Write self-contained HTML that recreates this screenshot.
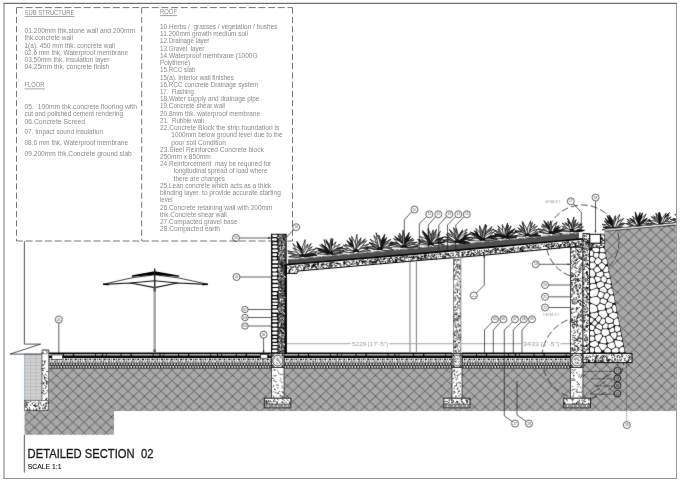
<!DOCTYPE html>
<html lang="en"><head><meta charset="utf-8"><title>Detailed Section 02</title>
<style>html,body{margin:0;padding:0;background:#fff}body{width:680px;height:483px;overflow:hidden}svg{display:block}text{font-family:"Liberation Sans",sans-serif;white-space:pre}</style>
</head><body>
<svg width="680" height="483" viewBox="0 0 680 483">
<defs>
<pattern id="hatch" width="11" height="10.4" patternUnits="userSpaceOnUse" patternTransform="translate(1.5 1)"><rect width="11" height="10.4" fill="#a9a9a9"/><path d="M0 0L11 10.4M0 10.4L11 0" stroke="#484848" stroke-width="0.8" fill="none"/></pattern>
<pattern id="brick" width="5.6" height="3.5" patternUnits="userSpaceOnUse" patternTransform="translate(24.5 354.6)"><rect width="5.6" height="3.5" fill="#d6d6d6"/><path d="M0 0.4H5.6M0.4 0V3.5" stroke="#b4b4b4" stroke-width="0.8"/><path d="M0 2H5.6M3.2 0V3.5" stroke="#c8c8c8" stroke-width="0.5"/></pattern>
<pattern id="gravel" width="2.8" height="6.3" patternUnits="userSpaceOnUse" patternTransform="translate(0.4 362.5)"><rect width="2.8" height="6.3" fill="#1a1a1a"/><ellipse cx="0.7" cy="1.7" rx="0.95" ry="1.0" fill="#fff"/><ellipse cx="2.1" cy="4.3" rx="0.95" ry="1.0" fill="#fff"/><rect x="0" y="5.8" width="2.8" height="0.5" fill="#555"/></pattern>
<filter id="soft" x="0" y="0" width="680" height="483" filterUnits="userSpaceOnUse" color-interpolation-filters="sRGB"><feConvolveMatrix order="3" kernelMatrix="0.012 0.065 0.012 0.065 0.692 0.065 0.012 0.065 0.012" edgeMode="duplicate" preserveAlpha="false"/></filter>
<filter id="gray" x="0" y="0" width="680" height="483" filterUnits="userSpaceOnUse" color-interpolation-filters="sRGB"><feOffset dx="0" dy="0"/></filter>
</defs>
<rect width="680" height="483" fill="#fff"/>
<g id="frame" fill="none"><path d="M3.4 3.4H677" stroke="#707070" stroke-width="1.1"/><path d="M4 3.4V479" stroke="#8c8c8c" stroke-width="1.2"/><path d="M676.5 3.4V479" stroke="#9a9a9a" stroke-width="1"/><path d="M3.4 478.5H677" stroke="#959595" stroke-width="1"/></g>
<g filter="url(#soft)">
<g id="earth">
<path d="M48.5 368.7H676V411H114V434.8H24.5V410H48.5Z" fill="url(#hatch)"/>
<path d="M604.6 231L676 224.8V370H583V353H625L604.6 247Z" fill="url(#hatch)"/>
<path d="M48.5 411H114" stroke="#8a8a8a" stroke-width="0.6"/>
</g>
<circle cx="582.5" cy="241.5" r="36.5" fill="none" stroke="#333" stroke-width="0.85" stroke-dasharray="7 3"/>
<circle cx="583" cy="358" r="41" fill="none" stroke="#333" stroke-width="0.85" stroke-dasharray="7 3"/>
<g id="leftedge">
<rect x="24.5" y="354" width="17.5" height="46" fill="url(#brick)" stroke="#9db4c8" stroke-width="0.8"/>
<rect x="42" y="350" width="6.5" height="60.4" fill="#fff" stroke="#333" stroke-width="0.6"/>
<path d="M43.2 401.0l-0.5 0.4M45.2 377.5l-0.5 1.1M43.0 352.7l-0.7 0.4M46.7 351.1l0.2 1.1M43.8 406.8l-0.4 0.1M42.6 382.9l-0.8 0.1M43.7 375.9l0.6 0.1M44.9 380.3l0.5 0.4M43.7 378.1l0.3 0.3M47.1 383.8l-0.3 0.5M48.0 401.7l0.7 0.3M46.5 393.0l-0.8 0.2M47.1 390.5l0.6 0.8M47.4 400.9l-0.0 1.0M42.7 365.3l-0.7 0.5M43.5 383.4l-0.6 0.9M44.6 376.9l-0.0 1.2M45.4 374.2l0.0 0.4M42.7 392.5l-1.0 0.1M44.7 361.1l-0.0 1.4M46.7 382.8l-0.6 0.3M45.3 407.2l-0.2 0.8M44.0 383.3l-0.4 0.1M46.8 399.4l-1.1 0.4M47.0 381.6l-0.2 0.8M42.8 402.3l-0.1 0.6M45.3 379.6l0.3 0.7M45.5 387.8l-0.3 0.8M42.7 364.5l0.8 0.5M47.2 398.1l-1.0 0.7M43.9 400.7l-0.3 0.4M42.6 351.9l-0.5 0.5M43.1 387.9l0.2 0.4M43.4 382.1l0.6 0.3M46.4 377.8l0.5 0.7M42.6 373.8l0.1 0.6M43.1 404.1l-0.0 0.6M45.8 399.2l0.4 0.0M43.3 393.4l1.0 0.5M46.2 383.1l1.1 0.9M46.9 381.5l0.8 0.7M44.7 385.0l0.5 0.9M42.8 368.6l-1.3 0.1M44.2 401.7l0.8 1.1M46.6 375.6l0.3 0.3M47.3 353.2l-1.1 0.7M45.6 361.1l-1.3 0.6M46.4 381.0l0.3 0.7M43.6 390.8l0.1 0.6M43.1 390.3l0.5 0.7M44.3 402.4l-0.4 0.1M43.6 370.3l-1.2 0.0M44.4 363.6l-0.6 1.1M47.6 371.3l-1.0 0.4M45.2 409.1l0.8 0.8M43.0 361.0l-0.6 0.2M46.7 386.4l-0.7 0.4M44.4 368.2l-0.9 0.4M47.7 403.3l0.9 0.4M43.1 353.3l1.2 0.3" stroke="#000" stroke-width="0.70" fill="none" stroke-linecap="round"/>
<rect x="24.5" y="400.3" width="24" height="10.1" fill="#fff" stroke="#333" stroke-width="0.6"/>
<path d="M47.0 409.5l0.5 0.1M44.2 407.6l-0.4 0.6M38.9 406.5l-0.1 0.5M34.9 404.5l-0.9 1.1M46.8 405.9l0.1 0.7M25.8 401.2l0.1 0.7M33.7 409.0l-0.1 1.0M30.4 401.2l0.3 0.5M36.7 410.0l-0.3 0.5M45.6 408.2l-0.9 1.0M42.5 408.1l0.6 1.2M47.1 402.5l-0.8 0.8M35.6 405.8l0.0 1.3M36.5 408.5l0.6 1.2M45.7 405.1l-0.3 1.3M41.6 405.4l0.6 0.5M41.1 402.5l-0.6 0.2M46.0 403.8l-1.1 0.1M36.6 405.7l-0.5 0.9M32.2 402.9l-0.0 1.3M39.3 401.7l-1.0 0.6M45.9 402.7l-0.3 0.3M40.0 403.5l1.0 0.8M27.4 405.7l-0.6 0.3M29.8 408.9l0.3 1.1M25.7 404.3l0.9 0.6M26.9 409.6l1.1 0.1M25.5 403.3l-0.5 0.3M29.2 407.2l0.2 0.4M47.8 402.4l0.7 0.1M39.2 407.7l0.7 0.3M25.7 405.0l-0.8 0.8M45.7 407.8l-1.0 0.5M35.9 403.0l-0.3 0.6M27.3 405.0l-0.5 0.2M38.5 404.5l-0.0 0.5M47.1 403.3l-0.3 0.8M25.4 406.0l0.4 0.2M25.8 402.5l1.0 0.3M36.7 409.9l-1.4 0.3M30.3 405.0l0.7 0.7M39.4 408.2l-0.4 0.5M34.7 405.7l0.4 0.0M34.4 402.0l-0.4 0.5M27.3 402.6l0.5 0.4M37.0 405.2l0.6 0.9M29.9 409.2l-1.1 0.1M35.0 405.6l-0.1 0.4M34.6 405.7l0.4 0.3M43.5 404.3l-0.1 1.3M39.0 403.6l-0.8 0.0M25.4 407.2l0.7 0.2M44.3 407.1l0.9 0.0M34.4 405.4l0.8 0.6M26.7 403.6l0.5 1.2M26.8 407.8l0.8 0.6M34.0 405.2l-0.6 0.6M27.8 402.1l1.2 0.3M39.7 409.6l-0.2 0.3M40.2 408.0l-0.6 0.7" stroke="#000" stroke-width="0.70" fill="none" stroke-linecap="round"/>
</g>
<g id="floor">
<rect x="49" y="352.5" width="222.60000000000002" height="5.8" fill="#050505"/>
<path d="M49 354.9H271.6" stroke="#e4e4e4" stroke-width="1.15" stroke-dasharray="14 0.9 9 1.2 21 0.8 6 1 3 0.7"/>
<rect x="49" y="358.3" width="222.60000000000002" height="4.2" fill="#f4f4f4"/>
<path d="M49 359.5H271.6" stroke="#222" stroke-width="1.3" stroke-dasharray="0.8 1.1 1.6 0.9 0.6 1.4 2.2 1"/>
<path d="M49 361.3H271.6" stroke="#333" stroke-width="1.1" stroke-dasharray="1.2 1.3 0.7 1.9 1.8 0.8"/>
<rect x="49" y="362.5" width="222.60000000000002" height="6.3" fill="url(#gravel)"/>
<rect x="284" y="352.5" width="168" height="5.8" fill="#050505"/>
<path d="M284 354.9H452" stroke="#e4e4e4" stroke-width="1.15" stroke-dasharray="14 0.9 9 1.2 21 0.8 6 1 3 0.7"/>
<rect x="284" y="358.3" width="168" height="4.2" fill="#f4f4f4"/>
<path d="M284 359.5H452" stroke="#222" stroke-width="1.3" stroke-dasharray="0.8 1.1 1.6 0.9 0.6 1.4 2.2 1"/>
<path d="M284 361.3H452" stroke="#333" stroke-width="1.1" stroke-dasharray="1.2 1.3 0.7 1.9 1.8 0.8"/>
<rect x="284" y="362.5" width="168" height="6.3" fill="url(#gravel)"/>
<rect x="462" y="352.5" width="108.60000000000002" height="5.8" fill="#050505"/>
<path d="M462 354.9H570.6" stroke="#e4e4e4" stroke-width="1.15" stroke-dasharray="14 0.9 9 1.2 21 0.8 6 1 3 0.7"/>
<rect x="462" y="358.3" width="108.60000000000002" height="4.2" fill="#f4f4f4"/>
<path d="M462 359.5H570.6" stroke="#222" stroke-width="1.3" stroke-dasharray="0.8 1.1 1.6 0.9 0.6 1.4 2.2 1"/>
<path d="M462 361.3H570.6" stroke="#333" stroke-width="1.1" stroke-dasharray="1.2 1.3 0.7 1.9 1.8 0.8"/>
<rect x="462" y="362.5" width="108.60000000000002" height="6.3" fill="url(#gravel)"/>
<rect x="51.9" y="354.9" width="10.6" height="4.6" fill="#fff" stroke="#111" stroke-width="0.6"/>
<rect x="260.6" y="354.6" width="7" height="3.6" fill="#fff" stroke="#111" stroke-width="0.6"/>
</g>
<g id="footings">
<rect x="271.6" y="353.6" width="12.399999999999977" height="14" fill="#fff" stroke="#111" stroke-width="0.9"/>
<path d="M272.20000000000005 354.4h2.6l-2.6 2.8zM283.4 354.4h-2.6l2.6 2.8zM272.20000000000005 366.8h2.6l-2.6 -2.8zM283.4 366.8h-2.6l2.6 -2.8z" fill="#111"/>
<ellipse cx="277.8" cy="360.6" rx="5.1" ry="5.4" fill="#f0f0f0" stroke="#222" stroke-width="0.8"/>
<path d="M278.2 360.1l-0.1 0.6M279.7 362.4l-0.3 0.5M277.9 359.5l1.0 1.0M280.8 357.8l-0.9 0.4M277.1 359.2l-0.4 0.7M278.9 361.5l1.1 0.5M280.7 363.3l-0.2 0.4M274.8 358.3l-0.7 0.1M277.0 362.9l0.5 0.8M277.4 357.9l-0.3 1.2" stroke="#555" stroke-width="0.70" fill="none" stroke-linecap="round"/>
<rect x="271.6" y="367.6" width="12.399999999999977" height="30.6" fill="#fff" stroke="#111" stroke-width="0.7"/>
<path d="M277.3 384.7l-0.8 0.2M277.9 385.4l0.8 0.5M279.2 391.2l0.7 0.2M273.5 391.7l-0.3 0.4M282.8 396.0l-0.5 0.9M274.2 369.4l-0.0 0.5M274.6 375.8l0.9 0.1M277.2 392.6l-0.1 1.0M277.8 387.5l0.1 0.7M283.0 396.9l-1.0 0.5M275.9 375.4l0.3 0.4M280.6 380.2l-0.7 0.4M282.6 392.7l0.6 0.0M282.1 382.2l-0.8 0.0M273.4 386.6l-0.5 0.4M273.5 378.3l-1.2 0.1M273.8 375.9l0.4 0.1M280.9 374.0l-0.2 0.8M274.6 389.5l1.0 0.4M273.8 380.8l0.5 0.4M282.7 391.5l0.7 1.0M274.8 380.0l-0.9 0.5M273.6 396.7l0.5 0.4M280.6 378.2l0.3 0.4M273.5 385.3l0.7 0.7M276.5 381.7l-0.9 0.1M278.6 393.3l0.5 0.3M282.0 391.9l0.4 0.4M280.3 395.3l1.1 0.8M281.8 385.9l0.1 0.5M273.0 396.0l0.8 0.8M275.3 392.1l-0.2 0.7M274.4 389.2l0.6 0.1M278.4 392.9l-0.2 0.6M282.1 374.7l0.7 0.0M277.2 370.7l0.7 0.4M278.6 372.7l0.5 1.2M282.8 387.4l-0.6 0.8M274.1 370.0l1.3 0.1M279.9 396.0l1.0 0.1" stroke="#222" stroke-width="0.70" fill="none" stroke-linecap="round"/>
<rect x="264.3" y="398.2" width="26.5" height="9.6" fill="#fff" stroke="#111" stroke-width="0.9"/>
<path d="M276.9 402.0l-0.3 0.5M265.6 400.7l0.8 0.9M282.2 401.7l-0.2 1.0M268.9 401.0l1.1 0.6M266.7 402.7l1.1 0.3M273.6 400.8l-0.4 0.2M266.8 403.1l-0.0 0.5M289.5 403.3l0.8 0.3M268.6 400.4l-0.2 0.5M282.4 399.2l1.0 0.6M275.1 400.9l-0.3 0.8M274.7 399.1l-0.9 1.0M289.2 402.0l0.3 0.7M282.2 402.0l0.6 0.2M274.2 401.3l-0.7 0.5M266.0 402.7l0.2 0.9M270.7 400.9l0.4 1.1M267.8 401.5l0.9 0.6M266.2 400.2l0.5 0.9M266.6 401.1l0.5 0.4M277.0 403.3l0.1 1.4M269.4 403.2l0.2 0.5M283.6 403.1l0.7 0.0M284.2 400.5l0.3 0.3M266.3 401.8l-1.4 0.1M277.6 399.1l0.6 1.0M285.7 401.9l0.7 0.6M277.0 401.8l0.9 1.0M287.2 399.7l0.8 1.0M272.1 403.2l-0.1 1.1" stroke="#000" stroke-width="0.70" fill="none" stroke-linecap="round"/>
<path d="M264.3 404.2H290.8" stroke="#111" stroke-width="0.8"/>
<path d="M264.8 406H290.3" stroke="#666" stroke-width="1.4" stroke-dasharray="3 0.8 5 0.6"/>
<rect x="452" y="353.6" width="10" height="14" fill="#fff" stroke="#111" stroke-width="0.9"/>
<path d="M452.6 354.4h2.6l-2.6 2.8zM461.4 354.4h-2.6l2.6 2.8zM452.6 366.8h2.6l-2.6 -2.8zM461.4 366.8h-2.6l2.6 -2.8z" fill="#111"/>
<ellipse cx="457.0" cy="360.6" rx="3.9" ry="5.4" fill="#f0f0f0" stroke="#222" stroke-width="0.8"/>
<path d="M459.4 361.6l-1.0 0.9M455.6 361.3l-1.2 0.4M457.4 358.5l0.4 1.3M454.6 359.4l-0.8 0.1M455.3 359.4l-0.7 0.2M456.6 361.3l-0.7 0.5M454.5 360.9l0.5 0.1M455.1 361.7l0.7 0.8M455.0 358.2l1.1 0.1M459.2 358.8l0.3 0.3" stroke="#555" stroke-width="0.70" fill="none" stroke-linecap="round"/>
<rect x="452" y="367.6" width="10" height="30.6" fill="#fff" stroke="#111" stroke-width="0.7"/>
<path d="M454.3 388.3l-0.4 0.8M454.7 391.2l-0.8 0.5M457.0 375.6l0.8 0.0M457.7 370.9l-0.5 0.4M454.9 370.2l-1.1 0.0M460.0 386.2l0.7 0.1M457.0 372.2l-0.8 0.1M454.2 391.9l1.2 0.5M456.6 384.5l0.4 0.8M454.5 370.0l-0.6 0.3M459.2 374.8l-1.3 0.1M459.0 390.4l-0.3 1.1M454.0 382.3l-0.5 0.3M460.4 393.9l0.2 0.7M456.6 379.8l-0.8 0.0M453.2 371.6l-0.9 1.1M457.0 382.8l-0.2 1.1M454.8 386.0l-0.2 1.0M454.4 373.8l0.6 1.2M455.8 385.7l0.3 0.4M453.5 391.8l-0.6 0.5M458.5 387.9l-1.3 0.4M456.3 396.7l-1.0 0.1M460.1 382.7l0.2 0.6M460.0 373.5l1.2 0.3M459.2 382.5l-0.4 0.2M455.1 377.1l0.1 0.6M453.6 378.5l-1.3 0.4M459.0 382.4l1.0 1.0M457.2 389.4l0.6 0.1M459.7 391.3l-0.9 0.4M456.4 385.3l-0.6 0.3M457.3 376.7l-0.3 0.3M458.5 395.7l1.0 0.1M458.2 392.8l-0.2 0.6M456.2 395.8l-0.5 0.2M453.8 371.6l0.8 0.1M454.1 393.3l-0.2 0.5M457.3 378.1l0.0 0.6M454.3 374.2l0.4 1.0" stroke="#222" stroke-width="0.70" fill="none" stroke-linecap="round"/>
<rect x="443.8" y="398.2" width="26.19999999999999" height="9.6" fill="#fff" stroke="#111" stroke-width="0.9"/>
<path d="M468.0 399.6l1.4 0.1M449.3 399.5l-0.3 0.7M466.3 400.0l-0.7 0.1M459.3 403.2l-0.7 1.1M461.9 399.2l-0.9 0.4M452.3 399.9l-0.9 0.4M467.5 402.5l-1.0 0.1M461.7 401.8l0.9 1.0M452.4 402.5l-1.0 0.1M448.2 402.7l-0.3 0.5M446.0 401.4l1.3 0.1M457.1 401.3l0.3 1.0M467.0 400.4l0.4 0.9M452.0 401.7l-0.1 0.8M461.1 401.4l1.3 0.4M453.4 400.9l0.4 1.3M467.8 401.3l0.2 0.5M466.5 399.8l-0.1 0.7M452.7 400.6l0.4 0.2M457.8 402.6l-0.3 0.5M461.6 399.2l0.3 1.2M467.1 401.1l-0.8 0.4M457.5 401.6l-1.1 0.0M456.2 402.3l-0.3 0.7M463.8 402.7l-0.4 1.3M445.2 401.3l-0.3 0.7M448.9 402.1l0.1 0.7M445.8 403.4l0.2 0.5M450.0 400.1l-0.5 0.2M451.5 399.4l0.1 0.6" stroke="#000" stroke-width="0.70" fill="none" stroke-linecap="round"/>
<path d="M443.8 404.2H470" stroke="#111" stroke-width="0.8"/>
<path d="M444.3 406H469.5" stroke="#666" stroke-width="1.4" stroke-dasharray="3 0.8 5 0.6"/>
<rect x="570.6" y="353.6" width="12.299999999999955" height="14" fill="#fff" stroke="#111" stroke-width="0.9"/>
<path d="M571.2 354.4h2.6l-2.6 2.8zM582.3 354.4h-2.6l2.6 2.8zM571.2 366.8h2.6l-2.6 -2.8zM582.3 366.8h-2.6l2.6 -2.8z" fill="#111"/>
<ellipse cx="576.75" cy="360.6" rx="5.0" ry="5.4" fill="#f0f0f0" stroke="#222" stroke-width="0.8"/>
<path d="M577.0 359.2l1.0 0.1M575.0 359.0l0.3 1.0M579.7 360.3l-1.4 0.0M575.2 357.9l1.1 0.6M577.3 363.0l-1.1 0.1M577.0 357.9l1.2 0.1M577.8 362.1l-0.2 1.1M577.6 362.9l0.8 0.3M575.6 362.5l-0.6 0.2M574.2 359.0l0.6 1.0" stroke="#555" stroke-width="0.70" fill="none" stroke-linecap="round"/>
<rect x="570.6" y="367.6" width="12.299999999999955" height="30.6" fill="#fff" stroke="#111" stroke-width="0.7"/>
<path d="M571.7 372.1l0.4 1.0M573.0 372.1l0.9 0.8M573.1 389.7l-0.3 0.5M577.1 381.5l0.4 1.3M572.6 369.6l-0.8 0.2M573.6 378.2l0.6 1.2M573.8 375.1l-0.2 0.9M581.4 392.5l0.3 0.5M580.2 396.7l1.1 0.1M580.5 387.2l0.9 0.8M579.1 374.4l-0.3 0.6M572.0 378.4l0.4 0.7M578.3 392.4l-1.4 0.2M581.8 391.1l0.3 0.5M578.0 384.3l-0.3 0.4M573.6 394.8l-0.3 1.0M572.6 380.2l-1.0 0.3M581.8 374.5l0.2 1.2M576.2 391.1l-0.1 0.5M572.6 396.5l0.6 0.2M575.1 389.0l-0.8 0.4M576.7 391.1l0.5 0.6M577.9 386.8l0.5 0.1M573.0 389.3l-0.8 1.1M579.5 376.1l-1.0 0.9M575.2 369.3l0.3 0.6M573.4 370.3l1.2 0.5M572.1 386.2l0.5 0.4M580.1 377.4l0.7 0.5M578.8 383.7l-0.7 0.3M577.0 389.1l0.1 1.1M576.4 372.7l1.1 0.4M579.3 395.4l-0.6 0.8M573.3 392.9l0.8 0.3M573.0 379.7l0.5 0.7M578.9 384.2l0.9 0.8M579.2 392.2l1.0 0.1M580.8 376.2l1.0 0.7M575.3 380.2l-0.7 0.4M573.6 375.0l0.5 1.0" stroke="#222" stroke-width="0.70" fill="none" stroke-linecap="round"/>
<rect x="563.8" y="398.2" width="26.700000000000045" height="9.6" fill="#fff" stroke="#111" stroke-width="0.9"/>
<path d="M566.7 400.0l0.8 1.1M577.1 402.2l0.9 0.3M585.6 401.4l-1.3 0.2M574.0 399.0l-0.4 0.4M565.0 402.3l-1.1 0.6M588.3 399.9l0.5 0.1M589.0 399.5l0.4 0.2M566.0 399.2l0.3 0.5M572.4 403.2l1.1 0.6M583.0 401.6l-0.3 1.1M579.3 400.0l0.3 0.6M574.7 403.4l0.1 0.5M576.6 402.7l0.2 1.1M567.0 399.3l-0.2 0.4M572.3 400.7l0.4 0.2M565.0 403.3l-0.8 1.1M576.9 403.3l-0.9 0.4M577.8 401.3l0.6 0.5M582.7 399.9l-0.8 0.4M579.7 402.7l-0.2 0.5M570.9 399.0l1.3 0.1M579.4 403.4l-0.6 0.5M588.7 403.2l0.1 0.5M572.7 399.7l0.2 0.4M582.4 403.4l0.9 0.7M579.2 401.2l-0.7 0.2M585.1 399.2l-0.6 0.1M564.9 403.0l-0.7 0.8M583.7 400.7l0.7 0.3M588.4 403.4l0.6 0.6" stroke="#000" stroke-width="0.70" fill="none" stroke-linecap="round"/>
<path d="M563.8 404.2H590.5" stroke="#111" stroke-width="0.8"/>
<path d="M564.3 406H590.0" stroke="#666" stroke-width="1.4" stroke-dasharray="3 0.8 5 0.6"/>
</g>
<g id="wallL">
<rect x="271" y="233.8" width="15.7" height="119.5" fill="#0a0a0a"/>
<rect x="278.4" y="234.6" width="7.2" height="118.4" fill="#5e5e5e"/>
<rect x="284.6" y="264" width="2.1" height="89.3" fill="#050505"/>
<rect x="272.1" y="234.8" width="5.4" height="2.1" rx="1.1" fill="#fff"/><rect x="272.0" y="238.2" width="4.9" height="2.6" rx="1.1" fill="#fff"/><rect x="272.4" y="242.2" width="5.1" height="2.1" rx="1.1" fill="#fff"/><rect x="272.3" y="245.5" width="5.3" height="2.8" rx="1.1" fill="#fff"/><rect x="272.2" y="249.4" width="5.8" height="2.6" rx="1.1" fill="#fff"/><rect x="272.3" y="253.3" width="4.9" height="2.6" rx="1.1" fill="#fff"/><rect x="272.3" y="257.2" width="4.8" height="2.2" rx="1.1" fill="#fff"/><rect x="272.3" y="260.6" width="5.8" height="2.7" rx="1.1" fill="#fff"/><rect x="272.2" y="264.7" width="5.7" height="2.3" rx="1.1" fill="#fff"/><rect x="272.1" y="268.5" width="4.9" height="2.9" rx="1.1" fill="#fff"/><rect x="272.3" y="272.4" width="5.3" height="3.0" rx="1.1" fill="#fff"/><rect x="272.1" y="276.6" width="5.2" height="2.4" rx="1.1" fill="#fff"/><rect x="272.3" y="280.3" width="5.8" height="2.5" rx="1.1" fill="#fff"/><rect x="272.3" y="284.2" width="5.9" height="2.8" rx="1.1" fill="#fff"/><rect x="272.4" y="288.1" width="5.9" height="2.8" rx="1.1" fill="#fff"/><rect x="272.3" y="292.2" width="5.0" height="2.7" rx="1.1" fill="#fff"/><rect x="272.3" y="296.2" width="4.9" height="2.1" rx="1.1" fill="#fff"/><rect x="272.2" y="299.8" width="5.7" height="1.9" rx="1.1" fill="#fff"/><rect x="272.3" y="302.8" width="5.6" height="2.2" rx="1.1" fill="#fff"/><rect x="272.3" y="306.0" width="4.8" height="2.5" rx="1.1" fill="#fff"/><rect x="272.2" y="309.7" width="5.9" height="2.9" rx="1.1" fill="#fff"/><rect x="272.2" y="314.0" width="4.9" height="2.2" rx="1.1" fill="#fff"/><rect x="272.2" y="317.2" width="5.2" height="2.0" rx="1.1" fill="#fff"/><rect x="272.1" y="320.3" width="5.8" height="1.9" rx="1.1" fill="#fff"/><rect x="272.2" y="323.7" width="5.2" height="2.9" rx="1.1" fill="#fff"/><rect x="272.2" y="327.8" width="5.5" height="2.6" rx="1.1" fill="#fff"/><rect x="272.2" y="331.7" width="5.4" height="2.9" rx="1.1" fill="#fff"/><rect x="272.4" y="336.0" width="5.1" height="2.1" rx="1.1" fill="#fff"/><rect x="272.2" y="339.3" width="4.8" height="2.5" rx="1.1" fill="#fff"/><rect x="272.3" y="343.1" width="5.5" height="1.8" rx="1.1" fill="#fff"/><rect x="272.3" y="345.9" width="5.3" height="2.6" rx="1.1" fill="#fff"/><rect x="272.0" y="349.7" width="5.6" height="2.6" rx="1.1" fill="#fff"/>
<path d="M280.1 247.2l0.2 0.5M279.2 282.4l-1.2 0.3M283.1 261.2l-0.1 0.7M279.8 247.5l1.0 0.8M283.4 330.2l-0.5 0.3M280.5 309.0l-0.8 0.9M283.7 245.2l-0.3 1.0M281.6 256.0l0.0 0.5M284.0 337.1l-0.1 0.7M283.9 302.5l-1.2 0.5M281.6 283.8l-0.3 0.8M279.7 271.0l-0.4 0.2M279.1 308.9l0.6 0.7M281.4 275.5l-0.6 0.0M281.1 258.9l-0.3 0.6M280.8 323.1l0.5 0.8M283.9 246.9l0.6 0.1M283.1 307.6l0.5 0.5M279.8 289.2l1.1 0.1M283.8 347.7l-0.9 1.0M278.9 269.1l-1.2 0.1M281.1 346.3l-0.5 1.1M280.4 257.6l0.1 0.5M280.9 348.5l0.2 0.4M279.1 255.0l-0.6 0.5M280.4 246.5l-0.8 0.0M280.0 242.0l0.6 0.1M282.6 252.7l0.9 0.1M280.2 352.7l0.9 0.3M283.1 283.3l-0.9 0.0M280.2 283.5l0.8 0.1M280.2 339.9l-0.8 0.5M279.0 265.0l0.4 0.4M280.1 337.6l0.4 0.2M284.0 301.7l-0.8 0.0M283.8 312.2l-0.9 0.7M281.6 246.0l1.0 0.8M283.8 344.1l0.5 0.9M283.3 310.8l-0.8 0.5M282.5 315.9l0.9 1.0M284.2 243.8l-1.4 0.1M282.5 240.3l-0.5 0.2M284.2 313.7l0.6 0.1M282.4 302.2l-0.9 0.9M280.0 235.4l-0.4 0.1M283.7 248.7l-1.0 0.7M283.7 300.0l-0.6 0.2M282.6 274.0l-1.1 0.4M281.4 297.1l0.4 0.0M282.1 292.7l-0.9 0.4M279.6 277.8l-0.7 0.6M278.9 333.8l-0.4 0.3M281.8 280.0l-0.6 0.4M280.1 292.4l-0.5 0.1M279.4 308.3l-0.9 0.3M281.2 336.2l-0.4 0.3M283.7 258.1l0.7 1.0M281.2 329.2l1.1 0.6M279.8 252.6l0.0 0.7M281.8 341.7l-0.2 0.3M280.5 299.3l0.0 1.1M281.5 243.9l0.9 0.9M280.8 325.5l-1.0 0.0M282.6 306.9l0.7 1.1M281.4 342.5l0.7 1.0M283.2 307.3l0.1 0.5M283.1 277.7l-0.3 0.5M279.3 252.0l-0.5 0.3M283.9 278.9l-0.2 0.7M282.3 246.0l0.4 1.3M279.8 312.2l0.4 0.6M278.9 237.4l-1.2 0.2M283.3 330.3l-0.6 0.1M282.1 293.4l-0.3 1.3M283.1 349.3l1.0 0.4M282.6 322.9l-0.4 1.1M280.5 344.5l0.3 1.0M283.8 318.0l0.4 0.5M280.6 309.0l-1.3 0.0M281.0 282.3l-0.6 0.4M281.1 236.6l0.8 0.5M282.7 307.5l0.6 1.2M282.3 253.4l1.3 0.3M284.3 343.6l-0.2 0.7M279.3 265.4l1.0 0.9M283.8 326.8l0.6 0.3M280.5 346.9l1.0 0.6M282.6 299.6l-0.7 0.1M281.7 253.6l0.4 0.1M280.6 249.4l1.4 0.3M280.4 340.0l-0.7 0.9M282.5 347.4l-1.0 0.4M281.9 316.9l-0.6 0.7M281.6 253.2l-0.8 0.4M279.2 254.8l-0.6 0.3M281.0 315.5l-0.7 0.3M281.0 284.9l1.3 0.1M278.9 348.3l0.5 0.3M283.6 332.2l0.7 0.6M281.5 319.8l1.0 0.7M284.4 318.4l-1.3 0.3M280.9 335.0l-0.9 0.5M279.4 308.1l-0.7 0.2M282.4 340.9l-0.1 0.4M282.3 265.2l-1.0 0.5M280.5 340.7l-0.3 0.7M283.5 340.2l-1.2 0.4M282.5 317.5l-0.3 0.9M284.3 276.7l1.1 0.3M281.6 299.4l-0.2 0.6M279.9 243.4l-1.0 0.8M282.7 248.8l-1.2 0.1M281.7 235.1l-0.9 0.5M282.3 237.2l-0.3 0.3M281.5 252.1l0.5 1.2M283.0 331.3l0.5 0.6M282.2 239.0l0.4 1.3M283.0 336.8l0.6 0.9M283.2 318.1l0.1 0.6M278.9 339.7l-0.7 0.1M283.0 283.0l-0.5 1.1M280.6 308.2l0.6 0.7M279.0 266.1l0.8 1.0M279.5 324.5l1.3 0.4M279.7 245.9l1.0 0.8M282.5 340.1l0.0 0.5M280.7 288.8l-0.6 0.0M280.2 334.5l1.3 0.5M280.5 301.9l-0.6 1.1M279.2 334.9l0.9 0.6M279.0 325.5l0.5 0.3M279.0 273.3l0.7 1.2M282.2 278.0l-0.6 0.0M280.0 347.8l-1.1 0.2M284.3 241.8l-1.1 0.3M282.5 334.5l0.6 0.2M279.6 291.5l-0.1 0.9M280.8 322.8l-1.0 0.6M279.0 253.0l0.5 0.4M282.0 258.0l-0.3 0.7M280.8 318.6l-0.6 0.1M280.8 350.8l0.3 0.3M279.9 332.4l-0.9 1.0M281.6 239.9l0.6 0.9M281.0 251.5l0.3 0.8M280.8 287.7l0.4 0.2M283.2 321.4l0.1 0.5M280.5 300.9l-0.8 0.3M284.3 297.2l0.9 0.5M282.2 305.7l-0.3 0.3M281.2 329.4l0.4 0.2M279.8 268.7l0.1 0.7M282.4 255.1l0.5 1.0M281.8 348.1l-0.6 0.1M280.7 298.4l-0.1 0.8M283.6 258.2l0.0 0.5M283.7 305.3l-0.5 0.0M282.8 305.4l1.2 0.2M283.7 244.5l-1.2 0.2M282.2 299.2l0.3 0.3M281.5 337.2l0.7 0.5M280.4 316.5l-1.3 0.2M280.4 284.2l0.9 0.0M283.6 334.7l0.8 0.2M279.2 285.1l-0.7 0.2M283.5 347.7l-0.5 0.3M283.9 343.9l-0.4 0.0M278.8 269.4l-0.0 0.8M279.3 310.6l-0.5 0.9M281.7 299.8l-0.3 0.4M281.2 251.0l1.1 0.4M280.6 275.0l0.6 0.8M279.5 310.7l1.3 0.3M279.7 325.6l-0.1 0.8M280.5 277.4l-0.7 0.6M281.8 264.2l-0.2 0.5M281.5 311.9l-0.1 1.0M282.0 257.9l-1.1 0.1M282.9 347.7l0.1 0.7M280.5 272.3l0.4 0.6M280.0 292.1l0.5 0.6M282.5 272.2l-1.1 0.5M280.6 333.5l0.4 0.3M284.4 238.9l1.3 0.0M278.8 312.3l-0.1 0.6M280.2 349.1l0.2 0.6M281.3 321.4l0.3 0.4M283.2 246.3l0.4 0.1M284.4 286.2l-0.6 0.7M284.3 275.5l0.5 1.0M278.8 277.9l-0.7 0.7M281.5 345.5l0.2 1.1M281.0 245.2l0.2 0.6M279.0 268.7l0.8 0.3M282.9 324.4l-0.7 0.3M282.5 339.9l0.4 1.2M279.4 343.7l-1.3 0.5M283.5 318.9l0.2 1.1M283.7 302.9l-0.5 1.2M280.4 274.6l1.3 0.1" stroke="#fff" stroke-width="0.80" fill="none" stroke-linecap="round"/>
<path d="M281.4 262.2l1.1 0.7M282.7 316.4l-0.1 0.8M283.8 303.0l-0.8 0.7M284.5 286.8l0.5 0.3M283.7 254.8l-0.5 0.9M279.2 327.5l1.3 0.1M284.5 260.5l-0.7 0.9M279.7 314.1l1.2 0.5M283.5 350.6l0.7 0.1M283.0 306.8l1.1 0.7M284.6 270.6l1.0 0.5M281.6 313.3l0.0 0.8M278.9 250.9l0.1 1.1M281.7 322.8l-0.2 1.3M283.3 273.0l0.4 0.2M279.1 336.8l-1.1 0.4M279.5 312.9l1.2 0.5M283.3 323.5l-0.3 0.8M284.6 348.5l0.6 0.6M283.8 315.2l0.2 0.8M285.4 267.6l0.9 0.7M280.7 340.9l0.7 1.1M281.4 339.4l-0.8 0.8M280.3 254.4l0.6 0.1M283.3 242.6l0.7 0.7M279.9 273.8l0.8 0.7M279.6 352.7l-0.3 1.1M282.6 293.7l-1.3 0.1M284.4 238.5l-0.4 1.3M283.1 295.5l-0.3 0.5M283.7 327.5l0.9 0.2M282.8 276.5l-0.7 1.1M285.0 271.3l1.1 0.6M283.0 332.9l-0.6 0.3M282.8 270.8l-0.9 0.6M280.4 294.0l-0.2 0.6M280.0 291.0l0.9 0.2M285.2 332.5l1.2 0.2M283.7 318.6l1.2 0.1M280.1 329.8l0.4 0.7M280.0 337.4l1.0 0.8M282.3 252.5l-0.4 0.8M279.0 332.2l0.3 0.3M284.0 320.8l0.2 0.5M282.4 304.2l-0.5 0.7M282.7 320.1l0.5 0.3M282.1 324.0l-1.0 0.7M281.8 319.2l0.7 0.3M279.3 333.6l-1.1 0.0M283.9 278.9l-0.4 0.3M281.3 276.4l-0.5 0.2M279.9 245.5l-0.6 0.3M284.9 271.9l-0.5 0.3M284.9 349.9l-1.0 0.4M284.9 342.9l-0.7 0.1M284.6 327.0l0.3 0.5M284.9 290.7l-0.1 1.3M282.1 264.8l-0.5 0.8M280.7 316.7l-0.6 0.2M284.3 323.9l-0.0 0.6M283.3 268.2l0.9 0.9M280.6 245.9l-1.2 0.7M280.9 282.8l-0.2 1.1M278.9 311.5l1.0 0.9M281.6 346.4l0.2 1.0M279.1 258.9l0.5 0.6M280.0 284.7l0.9 0.3M285.3 336.1l-0.5 1.3M283.8 309.8l0.1 0.5M284.9 340.8l-0.9 0.6M284.3 348.1l-1.2 0.1M278.9 346.8l-0.2 0.8M281.7 266.9l1.0 0.1M283.0 245.2l-1.3 0.3M284.7 298.4l0.3 0.8M281.3 347.8l-1.3 0.3M282.3 295.3l-0.4 0.6M280.1 351.2l0.4 0.5M282.1 245.4l-0.0 0.6M284.4 244.7l-0.5 0.4M284.2 329.5l-0.6 0.1M285.5 252.5l0.2 0.4M282.2 244.7l-0.2 1.3M284.1 311.4l1.3 0.4M281.3 347.0l0.6 0.3M285.2 323.1l0.7 0.5M282.5 264.7l0.4 0.3M282.3 284.1l0.4 0.8M281.2 280.6l-0.4 0.4M279.4 287.7l0.5 0.7M284.6 346.7l-1.1 0.7M280.4 275.9l0.6 0.2M280.6 263.3l0.7 1.2M282.3 341.2l-0.1 1.1M283.4 304.9l-1.0 0.2M282.2 262.1l0.8 0.3M281.6 250.4l-0.4 0.1M281.8 264.1l0.4 1.2M285.4 282.0l-0.8 1.0M280.8 281.8l0.3 1.2M280.9 340.8l0.9 0.6M283.1 239.0l0.6 1.1M281.5 241.8l0.1 0.9M282.0 284.7l-1.1 0.2M281.8 287.7l-0.5 0.4M282.1 324.7l0.5 0.2M279.1 314.0l-0.9 0.6M283.0 238.7l0.4 0.8M281.1 264.5l0.2 0.6M279.3 302.4l0.8 0.1M281.5 330.6l-0.5 0.7M278.8 319.0l-0.7 0.8M285.5 293.0l0.3 0.9M279.5 308.9l1.0 0.4M283.0 315.8l0.9 0.6M285.2 351.3l-0.4 0.4M284.1 255.9l-0.4 0.0M278.9 282.4l1.3 0.3M285.1 265.6l-0.7 0.3M284.4 249.7l-0.8 0.2M280.4 287.5l0.4 0.0M282.0 305.3l-0.9 0.0M281.1 265.8l1.3 0.1M283.6 266.2l-0.8 0.8M283.1 288.3l-1.2 0.5M284.0 256.9l0.2 1.0M285.3 294.6l0.0 0.5M279.2 266.7l-0.3 0.5M283.9 310.9l0.6 0.7M284.5 238.7l-0.4 1.1M285.4 274.2l-0.5 1.1M280.9 326.5l-1.0 1.0M281.6 247.9l-0.1 1.1M285.0 324.2l-0.2 1.2M284.6 307.2l0.3 0.3M282.8 236.6l0.6 1.2M280.6 316.3l-0.5 0.5M282.9 339.5l-0.5 0.6M285.6 314.2l0.9 0.8M284.1 338.5l-1.0 0.6M281.5 324.2l-0.9 0.8M280.3 351.4l-0.3 1.3M282.3 327.1l-0.2 0.7M282.1 331.9l0.8 1.0M283.8 328.0l-0.1 1.1M283.1 284.0l1.0 0.0M283.5 300.5l0.3 0.9M279.5 311.0l0.5 0.1M279.3 347.4l-1.0 0.3M285.2 259.7l-0.4 0.8M279.5 303.1l0.6 0.2M279.8 264.0l-0.8 0.3M282.5 252.0l0.4 0.2M283.6 303.3l-0.7 0.7M280.5 282.0l0.5 1.2M283.6 333.2l-0.6 1.2M284.0 235.0l0.4 0.1M284.9 259.8l0.1 1.0M280.3 267.6l-0.5 0.2M284.5 290.3l-0.4 0.7" stroke="#000" stroke-width="0.80" fill="none" stroke-linecap="round"/>
<path d="M281.6 235V353" stroke="#111" stroke-width="0.6" stroke-dasharray="1.5 1"/>
</g>
<g id="roof">
<path d="M286.5 264.69 290.0 264.40 298.0 263.74 420.0 253.60 480.0 248.18 565.0 240.50 583.0 238.87 L583.0 245.78 565.0 247.50 480.0 255.60 420.0 260.40 298.0 271.00 290.0 271.70 286.5 272.00Z" fill="#fff"/>
<path d="M471.1 254.1l-1.2 0.9M505.6 251.9l1.0 0.1M565.8 244.9l-0.6 0.2M425.6 255.5l-0.1 1.1M290.9 266.7l0.9 1.1M513.3 247.2l-0.5 0.4M469.5 251.0l1.4 0.0M348.9 261.8l-1.4 0.1M372.5 263.5l-0.1 1.2M347.5 265.6l-0.8 1.2M551.1 244.5l0.3 0.6M330.1 262.6l0.6 0.9M288.0 269.4l0.4 0.7M528.9 247.5l0.5 0.8M495.2 248.3l-0.5 0.0M508.6 251.3l1.3 0.1M395.2 259.7l0.5 0.0M340.5 266.3l1.0 0.7M561.7 246.7l0.4 0.8M442.0 256.7l1.2 0.4M522.6 250.0l1.4 0.2M313.9 265.4l-0.5 1.3M387.5 262.1l-0.1 0.8M380.6 259.0l0.6 0.2M490.7 253.8l0.5 0.3M578.6 243.1l0.2 0.7M462.5 255.3l0.1 0.9M303.5 269.3l1.0 0.1M534.8 245.1l-1.0 1.1M473.3 254.2l0.9 0.3M331.1 266.5l0.6 0.8M582.3 244.3l-1.0 0.1M431.3 257.4l0.1 0.8M406.3 256.6l0.6 1.4M570.6 244.3l0.0 0.8M313.3 265.1l-1.1 0.9M393.8 260.8l-0.9 0.8M483.2 253.2l0.5 1.1M370.0 261.4l-0.9 0.8M373.8 263.3l-0.5 1.0M290.4 268.5l0.8 0.8M423.8 258.4l-0.6 1.2M389.8 260.5l-0.9 1.0M390.4 261.4l-1.1 0.5M575.4 245.5l-0.1 1.0M336.1 266.1l-1.0 0.2M491.3 252.2l-0.4 0.5M517.6 249.0l-0.5 0.8M471.3 254.3l-0.5 1.1M295.2 266.0l0.2 1.1M351.7 263.9l-0.2 0.5M426.4 255.3l0.6 0.1M380.8 259.0l0.4 0.3M424.5 256.2l-0.4 1.0M357.3 264.6l0.9 0.0M369.3 261.1l1.2 0.5M397.5 256.8l-0.2 0.6M448.1 254.0l-0.4 1.4M528.9 247.1l-1.0 0.6M396.2 257.5l-0.3 1.0M569.9 246.1l-0.3 0.8M551.0 243.0l1.0 0.4M468.8 251.1l-0.6 1.3M398.1 258.7l0.6 0.5M574.4 242.7l-1.4 0.2M463.1 252.3l-1.0 0.1M409.8 257.2l-1.0 0.0M371.6 261.2l1.0 0.4M418.0 256.4l-1.0 0.8M290.9 268.3l0.9 1.1M518.1 247.2l0.4 0.5M579.2 241.9l-0.3 0.9M477.6 252.9l-0.4 0.4M511.7 248.1l-0.1 0.8M374.7 261.2l0.1 0.9M507.2 250.0l0.7 0.1M421.6 259.1l-1.0 0.4M291.3 269.6l0.2 1.0M496.3 251.3l0.1 1.4M400.9 258.3l-0.6 0.3M374.6 262.7l1.3 0.3M492.3 250.6l0.8 1.0M556.1 243.2l0.1 1.0M434.1 255.2l1.0 0.5M526.9 245.5l1.0 0.9M521.0 249.1l1.2 0.1M576.2 245.6l-0.3 0.4M535.8 245.5l-0.6 1.3M497.5 248.5l0.9 1.1M331.2 265.3l0.2 0.6M470.9 250.4l0.8 0.3M308.3 264.4l-0.3 1.2M546.6 244.0l0.2 0.8M464.4 253.4l-0.9 0.2M303.5 268.1l1.0 0.5M436.5 257.8l-0.2 1.1M364.8 262.2l0.9 0.9M439.8 253.7l0.6 0.6M504.7 248.1l-0.7 0.9M312.2 267.2l0.6 0.2M462.5 252.2l-0.9 0.4M382.5 261.8l1.2 0.1M302.9 265.3l-1.2 0.2M352.9 261.0l-1.2 0.1M529.5 245.6l-0.3 0.8M356.4 261.8l-0.3 0.8M401.0 257.0l-1.0 0.6M524.7 247.6l-0.9 0.5M462.1 254.0l-0.6 0.7M315.7 263.6l0.4 0.3M549.8 245.5l-0.4 0.3M425.9 258.6l-0.3 0.9M424.6 254.9l0.6 0.3M397.7 258.5l-0.6 0.2M362.1 261.0l0.7 0.4M356.5 262.5l1.4 0.1M396.0 261.4l-0.7 1.0M426.4 258.8l1.1 0.4M373.0 262.1l-0.4 0.5M346.4 261.0l0.4 0.4M405.5 260.7l0.3 0.7M425.3 255.7l-0.8 0.9M335.3 263.1l-0.7 1.2M477.9 251.9l-0.5 0.0M305.0 268.4l0.2 0.5M449.1 257.2l-0.1 0.8M314.7 263.9l-0.9 0.3M563.5 242.1l0.4 0.4M404.4 256.4l0.6 0.7M377.4 258.6l1.5 0.2M340.0 264.0l0.3 1.0M311.9 265.4l1.0 0.3M559.2 245.2l-0.6 0.3M292.1 268.3l0.0 1.1M398.3 259.7l-0.9 1.1M377.9 260.5l-0.6 0.4M321.2 264.6l1.2 0.3M529.1 246.6l0.5 0.2M359.4 260.3l0.2 1.1M359.5 260.1l-0.3 0.4M346.1 262.4l0.2 0.6M411.3 257.0l-0.8 0.7M551.8 246.2l-0.8 0.7M417.7 258.9l-0.7 1.3M502.1 251.1l0.9 1.0M400.0 257.1l0.7 0.1M364.6 262.8l0.4 0.4M512.7 249.4l0.5 0.0M325.4 264.5l-1.3 0.6M467.8 251.7l0.2 0.8M384.6 257.8l-0.3 1.3M501.8 247.9l-0.1 0.7M496.6 250.3l-1.3 0.2M321.9 264.6l-0.9 0.3M415.3 257.3l-1.1 1.0M444.4 257.5l-0.2 0.6M527.6 247.3l1.5 0.2M296.7 268.1l0.1 1.4M403.0 257.3l0.5 0.5M453.2 253.6l-0.5 0.5M390.9 258.4l-1.3 0.1M538.1 247.3l0.2 0.6M532.8 247.1l0.7 0.1M316.2 267.2l-0.7 0.2M522.5 247.2l-0.7 1.1M471.1 254.4l0.2 0.5M438.2 256.1l0.7 0.5M380.7 258.2l0.5 0.7M427.7 257.5l0.5 1.4M528.0 249.8l-0.7 1.0M445.6 256.5l0.5 1.0M487.8 251.5l0.4 0.4M312.8 265.6l-0.3 1.2M498.1 249.4l-0.8 0.2M498.6 248.1l-0.8 0.8M569.8 245.7l-0.7 1.1M505.3 250.3l0.8 0.6M551.8 244.1l-1.0 0.1M403.3 256.2l0.2 0.6M480.0 254.3l-1.1 0.3M401.3 256.9l-0.6 0.9M498.4 249.7l-0.7 0.2M377.3 259.7l-0.5 1.3M336.5 265.0l-0.5 0.5M305.5 267.3l-1.2 0.7M502.1 249.6l0.2 1.0M554.3 244.2l0.7 0.9M572.6 241.9l0.6 0.1M453.2 254.9l0.6 0.4M462.7 254.3l-0.7 1.0M305.1 266.9l-1.3 0.7M381.1 262.2l-0.6 1.3M354.7 263.7l-0.9 0.5M316.8 264.4l0.5 0.3M331.9 265.3l1.2 0.4M504.6 251.5l-1.0 0.7M560.1 247.0l-0.6 1.4M317.5 263.8l0.7 0.1M397.6 258.9l-0.7 1.0M311.8 265.9l-0.1 0.9M321.7 266.1l0.5 1.1M433.4 258.3l-0.6 0.1M511.5 250.3l0.4 0.5M428.5 255.8l-1.0 1.0M399.9 257.9l0.0 1.2M520.1 248.8l0.5 0.7M537.6 246.8l0.9 0.1M357.3 263.4l0.8 0.2M315.4 266.0l-1.0 0.1M401.1 260.9l0.8 0.2M526.6 245.2l-0.6 0.6M291.8 266.8l0.1 0.9M439.7 253.3l1.1 0.9M417.8 257.3l0.8 0.2M569.1 244.7l-0.0 0.6M403.0 260.0l0.2 1.1M553.6 246.0l-0.2 0.5M294.0 269.3l0.4 1.3M531.0 249.5l0.6 1.4M510.5 251.3l1.1 0.6M411.7 260.2l-0.7 0.0M411.5 256.8l0.1 0.8M484.0 249.7l0.8 0.5M308.8 266.0l-1.3 0.4M345.1 261.1l-1.3 0.8M464.0 251.5l1.0 1.0M564.1 241.9l0.8 0.5M365.8 263.1l0.5 1.2M331.9 264.8l-1.2 0.1M313.6 264.2l-0.4 0.8M396.0 259.1l-0.4 1.4M358.2 262.8l0.7 0.8M503.1 248.0l0.1 1.2M289.4 269.7l0.3 1.0M467.4 254.7l1.0 0.2M298.3 266.9l0.2 0.5M375.0 260.8l-0.7 1.3M396.5 259.3l-0.9 1.1M567.6 246.4l0.4 0.5M562.4 242.3l0.2 1.2M443.2 254.7l-0.8 0.2M450.0 256.3l0.8 0.4M433.1 256.4l0.8 0.6M304.7 264.8l0.3 0.6M572.9 242.3l0.8 1.0M506.0 248.4l-1.0 0.6M401.8 259.4l0.5 0.5M546.0 245.6l-0.6 0.2M327.6 262.7l-0.7 0.8M289.9 265.8l-0.8 0.5M544.5 243.8l-0.2 0.6M500.1 250.8l-0.2 0.7M567.4 242.0l1.2 0.2M314.4 263.9l0.1 1.1M550.6 246.7l1.1 0.2M536.3 244.9l-0.5 0.5M375.2 258.5l-0.7 0.7M553.5 245.1l0.6 0.3M364.8 264.1l0.5 0.4M391.2 257.6l0.3 1.1M479.3 250.4l0.9 0.4M490.1 250.9l-0.3 1.4M329.9 263.7l0.0 1.0M553.0 245.6l-0.4 0.8M518.8 250.2l0.4 0.5M363.6 261.3l-0.7 0.3M473.0 253.4l-0.6 0.1M514.5 248.0l1.1 0.4M536.5 247.3l1.5 0.2M400.5 259.5l-0.5 0.6M407.7 257.4l0.5 0.2M498.8 249.9l-0.5 0.2M376.1 259.3l-1.3 0.2M551.9 245.5l0.9 0.3M353.8 260.4l-0.2 0.8M318.9 265.9l-1.4 0.3M424.7 254.9l-0.5 0.4M445.8 252.9l-1.0 0.0M416.3 256.4l-0.2 1.5M413.4 256.4l-0.1 1.4M399.8 259.6l-0.8 0.2M526.6 247.9l0.5 0.2M564.5 244.1l0.3 1.4M456.6 254.1l0.8 1.0M362.7 261.9l-0.8 0.8M326.7 263.6l-0.7 1.0M317.3 268.5l0.6 0.3M313.5 266.0l-0.5 1.3M335.2 265.4l1.0 0.4M361.4 261.5l1.2 0.2M323.1 266.8l0.5 1.0M475.9 252.4l-1.3 0.5M370.4 260.6l-0.6 0.2M411.1 257.5l-0.6 0.0M480.6 253.4l-0.3 0.4M565.8 243.2l-1.0 0.5M411.3 259.6l-0.4 0.7M503.3 250.0l-0.7 0.9M522.2 246.4l0.0 0.5M520.7 249.7l-0.5 0.3M445.2 254.9l0.7 0.3M574.9 245.0l1.0 0.9M479.4 251.5l-0.3 0.7M367.9 259.2l-0.5 1.0M506.7 249.6l0.2 0.8M504.3 249.2l-0.4 1.2M418.4 258.2l0.7 0.1M535.4 245.1l0.5 0.1M513.4 246.9l0.1 0.9M524.3 247.9l-0.0 0.5M522.0 249.6l-0.5 1.2M468.5 254.2l-1.0 0.5M293.0 270.0l-0.7 0.0M306.5 266.0l0.8 0.3M313.4 264.8l0.9 0.0M375.7 262.1l0.2 0.6M568.7 245.8l-0.4 0.6M406.0 258.2l0.1 0.5M421.7 258.3l-0.8 1.1M488.8 252.7l-1.3 0.6M521.3 247.8l-0.6 1.0M547.8 246.9l0.1 0.7M383.8 259.0l-0.7 1.1M343.8 263.8l-0.8 0.4M315.0 266.7l0.3 0.6M372.1 258.8l0.8 0.4M318.0 263.3l-0.2 1.4M533.4 246.2l-0.6 0.1M331.4 262.2l1.1 0.2M510.7 249.1l-0.8 0.6M558.5 245.3l-0.1 0.7M413.0 257.5l-0.6 0.4M374.1 262.7l1.0 0.2M351.9 263.8l-0.2 0.6M502.8 249.5l0.7 1.1M517.1 247.6l-0.3 0.5M440.3 253.4l-0.6 1.3M475.0 250.0l-0.0 1.0M417.9 255.7l0.6 0.7M308.0 267.6l0.6 0.5M313.8 265.2l-0.8 0.2M315.4 265.3l-0.6 0.1M388.2 258.5l-0.5 0.8M316.0 267.9l0.6 1.0M420.8 258.9l0.7 0.1M371.4 260.2l-0.8 0.5M389.5 259.8l-0.9 0.5M420.4 257.9l-0.3 0.8M413.0 256.0l0.3 1.4M377.4 260.1l-0.3 1.0M338.8 263.8l-0.4 0.4M319.1 267.1l-0.5 0.2M311.1 267.1l0.7 0.9M297.1 267.4l0.7 0.4M491.9 251.0l-1.2 0.6M470.0 254.8l0.8 0.5M381.4 261.1l1.3 0.5M396.5 260.6l-1.4 0.3M402.3 260.4l-0.6 0.0M507.9 250.7l0.1 0.8M338.2 263.7l-0.9 0.2M362.5 262.7l0.2 1.1M421.3 256.1l1.3 0.1M481.7 250.5l0.0 1.1M435.8 257.8l-0.6 0.5M387.1 260.5l1.3 0.7M300.4 267.4l0.7 0.8M300.5 265.9l-1.3 0.0M352.3 262.7l0.6 0.1M343.7 266.2l0.4 0.6M306.3 264.8l-1.2 0.0M559.0 246.4l-0.6 0.5M337.0 263.1l0.7 0.1M499.7 250.2l0.8 0.0M538.0 248.5l-0.8 0.9M556.4 245.3l0.4 1.0M370.5 259.1l0.7 0.7M322.5 263.3l0.6 0.6M569.8 243.7l-1.1 0.6M462.1 252.7l0.3 0.8M474.4 254.5l-0.6 0.5M331.2 262.2l-0.2 0.7M288.6 267.3l0.5 0.5M483.3 252.2l0.8 1.0M348.0 265.5l1.0 0.4M495.3 251.9l0.1 1.4M472.9 253.7l0.7 0.2M424.6 257.0l1.2 0.4M389.4 259.7l-0.1 1.3M376.3 261.2l-0.4 1.1M379.3 259.6l0.1 1.1M477.5 250.3l0.2 1.0M344.5 261.6l-0.5 0.1M434.4 255.0l0.8 0.1M334.7 263.9l-0.6 0.2M390.9 260.6l-0.2 0.5M354.6 261.7l-0.9 0.3M363.1 261.9l0.0 0.6M484.1 252.9l0.1 1.0M514.7 251.3l-0.2 0.5M436.3 256.6l0.6 1.0M395.7 259.8l-0.4 1.1M560.5 245.7l-0.7 1.0M355.1 263.3l-0.2 0.5M509.9 247.9l0.0 1.0M500.4 251.6l0.1 1.4M417.9 257.7l-0.8 0.0M498.0 252.9l1.2 0.3M479.6 252.3l-1.1 0.8M330.3 264.8l-0.4 1.1M570.2 245.2l-0.5 0.3M413.0 259.8l-1.2 0.2M385.6 261.5l-0.1 1.2M475.4 254.4l-0.9 1.1M432.8 256.1l-0.5 0.9M301.5 269.7l0.5 0.8M299.5 265.8l-0.8 0.2M375.2 262.6l0.8 0.8M455.0 256.3l0.1 0.8M363.6 261.3l0.6 0.0M331.0 263.8l-1.1 1.0M391.7 258.4l0.7 0.9M428.5 254.6l-0.1 0.8M329.6 266.4l0.9 0.3M513.3 249.2l-0.8 0.3M566.6 241.8l-0.9 0.3M287.9 267.1l-1.2 0.0M504.9 251.4l0.8 0.0M424.6 258.8l-0.6 0.2M578.8 243.2l0.3 0.5M413.1 257.9l0.1 0.8M567.1 243.9l0.7 1.1M359.2 262.0l0.7 0.2M581.6 243.3l-0.1 1.2M485.6 251.7l0.3 0.6M295.7 265.8l0.1 0.5M486.3 250.6l0.6 0.5M432.6 254.7l-0.9 0.4M307.3 264.6l-1.0 0.4M373.1 262.2l1.4 0.2M563.7 245.1l0.9 0.1M534.3 247.5l0.6 0.4M305.8 267.0l0.8 0.5M551.6 247.5l0.0 1.3M326.6 267.4l-0.9 0.4M548.8 244.7l-0.8 0.1M560.1 246.3l-1.2 0.3M308.7 265.5l-0.7 1.2M488.2 248.8l0.4 0.8M337.6 262.8l-0.0 0.9M365.9 261.4l-1.1 0.2M509.2 251.7l1.4 0.1M315.1 264.5l-0.9 0.9M468.7 252.9l-0.6 0.7M344.4 262.2l0.5 0.2M568.3 246.1l0.4 0.8M369.4 262.9l0.0 0.7M548.3 247.9l0.9 0.1M352.3 263.7l0.3 0.7M376.4 261.4l-0.0 1.0M488.1 251.2l-0.9 0.2M520.9 250.5l-0.4 1.0M520.4 249.4l0.8 0.5M333.4 262.1l-0.5 0.7M362.3 259.7l1.2 0.1M392.8 259.2l-0.7 1.2M494.1 249.3l-0.7 0.0M458.6 254.7l0.9 1.1M467.3 254.3l1.2 0.6M371.9 261.9l-0.6 0.6M365.4 261.0l-1.2 0.1M426.3 257.0l-0.4 0.7M309.4 264.6l-0.3 1.1M576.0 243.8l-1.3 0.7M433.7 255.6l0.1 0.9M511.6 249.6l1.3 0.5M442.6 256.5l-0.2 1.1M457.2 252.0l1.1 0.5M390.3 257.9l-1.0 0.7M512.7 248.5l1.2 0.5M350.7 263.9l-0.4 0.6M287.6 268.9l-0.9 0.7M577.9 241.7l-0.6 0.7M458.5 252.9l0.8 0.7M466.5 255.4l-0.3 0.9M479.3 252.8l0.2 0.7M488.6 250.7l0.7 0.1M393.1 260.4l-0.5 0.9M528.2 246.7l0.6 1.1M487.7 251.0l-0.5 0.2M445.5 256.8l-0.6 0.3M525.6 248.0l-0.8 0.2M483.3 252.5l-0.8 0.0M402.1 256.9l-0.3 0.5M537.9 244.9l1.2 0.8M434.3 257.2l0.3 0.7M395.9 261.6l1.2 0.8M547.9 246.7l0.8 0.9M554.4 245.6l0.9 0.7M569.6 244.2l0.6 0.3M473.2 250.2l0.9 0.0M363.1 262.0l1.0 0.2M486.6 250.5l-0.3 1.0M520.2 248.8l-0.4 1.0M530.2 245.3l1.3 0.5M533.5 244.6l-1.0 0.4M540.0 247.6l0.2 0.6M513.0 250.1l0.1 0.8M394.6 261.5l0.1 0.7M578.5 245.3l0.6 0.4M502.6 249.4l0.1 1.2M367.7 262.1l0.6 0.4M448.2 254.4l-0.6 0.2M557.7 243.7l0.3 0.5M380.4 262.9l0.6 1.2M575.5 244.2l0.8 0.5M336.4 263.0l0.3 0.6M487.9 251.5l0.5 0.6M329.0 262.9l0.1 0.6M441.4 254.1l-0.6 0.5M540.0 248.8l-0.7 0.2M561.5 244.4l-0.9 0.3M446.9 253.7l-0.6 0.6M548.2 246.8l0.1 0.5M366.4 261.3l0.4 1.0M288.5 268.2l-1.4 0.5M490.5 252.1l-0.5 1.4M520.5 248.1l0.0 1.4M450.0 255.1l0.7 1.0M431.3 258.4l-1.5 0.0M568.0 241.7l0.8 0.2M531.3 247.6l0.4 0.4M360.9 260.4l1.1 0.5M344.1 262.0l-0.2 0.6M533.3 247.9l-1.1 0.5M502.9 248.7l0.2 0.9M402.8 260.7l0.3 1.3M473.4 250.4l0.9 0.7M520.3 247.0l0.6 0.6M422.6 256.6l-1.1 0.3M369.2 260.7l-0.0 0.7M402.8 256.5l-0.6 1.2M552.6 245.8l0.4 1.0M451.2 252.9l-0.1 1.0M345.3 263.3l-1.0 0.6M384.2 258.9l-0.4 1.0M375.0 260.9l0.3 1.1M546.6 245.3l-0.1 1.1M484.2 250.3l1.0 1.0M330.0 265.8l0.7 0.7M420.4 255.9l1.2 0.8M298.4 265.7l-0.6 0.6M344.7 265.0l-0.7 0.0M495.9 250.1l-1.1 0.0M551.4 246.3l0.9 0.4M495.4 248.8l1.4 0.4M559.9 245.4l1.2 0.2M579.2 244.3l-0.6 0.7M473.8 254.9l0.0 0.6M329.9 267.2l-0.9 1.1M330.7 262.8l-0.5 0.8M423.8 255.6l-0.9 0.9M501.5 249.7l0.0 0.9M424.5 256.0l0.1 1.5M523.9 246.1l-0.7 1.1M388.9 261.8l-0.6 0.1M471.7 252.2l0.1 1.0M541.0 247.1l-0.7 0.3M522.5 247.6l1.1 0.7M457.6 252.6l-0.9 0.3M486.2 254.1l0.5 0.9M448.5 253.7l-0.2 1.5M493.1 249.6l-0.6 0.9M396.0 260.1l0.5 1.2M401.6 260.3l0.4 0.5M384.3 258.4l-1.4 0.6M410.0 256.8l-1.3 0.5M359.2 261.4l0.0 0.6M349.3 262.7l0.6 0.2M465.7 252.3l-1.4 0.4M485.0 250.4l-0.6 0.6M544.1 245.8l-0.7 1.0M494.6 252.1l0.3 0.6M395.9 261.5l0.8 0.1M378.4 260.4l-0.6 0.3M317.8 263.4l0.6 1.1M420.8 257.8l-0.0 0.9M407.4 256.0l-1.2 0.2M315.8 264.5l-0.8 0.6M508.2 250.8l1.2 0.6M346.5 261.6l-0.9 0.9M376.5 260.3l-0.5 0.6M418.4 259.7l1.3 0.6M549.2 248.2l0.5 0.5M416.3 255.9l-1.0 0.3M535.8 246.9l0.0 1.5M323.9 263.9l-1.0 0.5M518.1 251.1l-0.8 0.7M509.0 249.6l0.6 0.5M560.3 244.8l1.1 0.1M580.6 243.4l0.0 1.0M473.4 253.3l0.1 1.4M549.1 247.1l-0.8 0.9M345.3 263.5l0.5 0.5M567.7 242.6l-1.1 0.7M406.6 256.0l1.0 0.6M496.6 249.8l-0.2 0.6M481.4 253.5l-0.8 0.7M456.5 251.5l0.6 0.7M308.4 264.5l-1.2 0.2M453.2 255.3l-1.0 0.5M413.2 257.3l-1.4 0.1M331.9 266.3l-0.4 0.8M492.2 249.7l-0.7 0.8M459.9 251.5l-1.4 0.4M511.9 248.0l-0.4 0.5M448.5 254.0l0.1 0.8M307.9 266.4l0.5 0.5M385.0 258.3l1.5 0.1M303.3 269.2l0.2 0.6M413.8 257.8l1.0 0.2M289.2 267.3l-0.8 1.1M339.6 263.6l-0.8 0.1M321.9 264.2l-0.8 0.3M483.7 254.1l-0.3 0.6M429.1 255.6l0.1 1.1M575.4 244.2l-0.0 1.3M436.8 254.2l-0.4 0.7M349.7 262.6l0.0 0.5M393.6 261.7l-0.0 0.9M422.0 258.0l-0.0 0.9M458.6 252.7l-0.5 0.8M495.5 249.8l-0.3 0.6M430.4 256.3l0.6 0.0M423.0 258.2l-1.1 0.8M525.2 250.3l0.5 0.4M328.0 266.5l0.7 0.5M327.9 267.1l0.6 0.4M462.6 254.6l1.1 0.1M443.6 255.5l-0.1 1.3M530.1 249.3l0.3 0.5M426.1 254.4l-0.4 0.9M507.7 251.3l-0.8 0.9M385.4 261.3l-0.3 0.7M543.8 246.0l-0.1 0.7M532.6 247.1l-0.9 1.0M440.4 255.9l0.1 0.7M523.1 250.3l0.5 0.1M425.8 254.7l0.2 0.8M358.2 263.8l-0.4 1.4M344.5 263.0l-0.5 1.2M413.4 256.2l0.4 1.0M572.8 244.2l-1.2 0.6M413.7 257.8l-1.1 0.6M405.1 257.0l-0.5 0.6M365.3 260.6l-0.6 1.0M563.9 244.8l0.1 1.4M328.0 265.5l-0.8 0.0M332.0 262.7l1.2 0.1M408.9 259.7l-0.5 0.3M377.6 259.6l0.4 0.4M362.4 261.3l0.2 1.0M578.0 241.1l1.3 0.6M372.0 261.5l0.8 1.1M563.1 244.7l0.8 0.3M495.0 251.0l0.6 0.7M305.2 266.5l-0.8 0.5M424.8 255.2l-0.6 0.7M400.9 260.2l0.3 0.5M476.7 253.7l0.8 0.1M548.8 245.7l0.2 0.6M372.2 261.7l-1.1 0.3M573.2 243.0l0.8 0.2M395.3 257.1l1.4 0.4M551.6 243.6l1.4 0.4M336.3 263.3l0.5 0.5M296.2 267.5l-0.4 0.4M432.2 254.3l-1.1 0.9M545.5 246.2l1.1 0.5M307.6 268.2l0.8 1.1M371.2 262.5l0.0 0.7M432.1 255.8l0.9 0.5M444.3 256.1l0.5 1.0M345.6 263.6l0.9 0.9M343.4 262.6l0.8 0.2M446.9 253.5l1.3 0.5M378.7 259.3l0.4 1.3M507.6 251.7l-0.1 0.8M435.1 253.7l-0.7 1.1M557.6 246.6l-0.6 1.2M373.1 261.5l1.3 0.7M438.4 254.0l-1.1 0.1M349.8 264.9l-0.4 1.0M546.4 245.0l0.7 0.8M347.1 264.4l0.1 0.7M323.8 263.6l-0.3 1.4M522.5 250.0l-0.3 1.3M384.6 259.6l-0.7 0.2M471.2 253.2l1.1 0.2M522.6 250.2l0.4 1.4M298.2 269.7l-0.7 1.1M419.3 257.7l-0.6 0.4M341.2 265.2l-0.7 0.3M448.6 254.8l0.8 1.1M370.6 262.8l0.2 0.6M571.3 241.9l0.5 0.2M390.6 257.4l1.3 0.7M362.1 263.2l0.4 0.3M289.1 266.3l-0.9 0.1M360.8 260.0l-0.4 0.7M340.3 263.7l-0.5 0.7M452.9 252.8l-0.1 0.5M559.7 246.8l-0.2 0.9M404.4 259.7l-0.3 1.2M417.9 256.9l-0.4 0.5M388.1 258.6l1.1 0.8M379.2 261.8l1.4 0.2M425.5 257.9l1.0 0.4M526.9 246.6l0.8 0.3M514.3 250.3l0.8 0.2M557.5 243.8l1.3 0.4M529.3 247.2l-0.7 1.0M534.2 245.5l-0.9 1.1M520.1 248.5l0.5 1.4M580.5 244.3l-0.0 1.4M545.4 246.0l1.0 0.4M326.8 264.3l-0.2 1.0M477.3 254.0l-0.8 0.1M569.0 242.9l0.6 1.1M575.3 243.3l-1.1 0.8M380.1 261.2l-0.5 0.1M323.7 267.3l-0.2 0.9M521.4 248.0l0.8 0.4M511.8 249.9l0.0 0.5M581.5 240.6l0.8 1.0M564.1 245.2l0.5 1.2M484.4 252.1l-0.8 0.7M446.0 253.8l-0.5 0.4M315.1 266.8l1.4 0.2M344.0 263.5l0.7 0.7M469.1 251.4l-0.2 1.5M331.2 263.3l0.5 0.3M290.6 270.6l-0.5 0.1M533.2 247.6l1.1 0.8M321.3 266.3l-0.6 1.0M357.0 260.8l-0.3 0.7M465.9 254.6l1.2 0.1M576.3 242.7l-0.2 0.8M547.1 244.5l1.0 0.3M418.3 257.7l1.1 0.9M444.9 254.5l-0.4 0.4M559.2 246.4l0.7 0.7M298.5 269.1l-1.1 0.1M576.1 243.0l-1.2 0.5M560.6 244.4l-0.0 0.5M568.1 241.9l-0.3 1.1M338.5 263.4l0.3 0.4M405.2 257.9l-0.8 0.9M567.1 245.9l0.8 0.8M491.7 252.6l0.8 0.4M468.5 252.1l-0.9 0.2M496.1 248.3l-1.4 0.5M572.2 242.7l-1.3 0.7M318.6 263.6l-0.7 1.3M296.0 269.5l-0.5 0.9M329.2 265.0l0.0 0.7M553.0 246.5l1.0 0.6M463.7 255.8l-1.4 0.1M303.1 266.7l1.1 0.6M311.4 268.1l-0.4 1.1M566.2 245.9l-0.8 0.8M448.6 254.9l0.7 0.1M490.5 250.7l0.2 1.3M401.1 259.9l-1.1 0.8M356.3 263.2l0.1 1.1M312.5 264.7l0.9 0.9M518.4 247.9l-0.3 0.9M445.8 253.8l0.7 1.3M548.5 243.8l1.3 0.5M418.0 258.0l-0.4 1.0M554.7 243.4l-0.7 0.3M309.4 265.5l-0.1 1.3M458.5 256.4l0.7 0.5M456.6 254.6l-0.6 0.8M316.8 267.4l-0.5 0.3M527.3 245.1l-0.6 0.9M374.8 259.0l0.8 0.8M444.7 256.7l1.0 0.6M376.7 258.6l0.5 0.3M334.1 262.1l-0.9 0.1M510.8 248.8l-0.0 0.8M566.1 242.7l-1.3 0.2M542.3 244.3l-1.2 0.0M458.2 254.3l0.2 1.4M576.9 245.3l0.9 0.4M494.0 249.1l-1.2 0.4M322.7 264.4l-0.7 1.2M582.0 241.5l-0.9 0.5M394.0 258.1l0.5 0.2M414.1 255.9l0.7 0.5" stroke="#000" stroke-width="0.7" fill="none" stroke-linecap="round"/>
<path d="M286.5 272.00 290.0 271.70 298.0 271.00 420.0 260.40 480.0 255.60 565.0 247.50 583.0 245.78" stroke="#000" stroke-width="1" fill="none"/>
<path d="M286.5 264.5V273.4H297L298 271" stroke="#000" stroke-width="1" fill="#fff"/>
<path d="M288.4 272.3l1.0 0.5M295.5 270.9l0.4 0.6M294.4 272.4l-0.5 0.8M291.2 268.7l-0.5 0.6M292.6 270.2l-0.2 0.4M289.7 270.7l-0.3 1.2M288.0 267.5l-0.0 1.1M289.4 271.0l0.2 0.7M295.4 266.7l-0.7 0.1M290.9 267.3l0.1 1.2M289.6 269.7l0.1 0.7M288.7 270.6l0.2 0.8M293.2 266.7l-1.1 0.7M289.9 271.4l-0.4 0.6M290.1 266.6l0.2 0.8M292.1 269.2l-0.1 0.5M289.6 269.7l0.0 0.6M290.1 272.5l-0.9 0.7M290.9 268.8l-0.6 0.8M293.6 266.2l-0.4 0.5M290.6 269.5l-0.8 0.1M293.6 267.4l-0.6 0.1" stroke="#000" stroke-width="0.70" fill="none" stroke-linecap="round"/>
<path d="M288.0 259.98 290.0 259.80 420.0 247.90 480.0 242.60 565.0 234.40 579.0 233.05 L579.0 239.24 565.0 240.50 480.0 248.18 420.0 253.60 290.0 264.40 288.0 264.57Z" fill="#505050"/>
<path d="M286.5 264.69 290.0 264.40 298.0 263.74 420.0 253.60 480.0 248.18 565.0 240.50 583.0 238.87" stroke="#000" stroke-width="1.7" fill="none"/>
<path d="M288.0 256.78 290.0 256.60 420.0 244.70 480.0 239.40 565.0 231.20 579.0 229.85 L579.0 233.05 565.0 234.40 480.0 242.60 420.0 247.90 290.0 259.80 288.0 259.98Z" fill="#f2f2f2"/>
<path d="M288.0 259.78 290.0 259.60 420.0 247.70 480.0 242.40 565.0 234.20 579.0 232.85" stroke="#333" stroke-width="0.7" fill="none" stroke-dasharray="9 1.2 6 0.8"/>
<path d="M288.0 256.98 290.0 256.80 420.0 244.90 480.0 239.60 565.0 231.40 579.0 230.05" stroke="#555" stroke-width="0.6" fill="none" stroke-dasharray="5 4 7 3"/>
</g>
<clipPath id="cp"><rect x="4" y="3" width="672" height="475"/></clipPath>
<g id="plants" clip-path="url(#cp)">
<path d="M300.8 256.6Q295.0 255.4 287.9 253.0Q296.1 252.3 301.4 254.9Z" fill="#f4f4f4" stroke="#000" stroke-width="0.7" stroke-linejoin="round"/><path d="M300.7 256.5Q294.8 254.3 287.6 250.9Q296.3 251.2 301.6 254.7Z" fill="#f4f4f4" stroke="#000" stroke-width="0.7" stroke-linejoin="round"/><path d="M303.4 254.6Q308.7 251.4 317.4 251.7Q310.3 255.0 304.3 256.7Z" fill="#f4f4f4" stroke="#000" stroke-width="0.7" stroke-linejoin="round"/><path d="M301.1 255.1Q298.6 249.3 297.3 242.8Q302.2 248.2 303.1 254.5Z" fill="#1c1c1c" stroke="#000" stroke-width="0.7" stroke-linejoin="round"/><path d="M301.7 254.7Q301.7 246.9 305.1 239.6Q305.3 247.3 303.7 254.9Z" fill="#f4f4f4" stroke="#000" stroke-width="0.7" stroke-linejoin="round"/><path d="M300.9 257.2Q296.0 257.8 289.1 256.7Q296.3 253.9 301.1 255.1Z" fill="#8a8a8a" stroke="#000" stroke-width="0.7" stroke-linejoin="round"/><path d="M302.7 254.5Q305.6 249.5 312.3 246.6Q308.3 251.7 304.2 255.7Z" fill="#f4f4f4" stroke="#000" stroke-width="0.7" stroke-linejoin="round"/><path d="M303.1 254.5Q307.6 250.0 316.0 248.6Q309.9 253.1 304.3 256.2Z" fill="#f4f4f4" stroke="#000" stroke-width="0.7" stroke-linejoin="round"/><path d="M301.0 255.1Q298.1 248.5 296.8 241.3Q301.8 247.4 303.1 254.5Z" fill="#1c1c1c" stroke="#000" stroke-width="0.7" stroke-linejoin="round"/><path d="M303.6 254.8Q308.6 252.5 316.1 253.9Q309.6 256.2 304.2 256.9Z" fill="#8a8a8a" stroke="#000" stroke-width="0.7" stroke-linejoin="round"/><path d="M303.8 255.1Q309.1 253.4 317.1 255.2Q309.7 256.6 304.1 256.9Z" fill="#1c1c1c" stroke="#000" stroke-width="0.7" stroke-linejoin="round"/><path d="M301.9 254.5Q302.8 248.8 307.8 244.2Q306.8 250.2 304.1 255.2Z" fill="#f4f4f4" stroke="#000" stroke-width="0.7" stroke-linejoin="round"/><path d="M300.7 255.6Q296.1 250.1 292.6 243.5Q299.6 247.9 302.7 254.4Z" fill="#f4f4f4" stroke="#000" stroke-width="0.7" stroke-linejoin="round"/><path d="M300.8 255.8Q296.6 252.4 292.8 247.9Q299.1 250.1 302.2 254.5Z" fill="#f4f4f4" stroke="#000" stroke-width="0.7" stroke-linejoin="round"/><path d="M302.4 254.5Q305.0 248.1 311.3 243.4Q308.0 249.8 304.1 255.4Z" fill="#f4f4f4" stroke="#000" stroke-width="0.7" stroke-linejoin="round"/><ellipse cx="302.5" cy="255.5" rx="3.1" ry="1.5" fill="#111"/>
<path d="M328.3 253.3Q323.9 249.7 319.6 244.9Q326.4 247.3 329.7 252.0Z" fill="#f4f4f4" stroke="#000" stroke-width="0.7" stroke-linejoin="round"/><path d="M329.3 252.1Q329.6 245.3 332.9 238.7Q332.7 245.7 331.1 252.4Z" fill="#1c1c1c" stroke="#000" stroke-width="0.7" stroke-linejoin="round"/><path d="M331.3 252.4Q335.6 250.7 342.6 252.9Q336.3 254.6 331.7 254.6Z" fill="#8a8a8a" stroke="#000" stroke-width="0.7" stroke-linejoin="round"/><path d="M330.7 252.2Q335.2 248.1 343.1 246.7Q337.0 250.6 331.7 253.6Z" fill="#1c1c1c" stroke="#000" stroke-width="0.7" stroke-linejoin="round"/><path d="M329.5 251.9Q330.7 246.3 335.9 241.8Q334.4 247.7 331.6 252.7Z" fill="#f4f4f4" stroke="#000" stroke-width="0.7" stroke-linejoin="round"/><path d="M330.1 251.9Q333.2 246.7 340.2 244.0Q336.3 249.3 331.8 253.3Z" fill="#f4f4f4" stroke="#000" stroke-width="0.7" stroke-linejoin="round"/><path d="M328.3 254.7Q323.7 254.8 317.3 253.2Q324.4 250.8 328.7 252.4Z" fill="#f4f4f4" stroke="#000" stroke-width="0.7" stroke-linejoin="round"/><path d="M330.6 252.0Q334.5 248.3 342.3 247.8Q336.8 251.7 331.9 253.9Z" fill="#8a8a8a" stroke="#000" stroke-width="0.7" stroke-linejoin="round"/><path d="M328.6 252.5Q326.5 246.3 326.1 239.6Q330.3 245.6 330.8 252.1Z" fill="#1c1c1c" stroke="#000" stroke-width="0.7" stroke-linejoin="round"/><path d="M328.4 252.7Q325.5 246.4 323.9 239.5Q329.3 245.2 330.6 252.0Z" fill="#f4f4f4" stroke="#000" stroke-width="0.7" stroke-linejoin="round"/><path d="M328.3 253.1Q324.6 249.0 321.3 243.9Q327.4 247.0 329.9 252.0Z" fill="#1c1c1c" stroke="#000" stroke-width="0.7" stroke-linejoin="round"/><path d="M331.0 252.2Q336.0 249.3 344.3 250.2Q337.4 253.1 331.8 254.3Z" fill="#8a8a8a" stroke="#000" stroke-width="0.7" stroke-linejoin="round"/><path d="M328.2 254.1Q323.5 253.0 317.8 250.5Q324.8 249.8 329.0 252.3Z" fill="#8a8a8a" stroke="#000" stroke-width="0.7" stroke-linejoin="round"/><path d="M328.2 253.8Q322.3 251.4 315.7 247.9Q323.9 248.5 329.1 252.2Z" fill="#1c1c1c" stroke="#000" stroke-width="0.7" stroke-linejoin="round"/><path d="M329.2 252.2Q328.7 245.3 331.2 238.3Q331.8 245.4 330.9 252.3Z" fill="#8a8a8a" stroke="#000" stroke-width="0.7" stroke-linejoin="round"/><ellipse cx="330.0" cy="252.9" rx="3.1" ry="1.5" fill="#111"/>
<path d="M356.6 249.6Q360.7 245.4 368.8 244.1Q363.0 248.4 357.8 251.3Z" fill="#f4f4f4" stroke="#000" stroke-width="0.7" stroke-linejoin="round"/><path d="M354.6 250.3Q351.5 244.3 349.3 237.7Q354.7 243.1 356.4 249.6Z" fill="#1c1c1c" stroke="#000" stroke-width="0.7" stroke-linejoin="round"/><path d="M356.9 249.7Q361.6 246.8 369.4 247.6Q363.2 250.7 357.8 251.9Z" fill="#8a8a8a" stroke="#000" stroke-width="0.7" stroke-linejoin="round"/><path d="M357.3 250.2Q362.5 248.6 370.5 250.6Q363.1 251.9 357.6 252.1Z" fill="#f4f4f4" stroke="#000" stroke-width="0.7" stroke-linejoin="round"/><path d="M354.4 252.4Q349.3 252.9 342.3 251.8Q349.5 249.0 354.6 250.2Z" fill="#f4f4f4" stroke="#000" stroke-width="0.7" stroke-linejoin="round"/><path d="M354.3 251.7Q348.9 250.6 342.0 248.4Q349.9 247.6 354.9 250.0Z" fill="#f4f4f4" stroke="#000" stroke-width="0.7" stroke-linejoin="round"/><path d="M354.3 250.7Q350.1 246.2 346.8 240.5Q353.2 244.1 356.0 249.5Z" fill="#1c1c1c" stroke="#000" stroke-width="0.7" stroke-linejoin="round"/><path d="M355.1 249.8Q354.5 242.0 356.9 234.3Q357.8 242.1 357.0 249.9Z" fill="#f4f4f4" stroke="#000" stroke-width="0.7" stroke-linejoin="round"/><path d="M355.9 249.5Q358.7 243.2 365.4 238.7Q361.8 245.1 357.6 250.6Z" fill="#8a8a8a" stroke="#000" stroke-width="0.7" stroke-linejoin="round"/><path d="M357.0 249.8Q361.0 247.4 368.1 248.7Q362.3 251.2 357.8 251.9Z" fill="#f4f4f4" stroke="#000" stroke-width="0.7" stroke-linejoin="round"/><path d="M354.6 250.1Q352.3 243.4 351.6 236.3Q356.2 242.6 356.8 249.7Z" fill="#f4f4f4" stroke="#000" stroke-width="0.7" stroke-linejoin="round"/><path d="M355.4 249.6Q356.4 243.3 361.0 237.7Q359.9 244.2 357.4 250.2Z" fill="#8a8a8a" stroke="#000" stroke-width="0.7" stroke-linejoin="round"/><path d="M354.2 251.2Q349.8 248.6 345.3 244.4Q352.3 245.6 355.6 249.6Z" fill="#f4f4f4" stroke="#000" stroke-width="0.7" stroke-linejoin="round"/><path d="M354.1 251.5Q349.0 249.1 343.2 245.1Q351.1 245.8 355.4 249.6Z" fill="#f4f4f4" stroke="#000" stroke-width="0.7" stroke-linejoin="round"/><path d="M356.0 249.5Q359.2 244.0 366.5 240.7Q362.3 246.3 357.8 250.8Z" fill="#f4f4f4" stroke="#000" stroke-width="0.7" stroke-linejoin="round"/><ellipse cx="356.0" cy="250.6" rx="3.1" ry="1.5" fill="#111"/>
<path d="M380.8 247.5Q385.4 244.1 393.3 244.2Q387.3 247.7 381.9 249.5Z" fill="#f4f4f4" stroke="#000" stroke-width="0.7" stroke-linejoin="round"/><path d="M378.2 248.6Q373.9 244.6 370.1 239.2Q377.0 242.2 379.9 247.3Z" fill="#f4f4f4" stroke="#000" stroke-width="0.7" stroke-linejoin="round"/><path d="M378.6 248.0Q375.8 242.0 373.8 235.4Q379.0 240.9 380.4 247.4Z" fill="#f4f4f4" stroke="#000" stroke-width="0.7" stroke-linejoin="round"/><path d="M380.6 247.4Q384.9 243.5 392.9 242.7Q387.1 246.7 381.9 249.2Z" fill="#f4f4f4" stroke="#000" stroke-width="0.7" stroke-linejoin="round"/><path d="M379.4 247.5Q380.3 240.5 384.9 234.3Q383.9 241.4 381.4 248.0Z" fill="#1c1c1c" stroke="#000" stroke-width="0.7" stroke-linejoin="round"/><path d="M381.3 248.0Q385.4 246.3 392.0 247.9Q386.1 249.4 381.7 249.7Z" fill="#f4f4f4" stroke="#000" stroke-width="0.7" stroke-linejoin="round"/><path d="M378.3 248.9Q373.7 246.3 369.1 242.5Q375.8 243.7 379.4 247.5Z" fill="#f4f4f4" stroke="#000" stroke-width="0.7" stroke-linejoin="round"/><path d="M378.8 247.7Q377.9 241.5 378.8 235.0Q382.0 241.4 381.1 247.6Z" fill="#8a8a8a" stroke="#000" stroke-width="0.7" stroke-linejoin="round"/><path d="M378.3 249.9Q373.1 249.5 366.5 247.5Q374.1 245.7 378.8 247.7Z" fill="#f4f4f4" stroke="#000" stroke-width="0.7" stroke-linejoin="round"/><path d="M381.5 248.1Q386.4 247.1 393.6 250.0Q386.5 250.9 381.5 250.2Z" fill="#f4f4f4" stroke="#000" stroke-width="0.7" stroke-linejoin="round"/><path d="M380.2 247.4Q383.9 242.1 390.9 239.2Q386.6 244.5 381.8 248.7Z" fill="#8a8a8a" stroke="#000" stroke-width="0.7" stroke-linejoin="round"/><path d="M378.3 249.7Q372.9 249.1 366.3 247.1Q373.8 245.7 378.8 247.8Z" fill="#8a8a8a" stroke="#000" stroke-width="0.7" stroke-linejoin="round"/><path d="M379.6 247.3Q381.2 241.7 386.6 237.5Q385.0 243.4 381.7 248.3Z" fill="#1c1c1c" stroke="#000" stroke-width="0.7" stroke-linejoin="round"/><path d="M378.2 249.0Q373.8 246.7 369.3 243.1Q375.8 244.0 379.4 247.5Z" fill="#8a8a8a" stroke="#000" stroke-width="0.7" stroke-linejoin="round"/><path d="M378.8 247.8Q376.8 240.4 376.1 232.7Q380.4 239.8 380.8 247.5Z" fill="#f4f4f4" stroke="#000" stroke-width="0.7" stroke-linejoin="round"/><ellipse cx="380.0" cy="248.4" rx="3.1" ry="1.5" fill="#111"/>
<path d="M403.8 245.2Q405.5 240.1 410.6 236.2Q408.5 241.6 405.5 246.0Z" fill="#1c1c1c" stroke="#000" stroke-width="0.7" stroke-linejoin="round"/><path d="M404.3 245.1Q407.4 241.1 414.2 239.7Q410.1 244.0 405.8 246.7Z" fill="#f4f4f4" stroke="#000" stroke-width="0.7" stroke-linejoin="round"/><path d="M402.4 246.0Q399.6 241.1 398.2 235.3Q403.3 239.7 404.5 245.2Z" fill="#8a8a8a" stroke="#000" stroke-width="0.7" stroke-linejoin="round"/><path d="M402.2 247.2Q396.7 245.3 390.5 241.9Q398.4 241.9 403.2 245.3Z" fill="#8a8a8a" stroke="#000" stroke-width="0.7" stroke-linejoin="round"/><path d="M402.7 245.7Q400.5 239.7 399.4 233.1Q403.9 238.9 404.6 245.3Z" fill="#8a8a8a" stroke="#000" stroke-width="0.7" stroke-linejoin="round"/><path d="M402.3 247.5Q396.5 246.9 388.9 245.0Q397.3 243.6 402.8 245.7Z" fill="#f4f4f4" stroke="#000" stroke-width="0.7" stroke-linejoin="round"/><path d="M402.4 246.3Q398.3 241.8 394.6 236.3Q401.1 239.8 403.9 245.2Z" fill="#1c1c1c" stroke="#000" stroke-width="0.7" stroke-linejoin="round"/><path d="M403.2 245.2Q404.1 238.4 409.3 232.4Q408.1 239.4 405.5 245.8Z" fill="#1c1c1c" stroke="#000" stroke-width="0.7" stroke-linejoin="round"/><path d="M405.4 245.9Q410.7 244.7 418.4 246.9Q411.0 247.8 405.6 247.7Z" fill="#8a8a8a" stroke="#000" stroke-width="0.7" stroke-linejoin="round"/><path d="M404.3 245.2Q407.0 240.8 412.9 238.3Q409.4 242.8 405.6 246.4Z" fill="#8a8a8a" stroke="#000" stroke-width="0.7" stroke-linejoin="round"/><path d="M402.3 247.2Q396.5 245.6 389.9 242.8Q397.8 242.6 403.0 245.5Z" fill="#8a8a8a" stroke="#000" stroke-width="0.7" stroke-linejoin="round"/><path d="M405.2 245.5Q410.6 243.3 419.1 245.0Q411.6 247.2 405.7 247.7Z" fill="#f4f4f4" stroke="#000" stroke-width="0.7" stroke-linejoin="round"/><path d="M402.9 245.5Q401.8 237.9 403.0 230.2Q405.7 237.8 405.0 245.4Z" fill="#8a8a8a" stroke="#000" stroke-width="0.7" stroke-linejoin="round"/><path d="M404.9 245.4Q409.4 242.2 417.3 242.1Q411.0 245.3 405.8 247.1Z" fill="#8a8a8a" stroke="#000" stroke-width="0.7" stroke-linejoin="round"/><path d="M402.2 246.7Q397.6 243.3 393.3 238.5Q400.3 240.6 403.7 245.1Z" fill="#f4f4f4" stroke="#000" stroke-width="0.7" stroke-linejoin="round"/><ellipse cx="404.0" cy="246.2" rx="3.1" ry="1.5" fill="#111"/>
<path d="M432.1 243.1Q437.0 240.7 445.1 242.1Q438.1 244.4 432.7 245.1Z" fill="#1c1c1c" stroke="#000" stroke-width="0.7" stroke-linejoin="round"/><path d="M431.6 242.8Q436.2 238.3 444.7 236.8Q438.5 241.3 432.8 244.5Z" fill="#1c1c1c" stroke="#000" stroke-width="0.7" stroke-linejoin="round"/><path d="M429.3 245.3Q424.3 245.2 417.8 243.2Q425.2 241.1 429.8 243.1Z" fill="#f4f4f4" stroke="#000" stroke-width="0.7" stroke-linejoin="round"/><path d="M429.2 244.6Q423.8 242.6 417.5 239.4Q425.3 239.7 430.1 243.0Z" fill="#f4f4f4" stroke="#000" stroke-width="0.7" stroke-linejoin="round"/><path d="M429.1 244.4Q424.3 241.2 419.4 236.4Q427.1 238.1 430.7 242.7Z" fill="#f4f4f4" stroke="#000" stroke-width="0.7" stroke-linejoin="round"/><path d="M430.4 242.8Q431.5 235.6 436.5 229.4Q435.2 236.6 432.4 243.4Z" fill="#8a8a8a" stroke="#000" stroke-width="0.7" stroke-linejoin="round"/><path d="M431.8 242.9Q435.4 239.8 442.4 239.5Q437.2 242.7 432.8 244.6Z" fill="#8a8a8a" stroke="#000" stroke-width="0.7" stroke-linejoin="round"/><path d="M430.1 242.9Q429.8 236.4 433.2 229.9Q433.5 236.7 432.2 243.1Z" fill="#8a8a8a" stroke="#000" stroke-width="0.7" stroke-linejoin="round"/><path d="M430.9 242.8Q433.8 236.2 440.5 231.3Q436.7 237.8 432.5 243.7Z" fill="#f4f4f4" stroke="#000" stroke-width="0.7" stroke-linejoin="round"/><path d="M431.1 242.8Q433.8 237.8 439.7 234.6Q436.4 239.7 432.6 243.8Z" fill="#f4f4f4" stroke="#000" stroke-width="0.7" stroke-linejoin="round"/><path d="M429.2 244.8Q424.3 243.6 418.5 240.9Q425.7 240.3 430.0 243.0Z" fill="#8a8a8a" stroke="#000" stroke-width="0.7" stroke-linejoin="round"/><path d="M429.3 243.7Q425.5 238.4 422.4 232.1Q429.0 236.5 431.3 242.7Z" fill="#f4f4f4" stroke="#000" stroke-width="0.7" stroke-linejoin="round"/><path d="M429.7 243.2Q428.0 236.0 428.0 228.5Q432.1 235.5 432.0 242.9Z" fill="#8a8a8a" stroke="#000" stroke-width="0.7" stroke-linejoin="round"/><path d="M429.4 243.6Q425.6 237.4 422.4 230.5Q429.0 235.8 431.3 242.7Z" fill="#1c1c1c" stroke="#000" stroke-width="0.7" stroke-linejoin="round"/><path d="M432.4 243.5Q437.0 242.4 444.2 244.9Q437.3 245.8 432.6 245.4Z" fill="#f4f4f4" stroke="#000" stroke-width="0.7" stroke-linejoin="round"/><ellipse cx="431.0" cy="243.7" rx="3.1" ry="1.5" fill="#111"/>
<path d="M457.9 240.4Q461.9 235.7 469.9 233.8Q464.5 238.6 459.3 242.0Z" fill="#1c1c1c" stroke="#000" stroke-width="0.7" stroke-linejoin="round"/><path d="M456.5 240.7Q455.5 234.7 456.4 228.4Q458.9 234.6 458.4 240.7Z" fill="#f4f4f4" stroke="#000" stroke-width="0.7" stroke-linejoin="round"/><path d="M457.1 240.5Q458.2 234.7 462.7 229.8Q461.5 235.8 458.9 241.1Z" fill="#1c1c1c" stroke="#000" stroke-width="0.7" stroke-linejoin="round"/><path d="M456.2 240.9Q454.2 234.4 453.6 227.5Q457.8 233.7 458.2 240.5Z" fill="#f4f4f4" stroke="#000" stroke-width="0.7" stroke-linejoin="round"/><path d="M457.2 240.3Q460.0 233.6 467.2 229.0Q463.6 235.7 459.3 241.5Z" fill="#f4f4f4" stroke="#000" stroke-width="0.7" stroke-linejoin="round"/><path d="M457.7 240.4Q460.6 235.4 467.2 232.2Q463.3 237.4 459.2 241.6Z" fill="#f4f4f4" stroke="#000" stroke-width="0.7" stroke-linejoin="round"/><path d="M456.0 241.3Q452.2 235.6 449.3 229.3Q455.2 234.1 457.6 240.4Z" fill="#8a8a8a" stroke="#000" stroke-width="0.7" stroke-linejoin="round"/><path d="M458.7 240.7Q463.8 238.4 471.9 239.8Q464.9 242.2 459.2 242.8Z" fill="#f4f4f4" stroke="#000" stroke-width="0.7" stroke-linejoin="round"/><path d="M455.8 242.7Q450.1 242.0 442.6 240.0Q450.9 238.7 456.3 240.9Z" fill="#8a8a8a" stroke="#000" stroke-width="0.7" stroke-linejoin="round"/><path d="M455.8 243.1Q449.9 242.9 442.7 240.9Q450.7 238.8 456.2 240.8Z" fill="#8a8a8a" stroke="#000" stroke-width="0.7" stroke-linejoin="round"/><path d="M455.7 242.4Q450.5 240.4 444.8 236.8Q452.5 237.0 456.8 240.5Z" fill="#8a8a8a" stroke="#000" stroke-width="0.7" stroke-linejoin="round"/><path d="M459.0 241.0Q463.3 240.0 470.0 243.0Q463.5 243.9 459.0 243.2Z" fill="#1c1c1c" stroke="#000" stroke-width="0.7" stroke-linejoin="round"/><path d="M455.8 241.6Q451.7 237.7 447.5 232.7Q454.3 235.6 457.3 240.4Z" fill="#f4f4f4" stroke="#000" stroke-width="0.7" stroke-linejoin="round"/><path d="M458.4 240.7Q463.4 237.4 471.4 237.1Q464.8 240.3 459.2 242.3Z" fill="#1c1c1c" stroke="#000" stroke-width="0.7" stroke-linejoin="round"/><path d="M455.7 241.9Q450.9 238.7 446.1 234.3Q453.2 236.1 457.0 240.5Z" fill="#f4f4f4" stroke="#000" stroke-width="0.7" stroke-linejoin="round"/><ellipse cx="457.5" cy="241.4" rx="3.1" ry="1.5" fill="#111"/>
<path d="M480.7 240.6Q476.1 240.0 470.1 237.7Q477.3 236.2 481.4 238.4Z" fill="#f4f4f4" stroke="#000" stroke-width="0.7" stroke-linejoin="round"/><path d="M480.9 240.9Q475.8 241.3 468.4 240.1Q476.1 237.5 481.1 238.8Z" fill="#f4f4f4" stroke="#000" stroke-width="0.7" stroke-linejoin="round"/><path d="M483.6 238.5Q488.8 236.0 496.9 237.2Q489.9 239.7 484.2 240.5Z" fill="#f4f4f4" stroke="#000" stroke-width="0.7" stroke-linejoin="round"/><path d="M480.8 239.3Q477.1 235.6 474.2 230.6Q480.1 233.4 482.5 238.1Z" fill="#1c1c1c" stroke="#000" stroke-width="0.7" stroke-linejoin="round"/><path d="M481.6 238.4Q481.5 231.0 485.5 224.1Q485.4 231.5 483.8 238.6Z" fill="#f4f4f4" stroke="#000" stroke-width="0.7" stroke-linejoin="round"/><path d="M483.4 238.3Q488.2 235.0 496.6 235.4Q490.0 238.8 484.4 240.4Z" fill="#1c1c1c" stroke="#000" stroke-width="0.7" stroke-linejoin="round"/><path d="M480.8 239.1Q477.6 234.2 475.7 228.3Q481.3 232.5 482.9 238.1Z" fill="#f4f4f4" stroke="#000" stroke-width="0.7" stroke-linejoin="round"/><path d="M482.3 238.1Q485.1 231.4 492.1 226.6Q488.5 233.3 484.2 239.2Z" fill="#8a8a8a" stroke="#000" stroke-width="0.7" stroke-linejoin="round"/><path d="M480.7 239.9Q475.3 237.3 469.0 233.4Q477.2 234.4 481.8 238.3Z" fill="#f4f4f4" stroke="#000" stroke-width="0.7" stroke-linejoin="round"/><path d="M482.6 238.1Q486.0 232.4 493.6 228.9Q489.0 234.7 484.2 239.4Z" fill="#f4f4f4" stroke="#000" stroke-width="0.7" stroke-linejoin="round"/><path d="M482.9 238.2Q486.9 233.6 494.5 231.7Q489.3 236.4 484.3 239.7Z" fill="#f4f4f4" stroke="#000" stroke-width="0.7" stroke-linejoin="round"/><path d="M481.3 238.6Q479.6 232.3 479.5 225.6Q483.0 231.8 483.2 238.3Z" fill="#8a8a8a" stroke="#000" stroke-width="0.7" stroke-linejoin="round"/><path d="M480.6 239.8Q475.6 236.7 470.2 232.0Q478.1 233.7 482.1 238.1Z" fill="#1c1c1c" stroke="#000" stroke-width="0.7" stroke-linejoin="round"/><path d="M481.7 238.3Q482.1 231.4 486.5 225.2Q486.0 232.2 483.9 238.7Z" fill="#8a8a8a" stroke="#000" stroke-width="0.7" stroke-linejoin="round"/><path d="M483.8 238.6Q489.3 237.0 497.5 239.5Q489.9 241.1 484.1 240.9Z" fill="#8a8a8a" stroke="#000" stroke-width="0.7" stroke-linejoin="round"/><ellipse cx="482.5" cy="239.2" rx="3.1" ry="1.5" fill="#111"/>
<path d="M504.3 236.2Q504.4 229.5 507.5 223.0Q507.6 229.9 506.1 236.4Z" fill="#8a8a8a" stroke="#000" stroke-width="0.7" stroke-linejoin="round"/><path d="M503.3 237.1Q500.2 233.6 497.8 229.0Q503.3 231.7 505.1 236.0Z" fill="#f4f4f4" stroke="#000" stroke-width="0.7" stroke-linejoin="round"/><path d="M503.3 238.2Q499.4 237.7 494.3 236.2Q500.3 234.8 503.8 236.6Z" fill="#8a8a8a" stroke="#000" stroke-width="0.7" stroke-linejoin="round"/><path d="M506.2 236.4Q510.1 234.4 517.0 235.8Q511.1 237.8 506.7 238.3Z" fill="#f4f4f4" stroke="#000" stroke-width="0.7" stroke-linejoin="round"/><path d="M505.8 236.3Q510.1 232.7 517.7 231.6Q511.8 235.1 506.7 237.7Z" fill="#8a8a8a" stroke="#000" stroke-width="0.7" stroke-linejoin="round"/><path d="M505.7 236.2Q509.4 232.6 516.5 231.3Q511.2 234.9 506.7 237.5Z" fill="#f4f4f4" stroke="#000" stroke-width="0.7" stroke-linejoin="round"/><path d="M506.4 236.7Q510.4 235.5 516.8 237.4Q510.9 238.4 506.6 238.4Z" fill="#1c1c1c" stroke="#000" stroke-width="0.7" stroke-linejoin="round"/><path d="M503.4 236.8Q500.3 231.7 497.9 225.7Q503.7 230.2 505.4 236.0Z" fill="#f4f4f4" stroke="#000" stroke-width="0.7" stroke-linejoin="round"/><path d="M503.4 238.6Q498.7 239.0 491.7 238.3Q498.8 235.8 503.6 236.8Z" fill="#f4f4f4" stroke="#000" stroke-width="0.7" stroke-linejoin="round"/><path d="M503.2 237.5Q498.3 234.1 493.3 229.6Q500.6 231.6 504.5 236.1Z" fill="#8a8a8a" stroke="#000" stroke-width="0.7" stroke-linejoin="round"/><path d="M503.8 236.4Q502.2 230.7 502.2 224.5Q506.0 230.2 505.9 236.2Z" fill="#f4f4f4" stroke="#000" stroke-width="0.7" stroke-linejoin="round"/><path d="M503.2 238.0Q499.1 236.7 494.1 233.8Q500.8 233.4 504.2 236.2Z" fill="#1c1c1c" stroke="#000" stroke-width="0.7" stroke-linejoin="round"/><path d="M504.8 236.1Q506.4 230.5 511.2 225.9Q509.1 231.6 506.3 236.7Z" fill="#8a8a8a" stroke="#000" stroke-width="0.7" stroke-linejoin="round"/><path d="M505.3 236.0Q508.6 231.2 515.2 228.5Q511.1 233.4 506.7 237.3Z" fill="#1c1c1c" stroke="#000" stroke-width="0.7" stroke-linejoin="round"/><path d="M504.4 236.1Q504.8 230.4 508.5 225.0Q507.9 231.0 506.1 236.5Z" fill="#8a8a8a" stroke="#000" stroke-width="0.7" stroke-linejoin="round"/><ellipse cx="505.0" cy="237.0" rx="2.8" ry="1.5" fill="#111"/>
<path d="M527.3 233.8Q529.2 228.3 535.1 224.2Q532.4 229.9 529.1 234.7Z" fill="#f4f4f4" stroke="#000" stroke-width="0.7" stroke-linejoin="round"/><path d="M528.7 234.3Q532.2 232.5 538.2 233.7Q533.1 235.4 529.2 236.0Z" fill="#8a8a8a" stroke="#000" stroke-width="0.7" stroke-linejoin="round"/><path d="M525.9 234.8Q522.3 230.4 519.6 225.0Q525.3 228.6 527.6 233.8Z" fill="#8a8a8a" stroke="#000" stroke-width="0.7" stroke-linejoin="round"/><path d="M525.9 236.3Q521.6 236.5 515.5 235.8Q521.9 233.6 526.1 234.7Z" fill="#f4f4f4" stroke="#000" stroke-width="0.7" stroke-linejoin="round"/><path d="M528.9 234.6Q533.7 233.5 541.0 235.8Q534.0 236.6 529.1 236.3Z" fill="#1c1c1c" stroke="#000" stroke-width="0.7" stroke-linejoin="round"/><path d="M525.7 235.8Q520.6 233.9 515.0 230.5Q522.4 230.6 526.7 234.0Z" fill="#8a8a8a" stroke="#000" stroke-width="0.7" stroke-linejoin="round"/><path d="M526.2 234.5Q523.7 229.0 522.3 222.8Q526.8 228.0 527.9 233.9Z" fill="#1c1c1c" stroke="#000" stroke-width="0.7" stroke-linejoin="round"/><path d="M525.7 235.9Q521.0 234.5 515.5 231.7Q522.6 231.3 526.6 234.1Z" fill="#f4f4f4" stroke="#000" stroke-width="0.7" stroke-linejoin="round"/><path d="M525.8 235.2Q521.7 232.0 517.7 227.9Q523.8 229.9 527.0 234.0Z" fill="#8a8a8a" stroke="#000" stroke-width="0.7" stroke-linejoin="round"/><path d="M527.7 233.9Q530.7 228.9 537.3 225.8Q533.2 230.8 529.1 235.0Z" fill="#f4f4f4" stroke="#000" stroke-width="0.7" stroke-linejoin="round"/><path d="M528.4 234.1Q531.8 231.4 538.4 231.9Q533.4 234.6 529.3 235.8Z" fill="#f4f4f4" stroke="#000" stroke-width="0.7" stroke-linejoin="round"/><path d="M527.1 234.0Q528.2 227.7 532.6 222.2Q531.0 228.5 528.7 234.4Z" fill="#f4f4f4" stroke="#000" stroke-width="0.7" stroke-linejoin="round"/><path d="M526.7 234.0Q526.8 227.3 530.7 220.8Q530.4 227.7 528.7 234.3Z" fill="#f4f4f4" stroke="#000" stroke-width="0.7" stroke-linejoin="round"/><path d="M526.2 234.4Q523.8 228.2 522.4 221.5Q526.9 227.4 528.0 233.9Z" fill="#f4f4f4" stroke="#000" stroke-width="0.7" stroke-linejoin="round"/><path d="M528.0 233.9Q531.4 230.1 538.3 229.1Q533.7 233.0 529.3 235.5Z" fill="#f4f4f4" stroke="#000" stroke-width="0.7" stroke-linejoin="round"/><ellipse cx="527.5" cy="234.8" rx="2.8" ry="1.5" fill="#111"/>
<path d="M549.7 232.1Q547.9 227.1 547.8 221.4Q551.5 226.4 551.7 231.7Z" fill="#f4f4f4" stroke="#000" stroke-width="0.7" stroke-linejoin="round"/><path d="M549.5 232.4Q546.3 226.8 543.9 220.5Q549.7 225.4 551.4 231.6Z" fill="#1c1c1c" stroke="#000" stroke-width="0.7" stroke-linejoin="round"/><path d="M552.4 232.5Q556.3 231.6 562.2 233.9Q556.5 234.4 552.5 234.1Z" fill="#f4f4f4" stroke="#000" stroke-width="0.7" stroke-linejoin="round"/><path d="M550.0 231.9Q549.2 226.5 550.5 220.8Q552.8 226.5 552.0 231.8Z" fill="#8a8a8a" stroke="#000" stroke-width="0.7" stroke-linejoin="round"/><path d="M549.3 232.7Q545.5 228.9 542.1 223.9Q548.5 226.7 551.0 231.5Z" fill="#8a8a8a" stroke="#000" stroke-width="0.7" stroke-linejoin="round"/><path d="M552.1 231.9Q555.6 229.8 562.1 230.9Q556.8 233.0 552.7 233.7Z" fill="#f4f4f4" stroke="#000" stroke-width="0.7" stroke-linejoin="round"/><path d="M549.3 233.4Q544.3 231.7 538.0 228.9Q545.6 229.0 550.0 231.9Z" fill="#f4f4f4" stroke="#000" stroke-width="0.7" stroke-linejoin="round"/><path d="M550.7 231.7Q551.6 227.0 555.4 222.9Q554.4 228.0 552.3 232.2Z" fill="#f4f4f4" stroke="#000" stroke-width="0.7" stroke-linejoin="round"/><path d="M551.2 231.6Q553.4 227.7 559.1 225.5Q555.9 229.7 552.6 232.7Z" fill="#8a8a8a" stroke="#000" stroke-width="0.7" stroke-linejoin="round"/><path d="M549.3 233.0Q545.2 230.1 541.1 225.9Q547.6 227.6 550.6 231.6Z" fill="#f4f4f4" stroke="#000" stroke-width="0.7" stroke-linejoin="round"/><path d="M551.5 231.7Q554.2 228.2 560.5 227.0Q556.4 230.7 552.7 233.0Z" fill="#1c1c1c" stroke="#000" stroke-width="0.7" stroke-linejoin="round"/><path d="M549.3 233.8Q545.0 233.5 539.0 232.1Q545.7 230.5 549.7 232.2Z" fill="#f4f4f4" stroke="#000" stroke-width="0.7" stroke-linejoin="round"/><path d="M549.3 233.8Q544.7 233.1 538.9 231.2Q545.6 230.0 549.8 232.0Z" fill="#f4f4f4" stroke="#000" stroke-width="0.7" stroke-linejoin="round"/><path d="M552.0 231.8Q556.6 229.0 564.1 229.6Q558.1 232.5 552.8 233.7Z" fill="#1c1c1c" stroke="#000" stroke-width="0.7" stroke-linejoin="round"/><path d="M550.7 231.6Q552.1 226.2 557.0 221.8Q555.3 227.5 552.5 232.3Z" fill="#f4f4f4" stroke="#000" stroke-width="0.7" stroke-linejoin="round"/><ellipse cx="551.0" cy="232.6" rx="2.8" ry="1.5" fill="#111"/>
<path d="M570.3 231.2Q566.4 229.3 561.8 226.3Q568.0 226.9 571.2 229.8Z" fill="#f4f4f4" stroke="#000" stroke-width="0.7" stroke-linejoin="round"/><path d="M570.5 230.5Q567.7 227.0 565.2 222.5Q570.2 225.4 571.9 229.6Z" fill="#8a8a8a" stroke="#000" stroke-width="0.7" stroke-linejoin="round"/><path d="M570.4 231.9Q566.7 231.8 561.3 230.6Q567.3 228.8 570.7 230.2Z" fill="#f4f4f4" stroke="#000" stroke-width="0.7" stroke-linejoin="round"/><path d="M570.3 230.9Q566.1 227.5 562.0 223.0Q568.5 225.2 571.7 229.6Z" fill="#f4f4f4" stroke="#000" stroke-width="0.7" stroke-linejoin="round"/><path d="M571.6 229.7Q572.3 224.5 576.1 219.6Q574.9 225.1 573.1 230.0Z" fill="#8a8a8a" stroke="#000" stroke-width="0.7" stroke-linejoin="round"/><path d="M571.2 229.8Q570.9 223.4 574.0 217.1Q574.1 223.6 573.0 229.9Z" fill="#8a8a8a" stroke="#000" stroke-width="0.7" stroke-linejoin="round"/><path d="M573.3 230.1Q577.8 228.5 584.6 230.4Q578.4 231.9 573.7 232.0Z" fill="#8a8a8a" stroke="#000" stroke-width="0.7" stroke-linejoin="round"/><path d="M573.3 230.3Q577.3 229.0 583.5 230.7Q577.8 231.6 573.6 231.8Z" fill="#1c1c1c" stroke="#000" stroke-width="0.7" stroke-linejoin="round"/><path d="M570.9 230.0Q569.0 224.2 567.5 218.0Q571.6 223.6 572.4 229.7Z" fill="#1c1c1c" stroke="#000" stroke-width="0.7" stroke-linejoin="round"/><path d="M572.6 229.7Q575.7 225.9 582.2 224.0Q577.6 227.9 573.6 230.9Z" fill="#8a8a8a" stroke="#000" stroke-width="0.7" stroke-linejoin="round"/><path d="M572.0 229.6Q573.6 225.5 578.3 222.4Q576.0 226.8 573.4 230.4Z" fill="#8a8a8a" stroke="#000" stroke-width="0.7" stroke-linejoin="round"/><path d="M570.3 231.6Q566.6 230.8 561.9 228.9Q567.7 228.0 570.9 230.0Z" fill="#f4f4f4" stroke="#000" stroke-width="0.7" stroke-linejoin="round"/><path d="M572.2 229.5Q574.7 225.5 580.8 223.6Q577.4 227.8 573.7 230.8Z" fill="#f4f4f4" stroke="#000" stroke-width="0.7" stroke-linejoin="round"/><path d="M572.8 229.7Q576.5 226.8 583.3 226.8Q578.2 229.8 573.8 231.4Z" fill="#f4f4f4" stroke="#000" stroke-width="0.7" stroke-linejoin="round"/><path d="M570.7 230.2Q568.6 226.2 567.8 221.3Q571.5 225.2 572.3 229.6Z" fill="#f4f4f4" stroke="#000" stroke-width="0.7" stroke-linejoin="round"/><ellipse cx="572.0" cy="230.5" rx="2.6" ry="1.5" fill="#111"/>
<path d="M613.6 227.2Q615.4 222.5 621.1 219.4Q618.7 224.5 615.5 228.3Z" fill="#f4f4f4" stroke="#000" stroke-width="0.7" stroke-linejoin="round"/><path d="M614.4 227.4Q617.3 224.0 623.4 223.0Q619.4 226.5 615.5 228.8Z" fill="#8a8a8a" stroke="#000" stroke-width="0.7" stroke-linejoin="round"/><path d="M614.5 227.4Q618.4 224.0 625.2 223.3Q620.2 226.7 615.6 229.0Z" fill="#8a8a8a" stroke="#000" stroke-width="0.7" stroke-linejoin="round"/><path d="M612.0 229.2Q607.2 227.5 602.0 224.2Q609.1 224.2 613.0 227.4Z" fill="#f4f4f4" stroke="#000" stroke-width="0.7" stroke-linejoin="round"/><path d="M612.3 228.0Q609.0 222.2 607.0 215.6Q612.5 220.8 614.2 227.2Z" fill="#1c1c1c" stroke="#000" stroke-width="0.7" stroke-linejoin="round"/><path d="M613.9 227.2Q616.9 221.7 623.9 218.3Q619.9 223.9 615.5 228.4Z" fill="#f4f4f4" stroke="#000" stroke-width="0.7" stroke-linejoin="round"/><path d="M615.1 227.9Q619.8 226.1 627.0 227.5Q620.5 229.1 615.5 229.5Z" fill="#1c1c1c" stroke="#000" stroke-width="0.7" stroke-linejoin="round"/><path d="M612.4 227.8Q610.1 221.7 609.2 215.1Q613.8 220.9 614.5 227.3Z" fill="#1c1c1c" stroke="#000" stroke-width="0.7" stroke-linejoin="round"/><path d="M612.2 228.3Q608.4 223.8 605.0 218.4Q610.9 222.0 613.7 227.3Z" fill="#1c1c1c" stroke="#000" stroke-width="0.7" stroke-linejoin="round"/><path d="M612.1 229.4Q608.1 228.9 602.8 227.2Q609.0 225.9 612.6 227.8Z" fill="#1c1c1c" stroke="#000" stroke-width="0.7" stroke-linejoin="round"/><path d="M612.9 227.5Q612.4 221.7 615.3 215.7Q615.9 221.9 614.9 227.6Z" fill="#8a8a8a" stroke="#000" stroke-width="0.7" stroke-linejoin="round"/><path d="M613.2 227.3Q614.4 220.3 619.7 214.5Q618.2 221.5 615.3 227.9Z" fill="#f4f4f4" stroke="#000" stroke-width="0.7" stroke-linejoin="round"/><path d="M615.2 228.0Q620.5 226.8 628.3 229.0Q620.8 230.0 615.4 229.8Z" fill="#8a8a8a" stroke="#000" stroke-width="0.7" stroke-linejoin="round"/><path d="M612.3 229.8Q608.2 230.3 602.1 229.8Q608.3 227.2 612.3 228.1Z" fill="#8a8a8a" stroke="#000" stroke-width="0.7" stroke-linejoin="round"/><path d="M612.1 228.6Q608.0 225.4 604.2 221.0Q610.4 223.0 613.5 227.3Z" fill="#8a8a8a" stroke="#000" stroke-width="0.7" stroke-linejoin="round"/><ellipse cx="613.8" cy="228.2" rx="2.9" ry="1.5" fill="#111"/>
<path d="M637.5 225.2Q638.1 218.6 642.5 212.8Q641.9 219.5 639.6 225.7Z" fill="#1c1c1c" stroke="#000" stroke-width="0.7" stroke-linejoin="round"/><path d="M636.5 226.3Q632.9 222.8 629.7 218.1Q635.8 220.6 638.1 225.1Z" fill="#1c1c1c" stroke="#000" stroke-width="0.7" stroke-linejoin="round"/><path d="M636.5 226.6Q631.7 223.5 626.8 219.2Q633.8 221.0 637.7 225.2Z" fill="#f4f4f4" stroke="#000" stroke-width="0.7" stroke-linejoin="round"/><path d="M636.5 227.2Q631.7 226.1 625.6 223.6Q632.9 222.9 637.2 225.5Z" fill="#8a8a8a" stroke="#000" stroke-width="0.7" stroke-linejoin="round"/><path d="M639.4 225.6Q644.6 223.6 652.2 225.3Q645.4 227.2 639.9 227.6Z" fill="#f4f4f4" stroke="#000" stroke-width="0.7" stroke-linejoin="round"/><path d="M638.0 225.1Q640.0 218.9 646.1 214.0Q643.2 220.4 639.7 226.0Z" fill="#f4f4f4" stroke="#000" stroke-width="0.7" stroke-linejoin="round"/><path d="M638.7 225.2Q642.7 221.0 650.2 219.4Q645.0 223.7 640.0 226.7Z" fill="#f4f4f4" stroke="#000" stroke-width="0.7" stroke-linejoin="round"/><path d="M637.2 225.4Q636.7 218.9 640.1 212.5Q640.5 219.1 639.4 225.5Z" fill="#1c1c1c" stroke="#000" stroke-width="0.7" stroke-linejoin="round"/><path d="M638.4 225.2Q641.1 220.7 647.4 218.1Q643.7 222.8 639.9 226.3Z" fill="#1c1c1c" stroke="#000" stroke-width="0.7" stroke-linejoin="round"/><path d="M636.7 227.7Q632.4 228.2 626.4 227.6Q632.6 225.0 636.7 225.9Z" fill="#8a8a8a" stroke="#000" stroke-width="0.7" stroke-linejoin="round"/><path d="M636.4 226.9Q632.2 225.0 627.5 221.8Q634.1 222.2 637.5 225.3Z" fill="#f4f4f4" stroke="#000" stroke-width="0.7" stroke-linejoin="round"/><path d="M637.1 225.5Q635.6 218.9 635.3 211.9Q638.8 218.5 638.9 225.3Z" fill="#1c1c1c" stroke="#000" stroke-width="0.7" stroke-linejoin="round"/><path d="M639.0 225.3Q642.3 222.6 648.7 223.1Q644.1 226.0 640.0 227.2Z" fill="#f4f4f4" stroke="#000" stroke-width="0.7" stroke-linejoin="round"/><path d="M639.5 225.7Q643.5 224.1 650.0 225.9Q644.2 227.4 639.9 227.5Z" fill="#8a8a8a" stroke="#000" stroke-width="0.7" stroke-linejoin="round"/><path d="M636.8 225.9Q634.3 221.4 632.7 216.1Q637.4 220.2 638.5 225.2Z" fill="#f4f4f4" stroke="#000" stroke-width="0.7" stroke-linejoin="round"/><ellipse cx="638.2" cy="226.1" rx="2.9" ry="1.5" fill="#111"/>
<path d="M659.1 223.9Q656.6 218.8 655.9 213.0Q660.3 217.7 661.2 223.2Z" fill="#8a8a8a" stroke="#000" stroke-width="0.7" stroke-linejoin="round"/><path d="M659.1 224.2Q655.9 220.4 653.5 215.7Q658.7 218.8 660.6 223.2Z" fill="#f4f4f4" stroke="#000" stroke-width="0.7" stroke-linejoin="round"/><path d="M658.9 224.5Q654.9 221.1 651.3 216.6Q657.5 218.8 660.3 223.2Z" fill="#8a8a8a" stroke="#000" stroke-width="0.7" stroke-linejoin="round"/><path d="M661.0 223.3Q664.5 218.9 671.2 216.9Q666.8 221.3 662.3 224.6Z" fill="#8a8a8a" stroke="#000" stroke-width="0.7" stroke-linejoin="round"/><path d="M658.9 225.1Q654.2 223.5 648.3 221.0Q655.5 220.9 659.6 223.6Z" fill="#f4f4f4" stroke="#000" stroke-width="0.7" stroke-linejoin="round"/><path d="M659.6 223.6Q658.3 218.4 658.5 212.7Q661.4 218.1 661.3 223.4Z" fill="#8a8a8a" stroke="#000" stroke-width="0.7" stroke-linejoin="round"/><path d="M659.0 225.5Q654.0 225.3 647.4 223.8Q654.6 222.2 659.3 223.8Z" fill="#8a8a8a" stroke="#000" stroke-width="0.7" stroke-linejoin="round"/><path d="M660.6 223.2Q663.3 217.1 669.5 212.6Q666.2 218.7 662.2 224.1Z" fill="#1c1c1c" stroke="#000" stroke-width="0.7" stroke-linejoin="round"/><path d="M661.4 223.3Q664.8 220.6 671.5 221.3Q666.6 224.1 662.4 225.3Z" fill="#f4f4f4" stroke="#000" stroke-width="0.7" stroke-linejoin="round"/><path d="M659.5 223.5Q658.4 218.0 659.5 212.1Q662.2 217.9 661.6 223.4Z" fill="#1c1c1c" stroke="#000" stroke-width="0.7" stroke-linejoin="round"/><path d="M661.9 223.8Q665.8 222.5 672.2 224.3Q666.3 225.5 662.2 225.6Z" fill="#8a8a8a" stroke="#000" stroke-width="0.7" stroke-linejoin="round"/><path d="M660.6 223.2Q663.0 218.3 669.1 215.1Q666.0 220.2 662.3 224.3Z" fill="#f4f4f4" stroke="#000" stroke-width="0.7" stroke-linejoin="round"/><path d="M662.0 223.9Q667.3 222.7 674.7 225.3Q667.5 226.3 662.2 225.9Z" fill="#8a8a8a" stroke="#000" stroke-width="0.7" stroke-linejoin="round"/><path d="M660.3 223.3Q661.5 217.8 666.2 213.1Q664.5 218.8 661.9 223.8Z" fill="#f4f4f4" stroke="#000" stroke-width="0.7" stroke-linejoin="round"/><path d="M658.8 225.2Q653.9 223.5 648.4 220.3Q655.7 220.2 659.8 223.3Z" fill="#f4f4f4" stroke="#000" stroke-width="0.7" stroke-linejoin="round"/><ellipse cx="660.6" cy="224.2" rx="2.9" ry="1.5" fill="#111"/>
<path d="M682.5 222.0Q679.7 217.9 677.6 212.9Q682.7 216.5 684.2 221.2Z" fill="#f4f4f4" stroke="#000" stroke-width="0.7" stroke-linejoin="round"/><path d="M684.5 221.2Q688.4 217.2 695.8 216.0Q690.7 220.2 685.8 222.9Z" fill="#8a8a8a" stroke="#000" stroke-width="0.7" stroke-linejoin="round"/><path d="M683.3 221.3Q683.7 214.6 687.5 208.4Q687.4 215.3 685.3 221.6Z" fill="#1c1c1c" stroke="#000" stroke-width="0.7" stroke-linejoin="round"/><path d="M685.5 221.8Q689.8 220.9 696.1 223.9Q689.9 224.7 685.5 224.0Z" fill="#f4f4f4" stroke="#000" stroke-width="0.7" stroke-linejoin="round"/><path d="M682.4 222.2Q679.0 218.0 676.6 212.8Q682.0 216.2 684.1 221.1Z" fill="#f4f4f4" stroke="#000" stroke-width="0.7" stroke-linejoin="round"/><path d="M682.7 221.6Q680.7 215.0 680.5 207.9Q684.3 214.3 684.7 221.3Z" fill="#8a8a8a" stroke="#000" stroke-width="0.7" stroke-linejoin="round"/><path d="M685.2 221.5Q689.8 219.6 697.0 221.3Q690.7 223.3 685.7 223.6Z" fill="#f4f4f4" stroke="#000" stroke-width="0.7" stroke-linejoin="round"/><path d="M684.0 221.2Q685.8 216.6 690.8 213.3Q688.5 218.1 685.5 222.1Z" fill="#f4f4f4" stroke="#000" stroke-width="0.7" stroke-linejoin="round"/><path d="M682.3 222.9Q678.2 221.3 673.1 218.5Q679.7 218.7 683.1 221.4Z" fill="#f4f4f4" stroke="#000" stroke-width="0.7" stroke-linejoin="round"/><path d="M682.2 223.3Q676.8 222.1 670.2 219.4Q678.2 218.7 683.0 221.4Z" fill="#8a8a8a" stroke="#000" stroke-width="0.7" stroke-linejoin="round"/><path d="M683.1 221.4Q682.3 215.2 683.2 208.7Q685.6 215.2 684.9 221.4Z" fill="#8a8a8a" stroke="#000" stroke-width="0.7" stroke-linejoin="round"/><path d="M682.3 222.4Q678.4 218.8 674.8 214.2Q680.9 216.7 683.7 221.2Z" fill="#f4f4f4" stroke="#000" stroke-width="0.7" stroke-linejoin="round"/><path d="M685.0 221.3Q690.0 218.3 698.4 218.9Q691.5 221.9 685.8 223.4Z" fill="#8a8a8a" stroke="#000" stroke-width="0.7" stroke-linejoin="round"/><path d="M684.3 221.2Q687.5 216.6 693.7 214.0Q689.8 218.7 685.6 222.4Z" fill="#f4f4f4" stroke="#000" stroke-width="0.7" stroke-linejoin="round"/><path d="M682.5 223.7Q677.3 224.1 670.2 223.5Q677.5 221.0 682.5 222.0Z" fill="#8a8a8a" stroke="#000" stroke-width="0.7" stroke-linejoin="round"/><ellipse cx="684.0" cy="222.1" rx="2.9" ry="1.5" fill="#111"/>
</g>
<path d="M604.6 229.2L676 223V225L604.6 231.2Z" fill="#ececec"/>
<path d="M604.6 231.2L676 225" stroke="#222" stroke-width="0.7" fill="none"/>
<path d="M604.6 229.2L676 223" stroke="#444" stroke-width="0.6" stroke-dasharray="6 3 8 4" fill="none"/>
<g id="col">
<rect x="453.5" y="257.4" width="7.4" height="95.6" fill="#fff" stroke="#444" stroke-width="0.6"/>
<path d="M459.1 335.8l0.0 0.7M454.0 320.8l0.1 1.2M456.4 330.9l0.8 0.9M458.7 297.4l-0.1 1.1M455.2 310.5l-0.5 0.4M459.1 323.0l-0.6 0.3M454.6 333.7l-0.7 0.5M454.6 277.0l-0.3 0.6M460.1 313.8l0.9 0.6M456.3 346.2l-0.9 0.3M458.1 324.1l-1.1 0.8M454.2 292.5l-0.2 0.7M457.8 266.9l-0.9 0.3M454.7 320.8l0.3 0.5M457.1 271.5l1.0 0.8M458.5 259.7l-0.3 0.3M456.1 343.5l-0.3 0.7M456.4 295.1l1.3 0.5M454.3 298.3l-0.6 0.6M460.3 281.6l-1.3 0.1M458.3 342.1l0.2 1.2M459.1 307.1l0.1 1.1M456.6 266.6l-0.5 0.5M457.1 332.2l0.4 0.2M454.8 313.9l0.3 0.6M456.9 345.7l0.6 0.6M459.6 316.0l0.6 0.7M457.1 271.9l0.3 0.7M459.2 288.9l-0.7 1.2M459.9 293.8l-0.2 0.7M456.5 304.4l-1.1 0.8M455.9 259.1l0.1 0.5M454.2 331.2l1.0 0.4M456.3 346.7l-0.4 0.2M455.2 347.6l-0.3 0.8M459.0 335.0l0.0 0.9M454.6 292.5l0.9 0.5M457.9 272.1l-0.2 0.5M454.7 319.2l0.2 1.3M458.0 324.4l1.1 0.5M454.5 316.6l-1.3 0.4M459.7 301.0l-0.7 1.0M454.9 347.2l-0.8 0.2M459.0 300.5l0.7 0.8M454.4 333.7l-0.7 0.0M460.0 266.4l-0.6 0.3M460.2 299.0l-0.4 0.1M454.5 335.2l-0.4 0.8M454.2 274.8l0.2 0.4M460.4 330.4l-1.1 0.2M456.2 265.8l-0.3 0.4M457.5 302.1l0.0 0.5M454.5 307.4l0.9 0.1M455.0 285.0l0.9 0.4M456.5 279.5l0.7 0.6M459.8 297.9l0.6 0.4M455.5 312.3l-0.8 0.6M455.2 289.1l0.3 0.8M456.5 352.3l-0.2 1.0M458.6 319.1l-0.6 0.4M458.3 349.9l0.9 0.5M456.5 264.2l1.1 0.1M454.7 325.3l0.7 0.2M454.2 309.5l-0.5 0.4M457.6 345.2l0.5 0.7M458.6 339.7l0.9 0.5M454.8 269.0l-0.4 0.0M459.9 329.0l-0.6 1.0M458.2 285.5l0.1 0.6M459.5 331.7l-0.5 0.4M457.8 282.5l-0.9 0.7M460.4 325.1l-0.6 1.0M454.6 314.5l0.8 0.1M454.7 347.7l1.3 0.1M460.1 299.4l-0.4 0.2M454.9 259.4l0.4 0.1M459.3 266.7l-0.2 0.6M454.8 297.9l1.2 0.7M456.5 314.3l-0.2 1.0M457.1 283.9l1.2 0.5M455.2 300.7l-0.8 0.6M460.1 334.6l-0.0 0.5M457.8 303.0l-0.8 0.4M458.4 334.8l0.1 1.2M459.8 273.0l-1.2 0.3M459.5 290.2l0.4 0.4M456.4 338.9l0.2 0.4M456.0 266.3l-0.4 1.1M459.9 266.9l0.2 0.5M459.8 337.2l-0.1 1.4M457.3 331.5l0.0 0.8M460.4 337.6l-0.4 1.2M458.2 333.5l0.5 0.1M454.7 315.2l-0.4 0.4M457.2 269.2l-0.7 1.0M454.6 350.6l-0.3 0.5M456.2 273.4l-0.9 1.0M455.1 275.8l-0.5 1.2M458.7 301.5l1.0 0.3M456.9 334.1l-0.3 1.1M460.2 317.3l-0.6 0.2M454.0 341.4l1.4 0.1M456.9 264.3l0.7 0.9M456.5 317.1l1.2 0.4M456.4 336.8l1.0 0.5M457.0 296.5l0.9 0.1M459.4 268.3l0.1 0.4M460.4 349.6l-0.5 0.7M454.5 269.9l-0.7 1.0M460.3 339.5l0.1 0.6M457.5 291.0l-0.2 1.3M456.9 350.7l-0.3 0.3M458.8 320.7l-0.2 0.4M459.6 305.1l-0.1 0.6M454.2 259.8l0.6 0.4M455.0 264.0l-0.7 0.8M459.6 279.0l-0.7 0.7M454.6 340.8l0.3 0.5M455.2 345.4l0.6 0.5M457.5 292.3l-0.2 0.4M456.8 313.4l-0.4 0.9M455.7 318.5l-0.9 0.1M458.1 337.2l0.5 0.5M460.2 286.8l0.2 0.8M460.4 309.7l-0.5 0.2M455.8 319.6l0.6 0.9M457.2 265.8l0.8 0.3M457.4 275.1l0.3 0.3M455.7 287.6l0.3 0.9M459.5 325.9l-0.5 0.5M457.2 326.8l-0.6 0.2M454.1 263.3l-0.1 1.3M455.0 332.2l-0.5 1.1M459.8 268.6l-0.4 0.3M454.8 296.0l0.0 0.5M455.8 275.0l0.5 0.2M454.2 278.9l0.4 0.7M458.4 316.0l0.0 0.7M457.9 276.6l0.4 0.3M458.3 271.6l0.6 0.5M457.6 319.4l-0.3 1.0M455.2 344.3l-0.5 0.6M456.5 312.7l1.0 0.4M459.8 292.7l0.0 0.7M459.8 293.9l0.5 1.0M456.4 343.6l0.3 1.0M456.0 313.9l0.0 0.5M459.7 273.6l-0.3 1.0M457.0 289.3l0.2 1.4M454.1 341.7l-0.3 0.8M458.1 318.6l-1.2 0.7M457.3 291.5l0.5 1.2M457.1 265.1l-0.1 0.5M456.2 319.7l-0.3 0.9M459.3 315.7l-1.2 0.1M455.7 332.0l0.6 1.2M458.0 297.8l1.1 0.7M456.3 260.0l-0.3 0.2M454.3 261.4l-0.4 0.9M457.1 346.4l0.1 0.6M460.4 268.9l0.6 0.1M460.2 297.8l0.3 0.7M456.4 329.5l-0.3 0.6M455.2 335.2l-0.2 0.9M455.3 350.3l-0.1 1.3M458.3 318.6l1.3 0.1M459.5 265.7l1.0 0.3M458.3 276.6l-0.5 0.0M457.6 303.8l0.5 0.9M456.8 330.6l-0.3 0.3M456.1 309.5l0.6 0.8M454.2 268.4l-0.0 0.6M455.3 297.3l-0.3 1.0M457.8 305.3l0.3 1.2M459.5 343.0l-1.1 0.2M455.3 324.5l0.4 0.5M456.6 261.6l0.1 0.6M455.5 299.0l-0.8 0.7M456.0 326.5l0.2 0.7M456.6 285.4l1.2 0.6M457.8 320.2l-0.3 0.8M458.0 259.2l0.9 0.2M457.0 259.6l0.6 0.4M460.2 337.1l0.8 0.1M456.2 271.4l0.9 1.1M459.9 283.9l-0.4 0.3M458.0 266.6l-0.4 0.9M460.4 312.9l-0.6 0.2M458.0 278.1l1.4 0.3M454.2 291.7l0.3 0.5M459.5 329.4l0.3 0.9M459.3 264.1l-0.6 1.1M457.9 307.7l0.4 0.4M455.1 292.1l0.7 0.9M455.0 270.4l-0.7 0.5M454.7 335.2l0.8 0.1M456.6 307.2l1.0 0.9M457.7 289.2l-0.3 0.7M457.6 314.6l0.9 0.9M454.6 346.2l0.2 0.9M454.7 306.6l0.5 0.9M458.4 267.9l1.3 0.3M455.3 322.2l-0.8 0.9M454.0 318.5l-0.4 0.2M454.0 341.6l-0.6 0.9M458.9 315.9l0.5 0.3M454.1 320.5l-0.7 1.2M455.6 272.2l0.5 1.2M455.5 341.3l-0.5 1.1M454.7 334.1l0.4 1.1M454.3 286.3l-0.1 0.7M457.4 268.5l0.7 0.7M456.1 350.4l0.3 0.6M456.6 318.5l0.8 1.2M455.3 313.6l-0.6 0.3M455.5 306.6l-1.1 0.6M459.5 325.5l1.3 0.3M455.0 259.9l-0.0 0.4M454.3 276.6l-0.7 0.0M459.5 347.1l0.4 0.3M455.4 318.6l-0.4 0.6M459.0 265.2l0.8 0.1M458.2 338.0l-1.3 0.2M460.2 316.0l0.1 0.4M457.6 344.6l-0.7 0.5M458.1 330.9l-1.1 0.0M457.8 348.7l-0.4 0.0M460.2 286.0l0.7 0.0M454.8 258.8l-0.6 0.4M454.7 326.4l0.6 0.4M456.6 288.8l-0.4 0.4M459.2 301.6l0.2 0.7M459.9 281.2l0.2 0.6M454.8 260.5l-0.7 1.0M456.0 299.9l-0.4 0.2M455.8 327.6l0.5 0.5M457.4 284.2l0.4 0.2M460.3 334.7l0.4 0.4M457.3 309.1l-0.8 0.2M454.8 338.1l0.6 0.3M455.4 340.3l-0.8 0.1M458.0 324.7l0.2 1.2M456.0 327.5l0.5 0.3M455.0 275.2l-0.6 0.1M458.2 259.8l-1.0 0.5M458.3 351.4l1.2 0.1M454.8 347.1l0.7 0.0M457.5 302.8l-0.4 0.3M459.7 260.1l-1.2 0.2M454.1 263.7l0.5 0.2M455.1 278.8l-0.1 0.9M455.6 351.2l-0.3 0.9M459.3 316.5l-1.1 0.5M456.3 340.8l-0.2 0.4M456.1 322.9l-0.6 0.9M458.9 326.8l-0.6 0.2M459.8 342.1l-0.5 0.4M457.9 339.3l-0.5 0.3M454.3 310.1l0.9 0.2M454.8 270.2l-0.9 0.4" stroke="#333" stroke-width="0.70" fill="none" stroke-linecap="round"/>
<path d="M410 262V352.6M416.4 261.4V352.6" stroke="#8a8a8a" stroke-width="1.1" fill="none"/>
</g>
<g id="wallR">
<rect x="570.4" y="247.4" width="12.6" height="106" fill="#fff" stroke="#111" stroke-width="0.8"/>
<path d="M573.6 349.0l1.0 0.4M572.0 274.0l-0.6 0.0M578.4 296.2l0.1 0.9M573.2 335.2l0.6 0.2M571.2 276.0l0.4 1.2M575.4 259.9l1.0 1.0M571.7 313.1l0.4 1.0M574.9 320.6l0.0 1.0M581.5 309.1l0.4 0.2M582.0 299.3l1.1 0.8M577.7 324.5l-0.6 0.3M575.1 340.2l1.1 0.5M572.1 320.5l-0.8 1.1M580.8 300.9l0.4 0.3M577.1 301.5l1.3 0.3M576.9 321.6l0.5 0.4M571.1 284.0l0.6 0.6M575.4 335.6l-0.5 0.2M575.6 265.4l-0.7 1.2M573.3 328.5l0.2 0.3M579.9 283.9l0.7 0.4M573.7 291.1l0.1 0.8M577.8 278.3l0.5 0.1M572.2 302.7l0.5 1.1M576.9 322.4l-0.5 0.0M571.2 262.7l0.3 0.9M579.6 284.9l-0.4 0.0M580.7 270.1l-0.4 0.2M582.2 327.7l-1.0 0.0M573.1 349.8l0.1 0.5M578.0 300.2l0.0 0.6M572.4 309.0l0.1 0.5M576.1 324.2l-0.5 0.7M575.6 285.9l0.5 0.4M576.2 259.4l-0.7 0.8M578.1 250.4l0.3 0.8M572.1 349.6l-0.6 0.6M579.2 269.1l0.7 0.6M579.6 316.0l1.0 0.0M581.5 326.0l-1.3 0.3M573.6 279.1l-0.2 1.4M575.3 346.8l-0.8 0.4M578.3 348.5l-0.5 0.4M580.8 268.6l0.5 1.2M580.8 280.8l0.6 0.8M580.8 319.9l-1.1 0.2M580.5 311.5l0.3 0.8M576.7 303.5l-0.6 0.3M571.8 325.0l0.5 0.6M572.4 335.1l0.5 0.5M580.3 300.9l0.8 1.0M575.8 285.9l-1.2 0.1M579.7 274.2l-0.8 0.6M580.6 286.6l-0.9 0.8M575.5 316.7l-1.1 0.9M581.7 330.6l0.9 0.4M578.9 257.1l0.1 1.3M581.5 345.2l1.0 0.3M581.0 316.5l0.2 0.4M581.7 338.2l-0.4 0.7M580.6 333.6l-0.6 0.8M574.7 279.1l0.3 0.7M577.0 260.0l-0.5 0.6M572.9 274.8l0.3 0.8M580.1 258.5l0.5 0.4M573.0 326.7l0.4 0.2M577.4 325.3l-0.8 0.5M574.8 340.6l-0.6 0.6M577.5 346.3l-1.3 0.0M572.5 282.3l0.2 0.5M579.8 254.4l-0.9 0.3M578.1 291.6l-1.0 0.2M581.4 344.9l-0.8 1.1M576.7 286.5l-0.8 0.4M574.6 319.4l0.0 0.5M580.7 300.5l-0.9 0.1M581.9 278.4l0.7 0.6M579.9 334.6l-0.2 0.5M575.6 251.7l0.5 1.2M575.0 321.4l-0.2 0.5M579.0 256.4l0.8 0.5M572.5 349.3l0.2 1.0M582.2 259.3l-0.4 0.0M578.0 316.9l-0.8 0.0M582.0 316.3l0.0 0.6M573.7 286.3l0.4 0.7M580.4 287.4l-0.2 0.4M572.6 322.5l-0.7 0.2M571.4 272.4l0.3 0.7M577.5 279.7l-0.5 1.1M580.1 325.9l-0.2 0.6M580.8 278.4l-0.8 0.4M578.3 300.4l-0.3 0.7M577.7 325.3l0.4 0.9M576.3 297.4l0.3 0.9M579.2 266.2l1.1 0.5M572.0 331.3l-0.4 0.4M578.4 274.6l-0.6 0.2M572.3 251.8l-0.4 0.5M574.6 350.6l-0.8 0.8M577.7 315.3l1.2 0.0M574.8 337.7l0.3 1.3M571.0 350.9l0.9 0.3M576.6 351.6l-0.9 1.1M581.5 292.6l0.5 0.2M579.2 347.9l-0.4 0.6M577.9 317.0l0.8 0.8M573.3 250.9l0.9 0.2M579.1 271.7l0.3 1.0M574.1 302.8l-0.3 0.8M573.4 320.7l-0.3 0.5M580.4 316.8l-1.1 0.5M576.7 323.2l0.6 0.9M572.0 284.3l-0.0 1.3M578.9 343.4l-1.3 0.5M578.2 312.8l0.1 0.6M580.2 312.1l0.6 0.3M573.6 323.9l-0.2 0.6M579.0 307.1l0.6 0.6M582.5 262.8l0.7 0.7M580.7 344.8l0.4 1.1M572.4 288.5l-1.0 0.5M576.2 310.9l0.0 0.9M581.3 350.4l0.9 0.7M582.0 311.8l-0.0 0.8M576.6 309.0l-0.2 0.5M582.6 277.0l-0.1 0.6M578.3 255.8l0.4 0.7M574.6 299.2l0.8 0.4M580.2 314.0l-1.3 0.1M576.5 297.1l-0.9 0.9M577.3 318.1l-0.5 0.8M576.9 290.1l0.1 0.9M580.3 264.8l1.2 0.5M576.9 321.2l-1.1 0.3M577.6 348.0l-0.3 0.8M573.1 264.7l-1.0 0.8M575.1 303.5l-0.5 0.9M574.2 343.7l-0.2 1.1M579.0 294.0l-0.3 0.5M577.4 316.4l-0.3 0.6M573.1 258.6l0.5 0.2M576.6 307.7l-0.5 0.7M579.9 251.1l0.2 0.5M577.0 308.1l-0.2 0.8M575.3 282.5l0.6 0.2M576.6 307.6l1.2 0.4M571.3 261.2l0.1 0.7M577.0 320.4l-0.3 1.1M576.5 319.0l0.1 0.5M571.9 267.1l0.1 0.7M577.5 318.1l-0.5 0.1M582.1 248.1l-1.3 0.5M575.2 331.8l-0.0 1.0M580.9 346.9l0.4 0.5M581.6 310.2l-0.6 0.2M580.9 264.7l0.6 0.3M581.8 288.7l0.1 0.7M571.9 294.4l0.0 0.7M579.5 280.5l-1.3 0.1M577.7 258.7l-0.2 1.0M578.5 292.7l-0.9 1.1M579.1 252.3l-0.4 0.9M577.3 346.5l0.4 0.1M579.4 258.5l1.1 0.5M575.2 340.7l-0.9 0.6M575.2 256.7l-1.3 0.1M581.6 301.4l0.7 0.8M575.9 268.1l0.8 0.3M572.7 276.1l-1.3 0.1M581.3 301.8l-0.4 0.4M578.2 350.3l-1.1 0.8M578.3 279.9l0.7 0.0M580.6 303.4l-0.5 1.1M574.4 262.8l-0.9 0.3M571.3 321.2l-0.7 0.9M572.5 276.7l-0.7 0.8M575.0 349.7l0.8 1.0M572.6 296.0l-1.1 0.0M579.8 340.8l-0.4 0.9M580.6 303.8l-1.2 0.2M571.0 278.2l-0.5 0.2M571.2 309.1l-0.8 1.1M582.2 313.8l-0.5 0.8M580.9 320.7l0.9 0.4M571.6 283.2l0.7 1.1M573.6 287.5l-0.1 0.6M576.3 279.2l-0.8 0.9M577.8 339.1l0.0 1.1M572.1 288.6l0.7 1.1M576.8 287.5l-0.7 1.2M580.6 332.4l-0.6 1.0M577.5 288.8l0.4 0.6M574.9 300.6l-0.6 0.3M575.5 275.4l0.0 0.5M578.2 338.1l-0.7 0.2M573.0 324.7l-0.4 0.4M571.7 318.3l0.3 0.9M577.5 340.8l0.6 0.3M571.4 320.3l1.2 0.3M578.1 301.8l0.8 0.9M572.3 309.0l-0.9 0.5M571.6 259.7l0.7 0.9M572.6 348.4l-0.9 0.3M581.2 314.7l0.7 0.4M571.3 294.0l-0.8 0.0M578.7 285.8l-0.4 0.6M581.6 291.1l0.6 0.6M571.9 282.6l-0.5 0.6M576.2 272.6l-1.1 0.7M575.7 248.2l0.3 1.2M578.6 271.9l1.2 0.4M571.9 312.6l-0.2 0.6M576.1 338.6l-0.5 0.0M571.4 275.3l1.3 0.2M571.9 286.6l-0.8 0.4M573.7 254.6l0.5 0.5M580.8 293.5l-0.1 0.7M575.7 345.4l1.0 0.4M574.6 291.9l-0.5 0.6M576.7 299.2l0.0 0.5M575.6 287.9l0.2 0.7M576.2 325.8l0.5 0.1M577.2 308.7l-0.3 0.3M571.1 311.8l0.7 0.6M574.4 257.2l-0.1 0.7M576.6 339.3l0.2 1.2M574.4 267.1l0.2 0.7M579.4 260.7l-0.4 0.5M575.7 270.7l0.5 0.2M582.4 258.4l-0.8 0.2M581.2 266.8l-0.3 1.0M574.6 312.4l-0.8 0.2M571.3 312.0l-0.7 0.5M580.7 285.3l0.1 0.8M572.1 255.5l-0.5 1.2M573.1 343.0l0.4 0.7M571.5 248.8l-0.3 1.2M578.4 261.6l-0.3 0.5M576.5 326.7l0.2 0.7M574.7 278.5l1.1 0.1M575.5 267.6l0.2 0.4M576.5 309.3l-0.3 0.8M582.5 263.8l0.8 0.6M575.8 279.8l-0.6 0.7M577.6 320.6l0.2 0.9M582.5 265.0l0.1 1.0M579.9 257.3l0.6 0.2M578.7 270.0l0.8 0.1M572.8 320.2l-1.1 0.2M577.6 290.7l0.8 0.1M577.0 279.6l0.4 1.3M575.3 275.6l0.2 1.3M571.5 297.0l-0.9 0.0M574.7 282.9l-0.3 0.4M582.0 320.7l-0.5 0.2M571.2 281.7l0.1 0.9M578.2 251.7l-0.5 0.1M573.2 261.3l0.2 0.5M579.3 285.0l0.7 0.3M580.5 305.6l1.0 0.2M576.7 302.5l-0.4 0.4M579.1 329.0l-0.8 0.2M573.6 322.5l-1.4 0.0M577.9 281.7l-0.5 0.1M578.5 337.9l-0.2 1.1M576.0 321.9l0.8 0.7M572.6 266.3l0.7 0.3M571.1 321.7l-1.2 0.3M571.5 299.8l0.9 0.4M571.1 348.0l0.1 0.6M575.8 280.7l0.0 0.8M582.2 281.0l0.9 0.2M576.5 285.4l-1.2 0.1M575.8 262.5l-1.1 0.4M581.7 290.1l0.7 0.6M577.1 325.1l1.2 0.6M577.2 278.4l-0.1 0.4M580.6 304.6l0.4 0.3M577.2 331.8l1.0 0.9M578.1 301.8l-0.8 0.1M579.1 287.6l0.4 0.8M582.0 258.1l0.1 0.4M575.8 254.9l-0.9 0.6M582.1 325.1l0.5 0.9M572.9 293.6l1.3 0.4M578.7 274.7l-0.1 0.8M581.3 318.9l-0.6 0.8M572.8 307.8l-0.7 0.4M571.1 280.5l1.0 0.1M576.5 259.5l-0.6 0.3M576.1 263.6l-0.1 1.0M579.2 249.4l0.5 0.3M574.6 332.8l-1.0 0.5M577.5 250.6l0.6 0.7M579.5 288.0l0.1 0.7M577.1 293.5l0.5 1.2M578.1 317.6l-1.0 0.5M574.0 326.8l-0.3 0.9M579.1 335.5l0.4 0.5M577.2 258.2l-0.5 0.4M574.6 330.2l-0.6 0.2M572.4 318.6l-0.3 0.8M573.0 349.9l1.2 0.4M573.7 274.1l0.1 0.5M579.8 268.0l0.5 0.6M580.3 251.9l-0.5 0.5M578.6 349.7l0.4 0.2M574.5 322.5l0.5 0.5M582.4 338.6l-0.6 0.1M579.0 280.6l-0.7 1.0M578.7 300.6l-0.5 1.0M572.9 322.7l1.2 0.5M575.0 257.4l1.0 0.1M571.8 290.6l1.1 0.1M581.0 250.6l-0.4 1.0M577.5 349.6l0.7 1.1M577.3 271.5l0.3 0.4M579.9 271.3l-0.3 1.1M574.0 316.4l-0.4 0.7M580.1 292.9l0.4 0.2M572.7 324.2l-0.0 0.5M582.0 249.2l-0.3 0.8M581.3 311.0l-0.5 0.3M577.2 330.0l0.4 1.0M575.8 284.0l0.7 0.8M582.4 252.2l0.4 0.3M573.0 301.1l-0.2 1.1M572.5 337.1l1.0 0.7M575.6 302.1l-1.1 0.6M577.3 254.3l0.6 0.9M580.5 341.4l-0.1 0.5M574.2 292.6l0.7 0.3M574.6 324.2l0.1 1.0M574.4 323.9l-0.1 0.5M581.7 259.4l0.3 0.3M580.3 338.2l0.2 1.2M580.3 338.1l-1.0 0.2M578.0 251.6l1.1 0.9M577.1 346.7l0.9 0.8M580.2 324.9l0.8 1.2M574.9 352.5l-0.5 0.1M571.9 290.8l0.5 0.6M573.1 326.9l1.0 0.3M574.8 283.3l-0.1 0.4M579.7 296.9l-0.8 0.9M581.6 249.1l0.5 0.5M577.3 279.2l0.2 0.9M579.9 256.9l0.2 0.6M575.9 285.5l1.0 0.9M571.0 251.7l-0.4 0.5M581.7 314.8l-1.2 0.7M579.7 349.3l0.5 0.3M571.3 248.1l-0.9 0.7M574.5 263.2l0.9 0.3M582.5 248.1l-0.2 1.1M573.9 264.5l-1.1 0.3M574.9 348.4l0.2 1.2M579.1 296.5l0.2 0.5M575.3 324.5l0.4 0.6M574.8 256.5l-1.0 0.4M578.2 336.6l-0.3 0.8M580.9 271.9l-1.0 1.0M572.5 272.9l0.5 1.0M577.0 290.0l-0.8 0.2M573.6 251.3l-1.4 0.1M582.3 310.1l-0.2 1.3M577.3 284.8l-0.3 0.6M576.9 267.9l0.6 0.5M579.1 333.8l0.9 0.2M580.8 258.2l0.8 0.7M574.5 342.7l1.1 0.1M577.8 276.2l-0.5 0.5M571.9 301.2l1.0 0.2M573.4 299.6l-1.1 0.1M577.5 331.0l0.2 0.9M581.9 350.6l1.0 0.0M579.7 337.1l-0.0 0.5M575.9 276.1l-0.0 0.5M572.4 347.4l0.1 1.2M578.1 289.6l-0.4 1.2M572.7 319.7l-1.4 0.2M577.6 253.4l-0.5 0.7M582.3 273.4l0.5 0.2M577.5 315.5l0.1 1.3M582.5 262.7l-0.1 0.8M572.0 268.5l-0.1 0.8M574.3 254.7l-0.8 1.0M572.8 339.2l0.4 1.3M582.0 349.1l1.1 0.1M571.5 252.5l-0.2 0.7M582.1 302.1l0.6 0.7M576.6 249.7l-0.9 0.4M579.3 336.0l-0.3 0.3M579.0 314.1l-0.5 0.9M581.2 256.6l0.4 1.1M575.5 345.6l-0.9 0.2M579.4 254.6l0.6 0.7M571.0 316.1l-0.0 0.5M578.7 295.1l0.6 0.1M573.2 303.1l-0.0 0.8M581.3 252.0l-0.7 0.4M573.0 276.1l1.0 1.0M577.7 278.5l0.8 1.0M574.1 337.1l0.2 0.4M571.1 343.5l-1.2 0.2M577.3 249.6l-0.1 0.6M576.3 339.4l0.9 0.6M572.4 252.6l0.7 0.3M572.3 326.1l0.2 0.9M573.5 308.8l0.5 0.0M572.9 280.0l-0.6 0.3M573.4 298.1l0.8 0.0M578.1 308.7l-0.8 0.3M577.3 262.1l-0.2 1.3M578.0 254.3l0.3 1.1M571.3 344.0l-0.8 0.7M579.8 299.7l-0.4 0.8M579.1 267.9l0.4 0.6M577.6 340.0l0.1 0.9M581.4 263.5l0.7 0.8M580.3 303.7l0.8 0.9M576.9 250.8l1.1 0.5M574.5 260.4l0.7 0.9M572.4 288.7l-0.7 0.4M576.1 260.1l0.6 0.3M574.1 274.6l0.6 0.2M578.1 347.1l0.4 0.8M573.2 289.4l0.6 0.5M572.8 344.1l-0.5 0.3" stroke="#111" stroke-width="0.70" fill="none" stroke-linecap="round"/>
<rect x="583" y="233.4" width="6.6" height="120" fill="#fff" stroke="#111" stroke-width="0.8"/>
<path d="M586.1 278.4l1.1 0.5M583.4 293.8l-0.5 0.2M586.7 307.4l0.8 0.1M587.6 287.8l-0.4 0.4M584.8 247.2l-0.0 1.3M586.9 326.1l0.4 1.1M584.0 268.7l-0.6 1.0M585.9 244.4l0.4 0.5M585.1 330.3l1.0 0.8M588.6 240.5l0.3 0.8M583.5 284.5l-0.5 0.1M586.9 248.4l-0.3 1.3M584.6 235.0l0.9 0.2M583.5 244.1l0.0 1.3M585.9 281.4l-0.2 0.4M586.8 254.5l-0.5 1.3M583.7 300.1l-0.2 0.5M585.0 352.4l-0.5 0.0M587.6 347.2l0.7 0.7M583.7 277.5l-0.5 0.8M588.0 244.3l0.6 1.1M586.8 287.7l0.4 1.3M586.8 236.2l-0.6 0.4M586.0 259.4l0.1 0.7M583.9 308.9l1.1 0.4M583.5 326.9l-0.7 0.5M587.6 263.5l-0.6 0.6M584.8 348.7l0.2 0.7M588.5 278.0l-0.3 0.5M588.4 264.8l1.4 0.2M584.4 346.6l-1.0 0.0M583.5 241.2l0.6 0.5M587.0 349.0l0.2 0.5M586.7 250.3l0.9 0.3M587.5 241.8l0.2 1.1M587.9 279.6l-0.5 0.2M587.6 325.8l-0.8 0.3M584.0 239.8l-0.1 0.6M587.1 244.0l-0.5 0.4M583.5 254.9l0.1 1.0M585.7 254.6l0.1 1.3M586.6 346.0l1.4 0.1M588.6 298.8l-0.1 0.9M588.8 241.8l-0.4 0.8M585.2 320.3l-0.3 0.4M587.5 288.0l0.0 1.0M583.7 305.7l0.5 1.2M584.8 332.0l-0.7 0.8M588.6 238.3l-0.3 1.0M587.4 282.4l0.6 0.1M587.0 255.6l0.7 0.2M586.2 297.7l1.2 0.1M585.4 327.2l1.4 0.0M586.9 350.2l-1.2 0.1M584.0 275.5l0.9 0.8M584.5 260.3l0.5 0.2M588.9 350.2l0.4 1.1M586.2 296.1l0.4 0.9M584.8 264.5l-0.0 0.6M586.0 346.3l0.5 0.0M588.1 240.9l0.9 0.9M587.0 260.3l0.7 0.1M585.2 329.2l-1.2 0.1M588.7 344.8l-1.2 0.5M589.1 245.2l0.4 0.5M587.0 292.5l0.6 1.1M585.8 258.9l0.6 0.7M587.0 301.6l0.1 0.6M585.8 272.7l0.8 0.5M584.5 318.7l-0.3 0.5M587.1 274.2l0.2 1.0M587.9 339.1l-0.4 0.5M586.6 273.9l1.0 0.1M586.2 337.2l0.6 1.0M586.4 245.8l-0.4 0.5M586.5 242.5l1.3 0.0M583.6 251.7l0.4 0.2M588.3 352.4l-0.4 0.7M588.6 294.2l1.0 0.4M585.5 266.1l0.4 0.7M584.5 306.9l-0.9 0.4M583.5 315.4l0.9 0.1M588.5 314.6l-1.1 0.3M585.0 251.1l0.2 1.1M584.8 273.4l-0.5 0.5M586.9 298.9l-0.4 0.1M584.5 326.6l-0.3 0.4M584.2 259.1l-0.2 1.3M584.7 258.1l-0.5 0.7M588.4 352.9l-1.1 0.2M586.3 241.2l-0.7 0.5M586.1 309.2l-0.9 0.1M588.8 348.7l0.7 0.2M588.6 325.3l-0.6 0.1M586.5 345.0l-0.1 1.1M589.2 254.6l1.2 0.2M586.8 257.8l-0.6 0.3M584.2 269.4l0.8 0.1M588.0 288.0l-0.4 0.0M584.4 251.1l-0.1 0.6M587.3 296.3l-0.3 1.2M588.1 343.8l0.7 0.4M589.1 281.2l0.6 0.7M584.5 335.0l-0.2 0.5M589.1 295.9l0.7 0.7M589.0 275.3l0.6 0.0M583.7 296.9l0.7 1.0M584.6 235.8l0.1 0.5M585.2 260.8l0.9 0.6M588.9 278.0l-0.3 0.7M588.8 299.8l1.1 0.1M584.6 239.6l1.2 0.1M587.6 276.6l-0.2 1.1M583.8 318.0l-0.8 1.1M583.7 302.1l-0.0 1.2M585.5 312.8l-0.7 0.2M586.4 340.3l1.4 0.1M585.2 288.4l0.7 0.9M586.5 323.0l1.2 0.4M588.2 315.0l0.5 0.4M586.1 241.7l-0.8 0.1M589.0 255.8l-0.5 1.1M587.2 284.4l0.8 0.1M585.7 346.5l-1.4 0.1M589.2 254.1l0.7 0.1M583.4 248.1l-0.1 0.6M587.0 279.3l0.9 1.0M584.5 339.0l-0.1 1.1M584.2 322.6l-0.6 0.2M586.2 311.7l0.1 1.1M587.2 271.4l-0.6 1.0M586.1 304.3l-0.4 0.8M583.9 282.5l-0.9 0.7M583.8 290.9l-0.3 0.9M584.3 311.0l-0.5 0.8M588.9 302.7l0.7 0.0M587.5 243.5l-1.1 0.1M587.9 254.2l1.3 0.0M586.4 286.6l-0.1 1.2M585.6 326.0l1.2 0.7M587.5 271.9l0.1 1.3M585.3 317.2l-1.3 0.4M584.9 328.6l-0.4 1.1M583.8 283.1l0.2 1.2M586.1 239.0l1.0 0.8M588.6 302.3l1.1 0.3M588.5 268.2l0.0 0.7M583.7 321.3l0.4 0.2M588.8 245.5l-0.9 0.8M584.9 278.3l0.8 0.7M589.1 322.5l0.0 0.9M585.8 319.0l0.4 0.5M587.5 264.3l-1.1 0.0M584.5 236.5l-0.2 0.5M586.3 305.4l-0.6 0.4M586.6 330.9l0.7 0.3M588.2 276.6l-0.5 0.1M583.9 277.2l0.1 0.8M584.7 287.3l-1.3 0.4M587.1 264.5l-0.1 0.5M583.8 328.6l0.4 0.4M588.2 248.6l0.4 0.4M588.7 315.1l0.4 0.3M588.8 249.3l-0.7 0.9M586.9 291.0l0.2 0.7M587.2 251.9l0.0 0.7M585.6 340.0l-0.2 1.0M587.2 234.2l-1.0 0.8M587.8 296.2l-1.2 0.6M585.0 253.5l0.2 0.4M584.8 243.8l0.8 0.0M583.4 291.2l-1.0 0.5M583.7 320.6l1.0 0.7M587.2 298.8l0.3 1.4M584.6 340.9l0.4 0.3M584.7 238.4l-0.5 0.3M586.8 266.6l0.5 1.1M586.6 265.8l-0.4 0.4M583.6 316.7l-1.0 0.5M587.5 344.8l-0.9 0.2M584.4 302.9l0.3 1.1M585.5 242.6l0.4 0.3M587.7 315.9l-0.1 0.7M587.7 287.3l0.0 0.6M589.3 286.7l0.1 0.6M586.0 290.0l0.3 1.1M585.4 308.1l-0.3 0.5M588.3 242.3l0.8 0.9M584.1 266.8l0.4 1.3M589.1 259.9l-0.5 1.1M586.4 271.4l0.4 0.2M583.7 239.7l-0.6 0.8M583.8 345.4l-0.8 0.0M585.5 338.2l-0.6 1.0M584.5 320.7l0.1 0.4M583.7 265.5l0.5 0.4M588.8 281.3l0.4 0.3M583.7 282.3l0.1 0.5M586.4 275.0l0.9 0.1M584.3 255.5l-0.6 0.6M585.5 300.0l-0.7 0.8M589.0 319.2l0.6 1.2M583.5 256.4l0.7 0.3M585.5 280.3l-0.3 0.7M586.2 314.6l-1.3 0.3M585.6 279.8l-1.2 0.0M588.6 247.6l0.5 0.7M585.2 289.2l-0.8 0.1M586.4 272.5l-0.3 0.9M584.5 241.1l-0.9 0.9M585.4 257.7l1.0 0.3M586.8 345.3l-0.5 0.8M586.9 342.2l-0.6 0.1M584.1 249.3l1.3 0.0M589.1 293.6l-0.8 0.7M587.3 280.7l-0.7 0.1M584.0 240.3l-0.9 0.7M588.4 329.1l0.6 0.5M585.1 336.9l0.7 0.0M587.3 309.8l0.5 0.0M584.4 260.1l-0.0 0.4M588.3 289.4l-0.4 0.7M588.4 246.4l-0.6 0.3M586.4 300.9l-0.5 0.8M587.6 240.1l-0.1 0.9M587.1 246.7l-0.3 0.4M583.7 240.2l-0.6 0.0M587.4 240.7l-0.2 0.6M586.9 321.9l-0.5 0.8M587.6 234.2l0.6 0.1M586.1 324.9l0.6 0.1M586.5 272.6l0.7 0.2M583.6 235.7l-0.6 0.3M587.6 263.3l-0.9 0.9M583.5 305.7l-1.1 0.3M584.1 320.9l-0.4 0.4M587.3 308.2l1.0 0.7M588.5 242.9l0.1 1.0M583.4 295.6l-0.7 0.1M586.3 345.6l-1.2 0.5M583.9 353.0l0.4 0.7M584.5 330.0l-0.2 0.8M586.3 295.1l-0.1 0.5M587.6 265.2l1.4 0.1M584.0 329.4l-0.6 0.6M587.0 262.7l1.0 0.8M587.8 325.4l0.1 0.4M588.0 348.2l0.6 0.9M584.3 348.4l-0.3 0.4M587.5 314.4l0.2 1.0M588.9 315.1l0.1 1.4M587.2 326.4l-0.2 1.1M588.0 293.4l0.1 0.6M587.3 320.5l0.1 0.4M587.6 311.1l-0.2 0.5M588.6 320.7l-0.4 0.3M585.0 297.4l1.4 0.0M584.4 252.0l-0.5 0.4M586.8 311.5l0.4 0.3M587.5 338.1l-0.4 0.3M585.4 287.9l1.3 0.1M588.3 349.3l-1.2 0.3M585.2 311.6l-0.4 0.2M583.8 351.4l1.3 0.4M585.6 263.1l0.5 1.2M587.2 248.8l-0.6 0.4M588.3 293.7l-0.9 0.4M585.5 351.9l-0.9 0.1M586.5 305.8l-0.4 0.6M588.9 284.1l-1.0 0.0M588.8 343.7l0.3 0.3M586.8 302.3l0.4 0.7M585.0 245.1l0.1 0.9M586.0 334.6l0.2 1.1M587.9 294.2l0.1 0.6M587.4 337.2l-1.2 0.1M589.1 303.5l0.2 1.4M587.4 242.4l-0.9 0.4M588.4 282.3l-0.4 0.9M587.0 338.9l0.3 1.0M588.9 244.5l-1.0 0.5M586.0 238.6l0.0 0.6M584.5 294.1l-0.5 1.2M587.1 325.3l-0.1 0.4M585.3 248.1l-0.2 0.7M587.0 274.1l0.6 0.1M588.9 287.5l-0.5 0.8M586.1 315.3l-1.0 0.3M588.1 275.6l0.3 0.3M586.6 241.4l0.6 0.6" stroke="#000" stroke-width="0.70" fill="none" stroke-linecap="round"/>
<rect x="589.8" y="243.2" width="14.8" height="4.2" fill="#fff" stroke="#111" stroke-width="0.6"/>
<path d="M596.6 245.6l-0.8 0.2M597.3 245.7l0.8 0.5M599.0 246.3l0.7 0.2M591.6 246.4l-0.3 0.4M603.8 246.9l-0.5 0.9M592.5 243.8l-0.0 0.5M593.0 244.6l0.9 0.1M596.4 246.5l-0.1 1.0M597.2 245.9l0.1 0.7M604.0 247.0l-1.0 0.5M594.7 244.5l0.3 0.4M600.8 245.1l-0.7 0.4M603.4 246.5l0.6 0.0M602.8 245.3l-0.8 0.0M591.4 245.8l-0.5 0.4M591.6 244.9l-1.2 0.1M592.0 244.6l0.4 0.1M601.2 244.4l-0.2 0.8M593.0 246.1l1.0 0.4M592.0 245.1l0.5 0.4M603.6 246.4l0.7 1.0M593.3 245.1l-0.9 0.5M591.8 247.0l0.5 0.4M600.9 244.9l0.3 0.4M591.6 245.7l0.7 0.7" stroke="#000" stroke-width="0.70" fill="none" stroke-linecap="round"/>
<rect x="600.4" y="234" width="4.2" height="9.4" fill="#fff" stroke="#111" stroke-width="0.6"/>
<path d="M602.5 240.1l-0.3 0.5M601.0 237.7l0.8 0.9M603.2 239.7l-0.2 1.0M601.5 238.3l1.1 0.6M601.2 241.5l1.1 0.3M602.1 238.0l-0.4 0.2M601.2 242.3l-0.0 0.5M604.2 242.6l0.8 0.3M601.4 237.2l-0.2 0.5M603.2 235.0l1.0 0.6M602.3 238.1l-0.3 0.8M602.2 234.9l-0.9 1.0M604.1 240.2l0.3 0.7M603.2 240.3l0.6 0.2M602.2 238.9l-0.7 0.5M601.1 241.5l0.2 0.9M601.7 238.2l0.4 1.1M601.3 239.2l0.9 0.6" stroke="#000" stroke-width="0.70" fill="none" stroke-linecap="round"/>
<rect x="589.8" y="234.3" width="10.6" height="8.9" fill="#fff" stroke="#000" stroke-width="1"/>
<path d="M589.4 247.4H604.7L625.4 353H589.4Z" fill="#111"/>
<path d="M601.0 269.1L601.5 269.5L602.1 269.7L602.8 269.5L603.2 269.1L604.9 266.6L605.1 265.9L605.0 265.3L604.6 264.7L602.6 263.2L602.0 262.9L601.4 262.9L600.8 263.2L599.2 264.6L598.8 265.2L598.7 265.9L599.0 266.6L601.0 269.1ZM599.7 311.2L599.1 311.6L598.7 312.2L598.6 312.9L599.0 314.4L599.4 315.1L601.8 317.3L602.6 317.7L604.3 317.9L604.9 317.8L605.4 317.5L607.0 316.1L607.5 315.2L607.5 315.0L607.4 314.3L605.9 311.1L605.5 310.6L605.0 310.3L604.4 310.3L599.7 311.2ZM608.5 330.2L608.0 329.5L607.2 329.3L603.4 329.2L602.8 329.4L602.3 329.8L601.9 330.4L601.6 331.1L601.4 332.9L601.7 333.8L602.8 335.2L603.5 335.7L604.9 336.0L605.8 335.9L608.7 334.6L609.2 334.2L609.5 333.6L609.4 332.9L608.5 330.2ZM599.8 299.5L599.7 298.9L599.3 298.3L597.6 296.9L597.0 296.7L596.4 296.7L591.1 297.7L590.5 298.0L590.1 298.5L590.0 299.1L590.0 301.5L590.2 302.3L590.8 302.8L595.8 305.0L596.6 305.1L597.3 304.8L599.1 303.2L599.6 302.3L599.8 299.5ZM593.7 248.1L592.9 248.3L592.4 248.9L592.3 249.7L592.7 250.4L593.8 251.6L594.7 252.0L597.6 252.1L598.3 251.9L598.9 251.4L599.1 250.7L599.1 249.5L598.9 248.8L598.4 248.3L597.7 248.1L593.7 248.1ZM596.4 311.6L597.1 311.3L597.5 310.6L597.5 309.9L596.6 306.7L596.3 306.2L595.8 305.8L591.9 304.1L591.2 304.0L590.6 304.2L590.1 304.7L590.0 305.4L590.0 311.3L590.2 312.1L590.8 312.6L591.7 312.7L596.4 311.6ZM593.3 276.7L593.9 276.6L594.3 276.3L594.7 275.8L595.1 275.2L595.3 274.1L595.4 273.5L595.2 273.0L593.4 270.2L593.0 269.7L592.4 269.5L591.5 269.4L590.8 269.6L590.2 270.1L590.0 270.8L590.0 275.4L590.1 276.1L590.7 276.6L591.4 276.8L593.3 276.7ZM618.6 349.4L618.4 348.7L617.8 348.2L616.5 347.6L615.8 347.5L615.2 347.7L612.4 349.6L611.9 350.1L611.7 350.7L611.7 351.0L611.9 351.7L612.4 352.3L613.1 352.4L617.3 352.4L618.0 352.2L618.6 351.7L618.7 351.0L618.6 349.4ZM598.7 344.8L598.7 345.4L598.9 345.9L601.5 349.8L602.2 350.3L603.0 350.3L603.7 349.9L606.4 347.0L606.7 346.5L606.8 346.0L606.8 345.7L606.6 345.1L606.2 344.6L605.6 344.4L600.3 343.6L599.6 343.6L599.1 344.0L598.7 344.6L598.7 344.8ZM597.6 282.7L597.1 283.0L596.8 283.6L596.8 284.3L597.5 287.1L597.9 287.8L598.7 288.1L599.5 288.0L603.3 286.0L603.7 285.7L604.0 285.1L604.1 284.6L604.1 283.7L603.5 283.1L601.4 281.8L600.8 281.6L600.2 281.7L597.6 282.7ZM597.4 341.4L598.2 341.7L598.9 341.5L599.5 341.0L601.9 336.7L602.1 335.9L601.8 335.2L601.4 334.6L600.8 334.2L600.0 334.1L596.2 335.0L595.4 335.6L595.3 335.7L595.0 336.7L595.5 339.5L595.6 340.0L596.0 340.4L597.4 341.4ZM616.2 340.2L615.4 340.2L614.8 340.6L614.5 341.2L614.5 342.0L615.9 346.1L616.2 346.6L616.6 346.9L618.2 347.6L618.9 347.7L619.5 347.5L622.5 345.5L623.0 344.9L623.1 344.1L622.8 342.7L622.5 342.0L621.8 341.6L616.2 340.2ZM614.6 319.6L614.0 320.4L613.6 322.2L613.7 323.2L614.4 324.5L614.8 325.0L615.5 325.2L617.6 325.5L618.3 325.4L618.8 325.0L619.1 324.5L619.2 323.8L618.3 319.5L618.0 318.8L617.5 318.4L616.8 318.3L616.1 318.6L614.6 319.6ZM612.3 305.3L612.5 304.5L612.3 303.8L611.7 303.3L608.9 302.2L608.0 302.1L607.2 302.6L605.7 304.5L605.5 305.0L605.4 305.6L605.7 307.4L606.1 308.1L606.8 308.5L607.6 308.4L610.8 307.2L611.5 306.6L612.3 305.3ZM599.2 256.6L599.3 257.3L599.6 257.8L601.0 258.9L601.8 259.3L602.6 259.1L605.2 257.4L605.8 256.7L605.8 255.9L605.6 254.5L605.2 253.8L604.4 253.4L601.0 252.9L600.3 253.0L599.7 253.5L599.4 254.1L599.2 256.6ZM608.3 289.9L607.9 290.3L607.7 290.9L607.7 291.3L607.8 291.9L608.1 292.4L609.8 294.1L610.8 294.5L611.7 294.5L612.5 294.3L613.0 293.7L613.1 292.8L612.4 289.5L612.1 288.9L611.6 288.4L610.9 288.3L610.3 288.6L608.3 289.9ZM596.1 296.0L596.8 295.7L597.2 295.1L598.5 291.2L598.6 290.4L598.4 289.6L598.0 288.9L597.3 288.6L596.6 288.6L590.9 290.4L590.2 290.9L590.0 291.7L590.0 295.5L590.2 296.3L590.8 296.8L591.6 296.9L596.1 296.0ZM605.3 272.9L604.7 273.1L604.2 273.6L604.1 274.2L604.1 274.4L604.2 274.9L604.5 275.4L606.9 277.8L607.5 278.1L608.2 278.1L608.9 277.9L609.4 277.6L609.8 277.0L609.8 276.3L609.3 273.7L609.0 273.0L608.5 272.6L607.8 272.5L605.3 272.9ZM611.4 333.3L610.9 333.7L610.6 334.3L610.6 334.9L610.9 335.5L613.5 338.5L614.0 338.9L614.7 339.0L615.4 338.7L615.8 338.2L616.6 336.5L616.7 335.8L616.6 333.6L616.3 332.9L615.8 332.4L615.4 332.2L614.9 332.1L614.4 332.2L611.4 333.3ZM612.5 341.4L613.1 341.0L613.4 340.5L613.4 339.8L613.1 339.2L610.2 335.8L609.4 335.4L608.5 335.4L606.9 336.2L606.4 336.6L606.1 337.2L606.2 337.8L607.3 341.7L607.6 342.4L608.3 342.7L609.1 342.7L612.5 341.4ZM592.0 324.9L591.3 324.7L590.6 324.9L590.1 325.3L590.0 326.0L590.0 328.8L590.1 329.5L590.7 330.0L591.3 330.1L592.6 330.1L593.1 329.9L593.6 329.5L594.5 328.1L594.7 327.4L594.5 326.8L594.1 326.3L592.0 324.9ZM609.7 314.1L609.1 314.6L608.9 315.3L609.1 316.0L609.6 316.6L613.1 318.8L613.8 319.0L614.6 318.7L617.0 317.2L617.5 316.5L617.6 315.7L617.3 314.3L617.0 313.7L616.4 313.3L614.0 312.5L613.0 312.6L609.7 314.1ZM590.9 257.1L590.2 257.6L590.0 258.4L590.0 260.5L590.1 261.2L590.7 261.7L591.3 261.8L593.1 261.7L593.8 261.5L594.3 261.0L594.9 259.5L595.0 258.7L594.6 258.0L593.4 257.0L592.9 256.7L592.2 256.7L590.9 257.1ZM591.2 313.5L590.5 313.9L590.2 314.6L590.2 315.4L590.7 316.0L593.8 318.2L594.4 318.5L595.1 318.4L595.7 318.0L597.9 315.4L598.2 314.8L598.2 314.2L598.0 313.4L597.7 312.8L597.1 312.4L596.4 312.4L591.2 313.5ZM594.1 283.0L594.8 282.7L595.2 282.0L595.2 281.2L594.2 278.4L593.6 277.7L592.8 277.5L591.3 277.5L590.7 277.7L590.1 278.2L590.0 278.9L590.0 282.1L590.2 282.9L590.8 283.4L591.6 283.5L594.1 283.0ZM608.2 278.9L607.7 279.1L607.4 279.6L606.7 281.4L606.6 282.1L606.9 282.6L607.4 283.0L609.4 283.7L610.1 283.7L610.6 283.4L611.0 282.9L611.0 282.3L610.5 279.6L610.2 279.0L609.6 278.7L609.0 278.7L608.2 278.9ZM606.1 317.9L605.7 318.5L605.6 319.2L606.1 321.5L606.3 322.0L606.7 322.4L607.8 323.1L608.8 323.3L611.9 322.6L612.6 322.3L613.0 321.6L613.2 320.8L613.1 319.9L612.6 319.3L608.7 316.9L607.8 316.7L607.0 317.1L606.1 317.9ZM594.0 348.9L593.8 348.1L593.2 347.7L591.7 347.2L591.1 347.1L590.5 347.3L590.1 347.8L590.0 348.4L590.0 351.2L590.1 351.8L590.6 352.3L591.2 352.4L592.8 352.4L593.5 352.3L593.9 351.8L594.1 351.1L594.0 348.9ZM592.5 268.8L593.1 268.8L593.6 268.4L595.7 266.3L596.0 265.7L596.1 265.0L595.8 264.4L594.5 262.9L594.0 262.6L593.4 262.5L591.3 262.5L590.6 262.8L590.1 263.3L590.0 263.9L590.0 267.3L590.1 267.9L590.6 268.4L591.2 268.7L592.5 268.8ZM598.2 344.0L598.1 343.2L597.6 342.5L595.8 341.1L595.1 340.9L594.4 341.0L590.9 342.4L590.2 342.9L590.0 343.7L590.0 344.8L590.2 345.6L590.9 346.1L593.7 347.1L594.3 347.2L594.9 347.0L597.3 345.5L598.0 344.7L598.2 344.0ZM603.0 318.4L602.3 318.6L601.7 319.1L600.0 321.7L599.7 322.4L599.9 323.1L600.3 323.6L601.4 324.4L602.0 324.6L602.6 324.6L603.1 324.3L604.9 322.7L605.3 322.1L605.3 321.4L605.0 319.7L604.6 318.9L603.8 318.5L603.0 318.4ZM603.8 296.5L603.7 297.2L603.9 297.9L604.5 298.3L606.0 299.1L606.7 299.2L607.3 299.0L607.8 298.4L609.2 295.8L609.3 295.0L608.9 294.2L607.8 293.2L607.1 292.8L606.3 292.9L605.6 293.2L605.1 293.5L604.8 294.0L603.8 296.5ZM608.1 299.4L608.0 300.2L608.2 300.9L608.8 301.4L612.9 303.0L613.6 303.1L614.3 302.7L614.7 302.1L614.8 301.4L613.8 296.4L613.5 295.8L613.0 295.4L612.4 295.2L611.2 295.2L610.4 295.4L609.9 296.0L608.1 299.4ZM616.3 326.1L615.5 326.2L614.9 326.8L614.8 327.6L615.2 330.6L615.4 331.2L616.0 331.7L616.2 331.8L616.8 331.9L617.4 331.8L619.5 330.8L620.1 330.1L620.2 329.2L619.9 327.4L619.4 326.7L618.6 326.3L616.3 326.1ZM596.4 325.7L596.0 326.4L596.2 327.3L596.8 327.8L600.1 329.6L600.7 329.7L601.4 329.6L601.9 329.2L601.9 329.2L602.2 328.2L602.0 326.3L601.8 325.7L601.4 325.3L599.6 324.0L598.9 323.7L598.3 323.8L597.7 324.2L596.4 325.7ZM595.8 320.9L595.2 320.5L594.6 320.6L594.0 320.9L592.5 322.7L592.2 323.4L592.3 324.0L592.7 324.6L594.2 325.5L594.7 325.7L595.3 325.6L595.8 325.3L597.0 323.8L597.3 323.3L597.3 322.7L597.0 322.2L595.8 320.9ZM597.0 273.3L596.5 273.7L596.2 274.4L596.3 275.0L596.6 275.6L597.2 275.9L600.2 276.9L600.9 276.9L601.6 276.6L602.9 275.4L603.2 274.9L603.3 274.4L603.4 273.3L603.1 272.4L602.7 271.9L602.2 271.5L601.6 271.3L601.0 271.4L597.0 273.3ZM593.4 335.7L594.0 335.5L594.5 335.1L594.7 334.5L594.6 333.9L593.5 331.5L593.0 331.0L592.3 330.8L591.1 330.9L590.5 331.1L590.1 331.5L590.0 332.1L590.0 334.3L590.1 334.9L590.6 335.4L591.2 335.6L593.4 335.7ZM600.2 288.4L599.7 289.0L599.5 289.7L599.7 290.5L600.3 291.0L604.2 292.5L604.8 292.7L605.3 292.5L606.1 292.2L606.7 291.7L607.0 291.0L607.0 290.7L606.7 289.7L604.8 287.3L604.3 286.9L603.7 286.8L603.0 287.0L600.2 288.4ZM596.6 276.5L595.9 276.5L595.2 276.9L594.8 277.6L594.9 278.3L595.9 281.0L596.3 281.6L597.0 281.9L597.7 281.8L599.7 281.1L600.3 280.6L600.6 279.9L600.6 278.9L600.5 278.3L600.2 277.8L599.6 277.4L596.6 276.5ZM597.8 305.4L597.4 306.0L597.4 306.8L598.1 309.5L598.5 310.1L599.0 310.5L599.7 310.5L604.0 309.7L604.6 309.3L605.0 308.8L605.1 308.1L604.8 306.0L604.5 305.3L603.9 304.9L600.7 303.7L600.0 303.6L599.3 304.0L597.8 305.4ZM607.8 324.8L607.6 324.1L607.1 323.5L606.7 323.3L605.9 323.1L605.1 323.4L603.2 325.2L602.8 325.7L602.7 326.3L602.8 327.3L603.0 327.9L603.5 328.4L604.1 328.5L606.3 328.5L606.9 328.4L607.4 327.9L607.6 327.3L607.8 324.8ZM608.4 343.7L607.7 344.3L607.5 345.1L607.5 345.9L607.7 346.4L608.1 346.9L610.6 348.8L611.4 349.0L612.2 348.8L614.5 347.4L614.9 346.9L615.1 346.3L615.0 345.7L614.1 343.1L613.7 342.5L613.1 342.2L612.3 342.3L608.4 343.7ZM615.6 305.9L615.4 305.3L614.8 304.9L614.2 304.8L613.5 305.0L613.1 305.5L612.3 306.8L612.1 307.4L612.2 308.0L613.5 311.1L613.8 311.6L614.3 311.9L614.7 312.0L615.4 312.0L616.1 311.7L616.5 311.1L616.5 310.4L615.6 305.9ZM608.3 326.9L608.5 327.6L609.0 328.1L609.6 328.3L610.3 328.1L613.2 326.3L613.6 325.9L613.8 325.3L613.7 324.6L613.4 324.1L612.8 323.5L612.0 323.4L609.5 323.9L609.0 324.1L608.6 324.5L608.5 325.1L608.3 326.9ZM618.1 336.5L617.5 336.7L617.1 337.2L616.7 338.0L616.6 338.7L616.9 339.4L617.5 339.8L620.6 340.5L621.2 340.5L621.8 340.2L622.1 339.7L622.1 339.1L621.8 337.3L621.5 336.8L621.1 336.4L620.5 336.3L618.1 336.5ZM595.7 288.1L596.3 287.8L596.6 287.2L596.6 286.5L596.2 284.7L595.8 284.1L595.3 283.7L594.6 283.7L591.1 284.3L590.5 284.6L590.1 285.0L590.0 285.7L590.0 288.0L590.1 288.7L590.5 289.2L591.1 289.4L591.8 289.4L595.7 288.1ZM601.9 297.8L602.4 297.5L602.8 297.0L603.8 294.6L603.9 293.9L603.6 293.3L603.0 292.8L600.6 291.8L599.9 291.8L599.2 292.1L598.8 292.7L597.9 295.1L597.9 295.9L598.4 296.6L599.8 297.8L600.4 298.1L601.0 298.0L601.9 297.8ZM603.9 304.1L604.8 304.2L605.5 303.7L606.7 302.1L607.0 301.3L606.8 300.5L606.2 300.0L603.3 298.5L602.3 298.4L601.5 298.7L600.8 299.1L600.5 299.9L600.3 301.7L600.4 302.3L600.7 302.8L601.2 303.1L603.9 304.1ZM600.8 331.7L600.6 330.9L600.1 330.4L596.5 328.5L595.9 328.4L595.2 328.5L594.7 329.0L594.2 329.7L594.0 330.4L594.1 331.1L595.2 333.4L595.6 333.9L596.1 334.1L596.8 334.1L599.7 333.5L600.4 333.0L600.8 332.2L600.8 331.7ZM602.7 259.9L602.2 260.4L602.1 261.0L602.1 261.1L602.2 261.7L602.6 262.2L605.0 264.2L605.6 264.4L606.3 264.4L606.8 264.1L607.2 263.5L607.2 262.8L606.6 259.6L606.3 259.0L605.8 258.6L605.1 258.5L604.5 258.7L602.7 259.9ZM599.8 250.9L599.9 251.5L600.3 251.9L600.9 252.2L603.4 252.5L604.0 252.5L604.5 252.1L604.9 251.6L604.9 251.0L604.5 249.1L604.3 248.6L603.8 248.2L603.2 248.1L601.1 248.1L600.5 248.2L600.0 248.7L599.8 249.3L599.8 250.9ZM604.5 350.1L604.2 350.8L604.3 351.6L604.8 352.2L605.5 352.4L609.6 352.4L610.3 352.3L610.8 351.7L611.0 351.0L611.0 350.7L610.8 350.0L610.4 349.5L608.3 347.9L607.6 347.7L607.0 347.7L606.4 348.1L604.5 350.1ZM619.5 351.1L619.7 351.8L620.2 352.3L620.8 352.4L623.1 352.4L623.8 352.2L624.4 351.6L624.4 350.8L623.9 347.8L623.6 347.2L623.0 346.8L622.4 346.7L621.7 346.9L620.0 348.1L619.5 348.6L619.3 349.3L619.5 351.1ZM597.3 321.5L598.0 321.9L598.8 321.8L599.4 321.3L600.9 318.9L601.1 318.4L601.1 317.8L600.7 317.3L599.8 316.4L599.2 316.1L598.5 316.1L597.9 316.5L596.2 318.5L595.9 319.1L595.9 319.7L596.2 320.3L597.3 321.5ZM596.6 258.6L596.1 258.9L595.8 259.3L595.0 261.2L594.9 262.0L595.2 262.7L596.5 264.2L597.1 264.6L597.8 264.6L598.5 264.3L600.9 262.2L601.2 261.7L601.3 261.2L601.4 260.9L601.2 260.3L600.9 259.8L599.2 258.4L598.6 258.1L597.9 258.1L596.6 258.6ZM607.5 309.3L606.9 309.7L606.6 310.4L606.7 311.2L607.5 312.8L607.9 313.4L608.6 313.6L609.3 313.5L611.8 312.4L612.3 311.9L612.6 311.3L612.5 310.6L611.9 309.0L611.4 308.5L610.8 308.2L610.1 308.3L607.5 309.3ZM617.9 332.4L617.4 332.8L617.3 333.4L617.4 334.8L617.6 335.3L618.0 335.7L618.5 335.8L620.3 335.6L620.8 335.4L621.2 334.9L621.2 334.4L620.8 332.4L620.6 332.0L620.3 331.6L619.8 331.5L619.3 331.7L617.9 332.4ZM606.7 283.5L605.9 283.5L605.2 283.9L604.9 284.5L604.7 285.2L604.7 285.9L605.0 286.4L606.7 288.6L607.3 289.0L607.9 289.1L608.6 288.8L610.9 287.3L611.4 286.7L611.5 286.0L611.2 285.2L610.5 284.8L606.7 283.5ZM603.5 270.0L603.2 270.8L603.4 271.5L604.0 272.1L604.8 272.2L607.4 271.9L608.1 271.6L608.6 271.0L608.6 270.2L608.1 267.4L607.8 266.8L607.3 266.4L606.7 266.2L606.0 266.4L605.5 266.9L603.5 270.0ZM613.6 331.7L614.1 331.4L614.3 330.9L614.4 330.4L614.2 328.7L614.0 328.1L613.5 327.7L612.9 327.5L612.3 327.7L609.9 329.2L609.5 329.6L609.4 330.1L609.4 330.7L609.8 331.8L610.2 332.3L610.8 332.6L611.4 332.5L613.6 331.7ZM598.4 266.9L597.7 266.5L596.9 266.4L596.3 266.8L594.5 268.5L594.2 269.1L594.1 269.7L594.3 270.3L595.3 271.9L595.8 272.4L596.5 272.6L597.1 272.5L599.6 271.3L600.2 270.8L600.4 270.0L600.1 269.2L598.4 266.9ZM592.0 256.1L592.6 255.7L592.9 255.2L593.4 253.1L593.4 252.5L593.1 251.9L592.0 250.8L591.6 250.5L591.0 250.5L590.5 250.7L590.1 251.1L590.0 251.7L590.0 255.0L590.1 255.6L590.4 256.0L590.9 256.2L591.5 256.2L592.0 256.1ZM603.7 282.4L604.5 282.6L605.3 282.3L605.8 281.7L606.6 279.7L606.7 278.9L606.3 278.2L604.6 276.6L604.0 276.2L603.3 276.2L602.7 276.5L601.8 277.3L601.4 278.2L601.3 280.0L601.4 280.7L601.9 281.3L603.7 282.4ZM590.0 321.4L590.1 322.0L590.5 322.4L591.0 322.6L591.6 322.5L592.0 322.2L593.5 320.5L593.7 319.9L593.6 319.3L593.3 318.8L591.8 317.7L591.2 317.5L590.6 317.6L590.1 318.0L590.0 318.6L590.0 321.4ZM595.4 347.5L594.9 348.0L594.7 348.7L594.8 351.1L595.0 351.8L595.5 352.3L596.2 352.4L599.8 352.4L600.6 352.2L601.1 351.7L601.2 351.0L601.0 350.2L598.8 347.0L598.2 346.6L597.6 346.4L596.9 346.6L595.4 347.5ZM595.3 252.7L594.8 252.8L594.3 253.2L594.0 253.7L593.6 255.2L593.6 256.0L594.1 256.6L595.3 257.6L595.9 257.9L596.6 257.8L597.6 257.5L598.2 257.1L598.5 256.4L598.7 254.3L598.6 253.5L598.1 253.0L597.4 252.8L595.3 252.7ZM593.8 340.4L594.3 340.1L594.6 339.6L594.7 339.0L594.4 337.5L594.2 336.9L593.8 336.5L593.2 336.4L591.3 336.3L590.6 336.4L590.1 336.9L590.0 337.6L590.0 340.0L590.1 340.6L590.5 341.1L591.1 341.3L591.7 341.2L593.8 340.4ZM600.3 340.9L600.2 341.6L600.3 342.2L600.7 342.8L601.3 343.0L605.0 343.6L605.6 343.5L606.2 343.1L606.5 342.5L606.5 341.8L605.3 337.6L605.0 336.9L604.3 336.6L604.0 336.5L603.2 336.6L602.5 337.2L600.3 340.9Z" fill="#fff"/>
<rect x="583" y="353.4" width="49" height="9.2" fill="#fff" stroke="#000" stroke-width="1"/>
<path d="M589.0 359.5l-0.6 1.2M596.7 356.3l-0.7 0.8M598.2 359.4l0.4 1.1M589.6 356.1l-0.7 0.2M596.2 360.2l-0.2 0.5M609.9 359.2l0.9 0.5M589.8 356.9l0.6 0.2M630.0 357.4l-0.8 0.0M612.6 360.7l-0.3 0.4M611.7 359.0l0.4 0.3M625.1 358.1l0.7 0.5M594.3 360.2l-0.0 0.5M622.5 355.1l0.3 0.3M618.8 355.3l-0.0 0.5M606.6 359.4l-0.1 0.9M606.8 357.6l-0.1 0.5M606.3 356.2l-1.2 0.5M587.1 355.5l-0.6 0.8M584.9 359.5l-0.8 0.1M600.3 358.5l-0.7 0.1M598.2 355.8l-0.3 0.8M596.0 357.3l0.7 0.1M630.2 358.7l0.8 1.0M600.8 356.3l0.5 0.1M593.4 356.1l-0.6 0.3M595.7 358.8l-0.7 0.2M619.8 357.1l-0.2 1.0M628.3 359.9l-0.0 1.2M601.2 357.2l-0.9 0.1M620.4 356.7l-1.0 0.3M595.6 361.1l0.1 0.7M596.3 355.2l0.9 0.6M590.6 356.3l0.2 0.9M601.9 360.1l0.5 0.6M604.0 355.4l0.4 0.4M618.1 355.5l-0.3 0.5M614.4 359.2l0.6 1.2M614.9 358.5l0.8 0.1M596.5 357.8l-1.2 0.3M586.9 359.3l-0.9 0.2M588.5 360.7l0.3 1.3M625.1 360.4l-0.5 0.1M621.3 356.7l0.7 0.3M611.7 354.5l0.2 1.2M607.3 358.2l0.8 1.1M595.7 359.3l-0.2 0.4M630.8 356.2l-1.3 0.0M626.3 360.6l0.3 0.8M600.3 361.1l0.5 0.0M629.0 360.2l-0.8 1.1M608.6 360.4l0.2 1.3M587.3 357.6l-0.3 1.2M603.9 359.3l-0.8 0.1M593.4 354.7l-0.8 0.4M602.2 358.2l0.6 0.2M595.1 356.3l-0.6 0.3M588.3 360.7l-0.1 0.4M615.7 359.4l-0.5 1.0M603.9 356.1l-0.7 0.7M617.1 355.8l0.4 1.0M602.1 358.8l0.1 1.2M600.4 358.0l-0.6 0.4M592.3 359.0l1.1 0.5M596.9 360.9l-0.1 0.6M608.5 359.3l0.0 1.0M601.3 361.3l1.0 0.6M585.1 358.1l0.5 0.1M611.7 360.9l0.5 0.7M606.4 358.8l0.3 0.7M624.1 358.4l0.5 1.1M631.0 357.6l0.7 0.0M626.2 355.7l1.0 0.7M589.4 360.5l0.6 0.5M611.9 355.3l-0.6 0.5M620.2 359.9l1.2 0.3M622.6 356.2l-0.2 0.6M609.3 359.8l0.4 0.9M590.2 360.6l-0.5 1.1M587.8 359.8l0.9 0.3M594.8 360.9l0.8 0.3M606.1 357.2l1.0 0.2M629.7 357.1l-0.7 0.2M596.8 357.7l-1.2 0.1M613.7 354.8l0.1 0.4M586.9 357.2l0.4 0.3M608.0 360.1l-1.3 0.3M604.0 355.8l-0.8 0.1M600.1 360.4l-0.2 1.3M617.0 361.2l1.2 0.6M609.5 359.4l0.4 0.5M597.9 355.7l-0.5 0.1M595.4 359.0l0.5 0.4M595.9 356.2l1.1 0.0M615.0 356.7l-0.9 0.3M594.3 361.4l0.9 0.8M622.4 354.5l-0.7 0.4M607.6 361.2l0.1 0.6M586.3 360.8l0.2 1.1M614.1 361.5l-1.3 0.3M607.7 361.0l0.3 0.4M614.1 354.7l-0.7 0.1M603.9 356.6l0.5 0.8M621.6 354.6l0.3 0.6M629.1 357.6l0.2 1.3M602.2 357.2l0.2 0.6M617.1 356.5l-0.0 1.0M620.0 359.8l0.1 1.3M628.4 361.2l-0.5 0.7M600.9 360.6l0.1 1.1M602.2 357.1l1.1 0.1M597.6 358.0l-0.8 0.9M628.4 359.2l1.0 0.9M586.6 357.4l-1.2 0.3M611.9 360.7l0.4 0.2M597.9 361.1l0.7 0.1M607.9 356.0l-0.5 0.2M588.0 361.6l0.6 0.0M603.2 360.8l0.5 0.8M621.8 358.9l-0.4 0.2M609.4 354.6l-0.4 0.2M588.4 357.5l-0.2 0.4M614.1 355.2l0.2 0.4M618.2 360.4l-0.5 0.5M595.7 361.3l-1.1 0.7M603.5 360.7l-0.6 1.0M608.1 360.1l0.0 0.7M606.4 354.8l-0.4 0.6M592.5 360.1l-0.1 0.7M627.4 361.2l0.2 0.9M584.0 357.0l-0.9 0.0M630.7 354.7l0.5 0.0M587.5 359.9l-1.2 0.0M612.4 357.2l0.2 0.5M602.7 355.4l-0.8 0.5M601.7 360.5l0.7 1.0M617.7 359.0l-0.3 1.0M626.4 361.6l-0.2 1.3M595.5 361.1l-1.0 0.4M589.2 360.8l0.3 0.7M628.7 355.1l-0.3 0.6" stroke="#000" stroke-width="0.70" fill="none" stroke-linecap="round"/>
</g>
<g id="umbrella">
<path d="M154.7 289.5V352.4" stroke="#a2a2a2" stroke-width="2.4"/>
<path d="M153.4 349.3h2.6v3.2h-2.6z" fill="#666"/>
<path d="M103 284.3L133 277.6L154.7 274.8L178 277.8L208 284.3" stroke="#111" stroke-width="0.8" fill="none"/>
<path d="M103 284.4L130.5 283L154.7 287.6L177.5 283L208 284.4" stroke="#111" stroke-width="1.2" fill="none" stroke-linejoin="round"/>
<path d="M130.5 283L154.7 280.8L177.5 283" stroke="#111" stroke-width="1.1" fill="none"/>
<path d="M132.5 276L154.7 272L178.5 276.2L154.7 274.2Z" stroke="#000" stroke-width="1.3" fill="#000" stroke-linejoin="round"/>
<path d="M154.7 268.6V290" stroke="#222" stroke-width="1.4"/>
<path d="M103 284.3l6 .2M208 284.3l-6 .2" stroke="#000" stroke-width="1.3"/>
<path d="M154.7 286.5V291.5" stroke="#555" stroke-width="2.4"/>
</g>
<path d="M24.4 241V344.1H40.6L10 354.1H42" stroke="#1a1a1a" stroke-width="0.75" fill="none"/>
<path d="M24.4 434.8V472.6" stroke="#1a1a1a" stroke-width="0.75" fill="none"/>
<path d="M42 350H49V353" stroke="#333" stroke-width="0.6" fill="none"/>
<path d="M287 343.7H350.5M389.5 343.7H521.5M560.5 343.7H570" stroke="#a6a6a6" stroke-width="1"/>
<text x="352" y="346" font-size="5.8" fill="#a0a0a0" textLength="36" lengthAdjust="spacingAndGlyphs">5229 [17'-5"]</text>
<text x="523" y="346" font-size="5.8" fill="#a0a0a0" textLength="36" lengthAdjust="spacingAndGlyphs">3433 [1'-5"]</text>
<g id="labels">
<path d="M239.5 238H271" stroke="#1a1a1a" stroke-width="0.7" fill="none" /><path d="M271 238l-3 -0.9v1.8z" fill="#222"/><circle cx="236" cy="238" r="3.5" fill="#fff" stroke="#222" stroke-width="0.7"/><text x="236" y="239.1" font-size="3.2" text-anchor="middle" fill="#444">26</text>
<path d="M240 277H271" stroke="#1a1a1a" stroke-width="0.7" fill="none" /><circle cx="236.5" cy="277" r="3.5" fill="#fff" stroke="#222" stroke-width="0.7"/><text x="236.5" y="278.1" font-size="3.2" text-anchor="middle" fill="#444">01</text>
<path d="M248 309.5H272" stroke="#1a1a1a" stroke-width="0.7" fill="none" /><circle cx="245" cy="309.5" r="3.2" fill="#fff" stroke="#222" stroke-width="0.7"/><text x="245" y="310.6" font-size="3.2" text-anchor="middle" fill="#444">02</text>
<path d="M248 317.5H272" stroke="#1a1a1a" stroke-width="0.7" fill="none" /><circle cx="245" cy="317.5" r="3.2" fill="#fff" stroke="#222" stroke-width="0.7"/><text x="245" y="318.6" font-size="3.2" text-anchor="middle" fill="#444">03</text>
<path d="M248 326H272" stroke="#1a1a1a" stroke-width="0.7" fill="none" /><circle cx="245" cy="326" r="3.2" fill="#fff" stroke="#222" stroke-width="0.7"/><text x="245" y="327.1" font-size="3.2" text-anchor="middle" fill="#444">04</text>
<path d="M263.6 338V353" stroke="#1a1a1a" stroke-width="0.7" fill="none" /><path d="M263.6 353.2l-0.9 -3h1.8z" fill="#222"/><circle cx="263.6" cy="334.6" r="3.5" fill="#fff" stroke="#222" stroke-width="0.7"/><text x="263.6" y="335.70000000000005" font-size="3.2" text-anchor="middle" fill="#444">06</text>
<path d="M58.8 323V353" stroke="#1a1a1a" stroke-width="0.7" fill="none" /><circle cx="58.8" cy="319.5" r="3.5" fill="#fff" stroke="#222" stroke-width="0.7"/><text x="58.8" y="320.6" font-size="3.2" text-anchor="middle" fill="#444">05</text>
<path d="M293.8 229.8L285.6 238" stroke="#1a1a1a" stroke-width="0.7" fill="none" /><circle cx="296.2" cy="227.2" r="3.5" fill="#fff" stroke="#222" stroke-width="0.7"/><text x="296.2" y="228.29999999999998" font-size="3.2" text-anchor="middle" fill="#444">16</text>
<path d="M411.8 211.6L404.3 220V246" stroke="#1a1a1a" stroke-width="0.7" fill="none" /><circle cx="414.5" cy="209.5" r="3.5" fill="#fff" stroke="#222" stroke-width="0.7"/><text x="414.5" y="210.6" font-size="3.2" text-anchor="middle" fill="#444">10</text>
<path d="M426.6 216.6L419.3 223.8V248.5" stroke="#1a1a1a" stroke-width="0.7" fill="none" /><circle cx="429.3" cy="214.3" r="3.5" fill="#fff" stroke="#222" stroke-width="0.7"/><text x="429.3" y="215.4" font-size="3.2" text-anchor="middle" fill="#444">11</text>
<path d="M435.6 216.6L428.3 225V248" stroke="#1a1a1a" stroke-width="0.7" fill="none" /><circle cx="438.3" cy="214.3" r="3.5" fill="#fff" stroke="#222" stroke-width="0.7"/><text x="438.3" y="215.4" font-size="3.2" text-anchor="middle" fill="#444">12</text>
<path d="M446.6 216.6L438.8 225V250" stroke="#1a1a1a" stroke-width="0.7" fill="none" /><circle cx="449.3" cy="214.3" r="3.5" fill="#fff" stroke="#222" stroke-width="0.7"/><text x="449.3" y="215.4" font-size="3.2" text-anchor="middle" fill="#444">13</text>
<path d="M455.6 216.6L447.5 225V250" stroke="#1a1a1a" stroke-width="0.7" fill="none" /><circle cx="458.3" cy="214.3" r="3.5" fill="#fff" stroke="#222" stroke-width="0.7"/><text x="458.3" y="215.4" font-size="3.2" text-anchor="middle" fill="#444">14</text>
<path d="M464.2 216.6L455.8 225V252.5" stroke="#1a1a1a" stroke-width="0.7" fill="none" /><circle cx="466.8" cy="214.3" r="3.5" fill="#fff" stroke="#222" stroke-width="0.7"/><text x="466.8" y="215.4" font-size="3.2" text-anchor="middle" fill="#444">15</text>
<path d="M476.4 293L484.3 285V255" stroke="#1a1a1a" stroke-width="0.7" fill="none" /><path d="M484.3 254.5l-0.9 3h1.8z" fill="#222"/><circle cx="473.8" cy="295.5" r="3.5" fill="#fff" stroke="#222" stroke-width="0.7"/><text x="473.8" y="296.6" font-size="2.4" text-anchor="middle" fill="#444">15a</text>
<path d="M539 264.3H570" stroke="#1a1a1a" stroke-width="0.7" fill="none" /><path d="M570.4 264.3l-3 -0.9v1.8z" fill="#222"/><circle cx="535.7" cy="264.3" r="3.5" fill="#fff" stroke="#222" stroke-width="0.7"/><text x="535.7" y="265.40000000000003" font-size="3.2" text-anchor="middle" fill="#444">19</text>
<path d="M548.5 285H570" stroke="#1a1a1a" stroke-width="0.7" fill="none" /><circle cx="545" cy="285" r="3.5" fill="#fff" stroke="#222" stroke-width="0.7"/><text x="545" y="286.1" font-size="3.2" text-anchor="middle" fill="#444">20</text>
<path d="M548.5 296.8H570" stroke="#1a1a1a" stroke-width="0.7" fill="none" /><circle cx="545" cy="296.8" r="3.5" fill="#fff" stroke="#222" stroke-width="0.7"/><text x="545" y="297.90000000000003" font-size="3.2" text-anchor="middle" fill="#444">21</text>
<path d="M548.5 307.5H570" stroke="#1a1a1a" stroke-width="0.7" fill="none" /><circle cx="545" cy="307.5" r="3.5" fill="#fff" stroke="#222" stroke-width="0.7"/><text x="545" y="308.6" font-size="3.2" text-anchor="middle" fill="#444">22</text>
<path d="M573.4 203.6L581.3 212.5V232" stroke="#1a1a1a" stroke-width="0.7" fill="none" /><circle cx="570.8" cy="201.3" r="3.5" fill="#fff" stroke="#222" stroke-width="0.7"/><text x="570.8" y="202.4" font-size="3.2" text-anchor="middle" fill="#444">17</text>
<path d="M595.5 201V232" stroke="#1a1a1a" stroke-width="0.7" fill="none" /><path d="M595.5 233.4l-0.9 -3h1.8z" fill="#222"/><circle cx="595.6" cy="197.5" r="3.5" fill="#fff" stroke="#222" stroke-width="0.7"/><text x="595.6" y="198.6" font-size="3.2" text-anchor="middle" fill="#444">18</text>
<path d="M492.6 321.7L484.5 330V353" stroke="#1a1a1a" stroke-width="0.7" fill="none" /><circle cx="495" cy="319.3" r="3.5" fill="#fff" stroke="#222" stroke-width="0.7"/><text x="495" y="320.40000000000003" font-size="3.2" text-anchor="middle" fill="#444">05</text>
<path d="M500.90000000000003 321.7L493.3 330V353" stroke="#1a1a1a" stroke-width="0.7" fill="none" /><circle cx="503.3" cy="319.3" r="3.5" fill="#fff" stroke="#222" stroke-width="0.7"/><text x="503.3" y="320.40000000000003" font-size="3.2" text-anchor="middle" fill="#444">06</text>
<path d="M512.6 321.7L504.3 330V416" stroke="#1a1a1a" stroke-width="0.7" fill="none" /><circle cx="515" cy="319.3" r="3.5" fill="#fff" stroke="#222" stroke-width="0.7"/><text x="515" y="320.40000000000003" font-size="3.2" text-anchor="middle" fill="#444">07</text>
<path d="M521.4 321.7L513.3 330V353" stroke="#1a1a1a" stroke-width="0.7" fill="none" /><circle cx="523.8" cy="319.3" r="3.5" fill="#fff" stroke="#222" stroke-width="0.7"/><text x="523.8" y="320.40000000000003" font-size="3.2" text-anchor="middle" fill="#444">08</text>
<path d="M529.6 321.7L522 330V353" stroke="#1a1a1a" stroke-width="0.7" fill="none" /><circle cx="532" cy="319.3" r="3.5" fill="#fff" stroke="#222" stroke-width="0.7"/><text x="532" y="320.40000000000003" font-size="3.2" text-anchor="middle" fill="#444">09</text>
<path d="M504.3 416L512.4 421.6" stroke="#1a1a1a" stroke-width="0.7" fill="none" /><circle cx="515" cy="423.6" r="3.5" fill="#fff" stroke="#222" stroke-width="0.7"/><text x="515" y="424.70000000000005" font-size="3.2" text-anchor="middle" fill="#444">27</text>
<path d="M517 381V415L526.4 421.6" stroke="#1a1a1a" stroke-width="0.7" fill="none" /><circle cx="529" cy="423.6" r="3.5" fill="#fff" stroke="#222" stroke-width="0.7"/><text x="529" y="424.70000000000005" font-size="3.2" text-anchor="middle" fill="#444">28</text>
<path d="M583 371.40000000000003H614" stroke="#2a2a2a" stroke-width="0.7" fill="none" stroke-dasharray="3 0.7"/><circle cx="617.5" cy="370.8" r="3.4" fill="none" stroke="#222" stroke-width="1.0"/><text x="617.5" y="371.90000000000003" font-size="3.2" text-anchor="middle" fill="#444">23</text>
<path d="M591 378.8H614" stroke="#2a2a2a" stroke-width="0.7" fill="none" stroke-dasharray="3 0.7"/><circle cx="617.5" cy="378.2" r="3.4" fill="none" stroke="#222" stroke-width="1.0"/><text x="617.5" y="379.3" font-size="3.2" text-anchor="middle" fill="#444">24</text>
<path d="M596 386.0H614" stroke="#2a2a2a" stroke-width="0.7" fill="none" stroke-dasharray="3 0.7"/><circle cx="617.5" cy="385.4" r="3.4" fill="none" stroke="#222" stroke-width="1.0"/><text x="617.5" y="386.5" font-size="3.2" text-anchor="middle" fill="#444">25</text>
<path d="M590 394.20000000000005H614" stroke="#2a2a2a" stroke-width="0.7" fill="none" stroke-dasharray="3 0.7"/><circle cx="617.5" cy="393.6" r="3.4" fill="none" stroke="#222" stroke-width="1.0"/><text x="617.5" y="394.70000000000005" font-size="3.2" text-anchor="middle" fill="#444">26</text>
<path d="M611 374L602 379M606 381L597 386.5M600 388L590 394" stroke="#2a2a2a" stroke-width="0.7" fill="none" />
<path d="M626.6 362.6V421.5" stroke="#333" stroke-width="0.6" fill="none" stroke-dasharray="1.2 0.9"/><circle cx="626.8" cy="425" r="3.5" fill="#fff" stroke="#222" stroke-width="0.7"/><text x="626.8" y="426.1" font-size="3.2" text-anchor="middle" fill="#444">28</text>
<text x="545" y="202.6" font-size="3.4" fill="#999" textLength="15.5" lengthAdjust="spacingAndGlyphs">DETAILS 1</text>
<text x="543.3" y="316.4" font-size="3.4" fill="#999" textLength="16" lengthAdjust="spacingAndGlyphs">DETAILS 2</text>
</g>
</g>
<g filter="url(#gray)">
<g id="box" fill="none" stroke="#4a4a4a" stroke-width="0.75">
<path d="M16.5 7.6H292.5" stroke-dasharray="7 2.7" stroke-dashoffset="0.6"/>
<path d="M16.5 241H292.5" stroke-dasharray="7 2.7" stroke-dashoffset="0.6"/>
<path d="M16.5 7.6V241" stroke-dasharray="6.2 3.05"/>
<path d="M141.7 7.6V241" stroke-dasharray="6.2 3.05"/>
<path d="M292.5 7.6V241" stroke-dasharray="6.2 3.05"/>
</g>
<g id="notes">
<text x="24.5" y="15.00" font-size="7.4" fill="#8a8a8a" textLength="49.80" lengthAdjust="spacingAndGlyphs" xml:space="preserve">SUB STRUCTURE</text>
<path d="M24.5 16.5H74.5" stroke="#666" stroke-width="0.6"/>
<text x="24.5" y="33.00" font-size="6.8" fill="#8a8a8a" textLength="110.50" lengthAdjust="spacingAndGlyphs" xml:space="preserve">01.200mm thk.stone wall and 200mm</text>
<text x="24.5" y="40.00" font-size="6.8" fill="#8a8a8a" textLength="48.50" lengthAdjust="spacingAndGlyphs" xml:space="preserve">thk.concrete wall</text>
<text x="24.5" y="48.00" font-size="6.8" fill="#8a8a8a" textLength="90.50" lengthAdjust="spacingAndGlyphs" xml:space="preserve">1(a). 450 mm thk. concrete wall</text>
<text x="24.5" y="55.00" font-size="6.8" fill="#8a8a8a" textLength="103.50" lengthAdjust="spacingAndGlyphs" xml:space="preserve">02.6 mm thk, Waterproof membrane</text>
<text x="24.5" y="62.00" font-size="6.8" fill="#8a8a8a" textLength="84.80" lengthAdjust="spacingAndGlyphs" xml:space="preserve">03.50mm thk. insulation layer</text>
<text x="24.5" y="69.00" font-size="6.8" fill="#8a8a8a" textLength="84.80" lengthAdjust="spacingAndGlyphs" xml:space="preserve">04.25mm thk. concrete finish</text>
<text x="24.5" y="109.00" font-size="6.8" fill="#8a8a8a" textLength="112.50" lengthAdjust="spacingAndGlyphs" xml:space="preserve">05.  100mm thk.concrete flooring with</text>
<text x="24.5" y="116.00" font-size="6.8" fill="#8a8a8a" textLength="98.50" lengthAdjust="spacingAndGlyphs" xml:space="preserve">cut and polished cement rendering</text>
<text x="24.5" y="124.00" font-size="6.8" fill="#8a8a8a" textLength="60.50" lengthAdjust="spacingAndGlyphs" xml:space="preserve">06.Concrete Screed</text>
<text x="24.5" y="134.00" font-size="6.8" fill="#8a8a8a" textLength="78.50" lengthAdjust="spacingAndGlyphs" xml:space="preserve">07. Impact sound insulation</text>
<text x="24.5" y="145.00" font-size="6.8" fill="#8a8a8a" textLength="103.50" lengthAdjust="spacingAndGlyphs" xml:space="preserve">08.6 mm thk, Waterproof membrane</text>
<text x="24.5" y="156.00" font-size="6.8" fill="#8a8a8a" textLength="107.30" lengthAdjust="spacingAndGlyphs" xml:space="preserve">09.200mm thk.Concrete ground slab</text>
<text x="24.5" y="87.40" font-size="7.4" fill="#8a8a8a" textLength="20.00" lengthAdjust="spacingAndGlyphs" xml:space="preserve">FLOOR</text>
<path d="M24.5 88.9H44.8" stroke="#666" stroke-width="0.6"/>
<text x="160" y="13.80" font-size="7.4" fill="#8a8a8a" textLength="17.00" lengthAdjust="spacingAndGlyphs" xml:space="preserve">ROOF</text>
<path d="M160 15.6H177.2" stroke="#666" stroke-width="0.6"/>
<text x="160" y="29.00" font-size="6.8" fill="#8a8a8a" textLength="117.50" lengthAdjust="spacingAndGlyphs" xml:space="preserve">10.Herbs /  grasses / vegetation / bushes</text>
<text x="160" y="36.00" font-size="6.8" fill="#8a8a8a" textLength="88.00" lengthAdjust="spacingAndGlyphs" xml:space="preserve">11.200mm growth medium soil</text>
<text x="160" y="43.00" font-size="6.8" fill="#8a8a8a" textLength="49.30" lengthAdjust="spacingAndGlyphs" xml:space="preserve">12.Drainage layer</text>
<text x="160" y="51.00" font-size="6.8" fill="#8a8a8a" textLength="44.30" lengthAdjust="spacingAndGlyphs" xml:space="preserve">13.Gravel  layer</text>
<text x="160" y="58.00" font-size="6.8" fill="#8a8a8a" textLength="97.50" lengthAdjust="spacingAndGlyphs" xml:space="preserve">14.Waterproof membrane (1000G</text>
<text x="160" y="65.00" font-size="6.8" fill="#8a8a8a" textLength="30.00" lengthAdjust="spacingAndGlyphs" xml:space="preserve">Polythene)</text>
<text x="160" y="72.00" font-size="6.8" fill="#8a8a8a" textLength="35.50" lengthAdjust="spacingAndGlyphs" xml:space="preserve">15.RCC slab</text>
<text x="160" y="80.00" font-size="6.8" fill="#8a8a8a" textLength="73.80" lengthAdjust="spacingAndGlyphs" xml:space="preserve">15(a). Interior wall finishes</text>
<text x="160" y="87.00" font-size="6.8" fill="#8a8a8a" textLength="98.30" lengthAdjust="spacingAndGlyphs" xml:space="preserve">16.RCC concrete Drainage system</text>
<text x="160" y="94.00" font-size="6.8" fill="#8a8a8a" textLength="33.80" lengthAdjust="spacingAndGlyphs" xml:space="preserve">17.  Flashing</text>
<text x="160" y="101.00" font-size="6.8" fill="#8a8a8a" textLength="99.30" lengthAdjust="spacingAndGlyphs" xml:space="preserve">18.Water supply and drainage pipe</text>
<text x="160" y="108.00" font-size="6.8" fill="#8a8a8a" textLength="65.00" lengthAdjust="spacingAndGlyphs" xml:space="preserve">19.Concrete shear wall</text>
<text x="160" y="116.00" font-size="6.8" fill="#8a8a8a" textLength="100.00" lengthAdjust="spacingAndGlyphs" xml:space="preserve">20.8mm thk. waterproof membrane</text>
<text x="160" y="123.00" font-size="6.8" fill="#8a8a8a" textLength="43.80" lengthAdjust="spacingAndGlyphs" xml:space="preserve">21.  Rubble wall</text>
<text x="160" y="130.00" font-size="6.8" fill="#8a8a8a" textLength="119.30" lengthAdjust="spacingAndGlyphs" xml:space="preserve">22.Concrete Block the strip foundation is</text>
<text x="171.3" y="137.00" font-size="6.8" fill="#8a8a8a" textLength="111.20" lengthAdjust="spacingAndGlyphs" xml:space="preserve">1000mm below ground level due to the</text>
<text x="171.3" y="145.00" font-size="6.8" fill="#8a8a8a" textLength="54.50" lengthAdjust="spacingAndGlyphs" xml:space="preserve">poor soil Condition</text>
<text x="160" y="152.00" font-size="6.8" fill="#8a8a8a" textLength="103.80" lengthAdjust="spacingAndGlyphs" xml:space="preserve">23.Steel Reinforced Concrete block</text>
<text x="160" y="159.00" font-size="6.8" fill="#8a8a8a" textLength="50.80" lengthAdjust="spacingAndGlyphs" xml:space="preserve">250mm x 850mm</text>
<text x="160" y="166.00" font-size="6.8" fill="#8a8a8a" textLength="111.30" lengthAdjust="spacingAndGlyphs" xml:space="preserve">24.Reinforcement  may be required for</text>
<text x="173.8" y="173.00" font-size="6.8" fill="#8a8a8a" textLength="93.70" lengthAdjust="spacingAndGlyphs" xml:space="preserve">longitudinal spread of load where</text>
<text x="173.8" y="181.00" font-size="6.8" fill="#8a8a8a" textLength="51.20" lengthAdjust="spacingAndGlyphs" xml:space="preserve">there are changes</text>
<text x="160" y="188.00" font-size="6.8" fill="#8a8a8a" textLength="111.30" lengthAdjust="spacingAndGlyphs" xml:space="preserve">25.Lean concrete which acts as a thick</text>
<text x="160" y="195.00" font-size="6.8" fill="#8a8a8a" textLength="120.80" lengthAdjust="spacingAndGlyphs" xml:space="preserve">blinding layer  to provide accurate starting</text>
<text x="160" y="202.00" font-size="6.8" fill="#8a8a8a" textLength="12.50" lengthAdjust="spacingAndGlyphs" xml:space="preserve">level</text>
<text x="160" y="210.00" font-size="6.8" fill="#8a8a8a" textLength="112.50" lengthAdjust="spacingAndGlyphs" xml:space="preserve">26.Concrete retaining wall with 200mm</text>
<text x="160" y="217.00" font-size="6.8" fill="#8a8a8a" textLength="66.80" lengthAdjust="spacingAndGlyphs" xml:space="preserve">thk.Concrete shear wall</text>
<text x="160" y="224.00" font-size="6.8" fill="#8a8a8a" textLength="77.50" lengthAdjust="spacingAndGlyphs" xml:space="preserve">27.Compacted gravel base</text>
<text x="160" y="231.00" font-size="6.8" fill="#8a8a8a" textLength="60.00" lengthAdjust="spacingAndGlyphs" xml:space="preserve">28.Compacted earth</text>
</g>
<text x="27.6" y="458" font-size="12.6" fill="#1c1c1c" stroke="#1c1c1c" stroke-width="0.3" textLength="125.8" lengthAdjust="spacingAndGlyphs" xml:space="preserve">DETAILED SECTION  02</text>
<text x="27.7" y="469.4" font-size="7.6" fill="#111" stroke="#111" stroke-width="0.12" textLength="33.8" lengthAdjust="spacingAndGlyphs">SCALE 1:1</text>
</g>
</svg></body></html>
